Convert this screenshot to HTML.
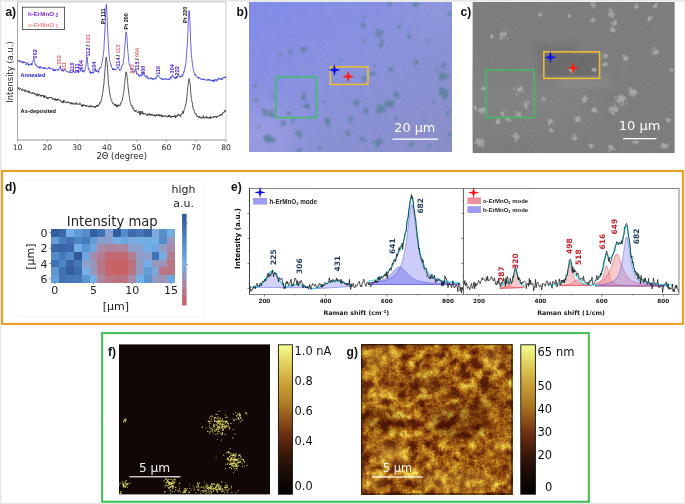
<!DOCTYPE html>
<html><head><meta charset="utf-8"><title>Figure</title>
<style>html,body{margin:0;padding:0;background:#fff;}body{width:685px;height:504px;overflow:hidden;}svg{display:block;}</style>
</head><body>
<svg width="685" height="504" viewBox="0 0 685 504">
<defs>
<linearGradient id="gb" x1="0" y1="0" x2="1" y2="1">
<stop offset="0" stop-color="#7d87ec"/><stop offset="0.45" stop-color="#858fe0"/><stop offset="1" stop-color="#868ac6"/>
</linearGradient>
<linearGradient id="gold" x1="0" y1="1" x2="0" y2="0">
<stop offset="0" stop-color="#030201"/><stop offset="0.12" stop-color="#140a05"/><stop offset="0.25" stop-color="#34160a"/>
<stop offset="0.4" stop-color="#6b2e10"/><stop offset="0.5" stop-color="#8c5218"/><stop offset="0.6" stop-color="#ab7a24"/>
<stop offset="0.72" stop-color="#c79d34"/><stop offset="0.82" stop-color="#d9bd4c"/><stop offset="0.92" stop-color="#e9e26e"/>
<stop offset="1" stop-color="#f3ff90"/>
</linearGradient>
<linearGradient id="rb" x1="0" y1="1" x2="0" y2="0">
<stop offset="0" stop-color="#cd5c5c"/><stop offset="0.25" stop-color="#a98aa8"/><stop offset="0.45" stop-color="#74b0e6"/>
<stop offset="0.7" stop-color="#5088c8"/><stop offset="1" stop-color="#2f5597"/>
</linearGradient>
<filter id="bl06" x="-50%" y="-50%" width="200%" height="200%"><feGaussianBlur stdDeviation="0.7"/></filter>
<filter id="bl1" x="-50%" y="-50%" width="200%" height="200%"><feGaussianBlur stdDeviation="1.2"/></filter>
<filter id="bl15" x="-100%" y="-100%" width="300%" height="300%"><feGaussianBlur stdDeviation="14"/></filter>
<filter id="bl3" x="-50%" y="-50%" width="200%" height="200%"><feGaussianBlur stdDeviation="3"/></filter>
<filter id="grainb" x="0" y="0" width="100%" height="100%">
<feTurbulence type="fractalNoise" baseFrequency="0.12 0.7" numOctaves="2" seed="8"/>
<feColorMatrix type="matrix" values="0 0 0 0 0.45  0 0 0 0 0.45  0 0 0 0 0.6  1.6 0 0 0 -0.55"/>
</filter>
<filter id="grain" x="0" y="0" width="100%" height="100%">
<feTurbulence type="fractalNoise" baseFrequency="0.9" numOctaves="2" seed="3"/>
<feColorMatrix type="matrix" values="0 0 0 0 0.5  0 0 0 0 0.5  0 0 0 0 0.5  1.2 0 0 0 -0.35"/>
</filter>
<filter id="afm" x="0" y="0" width="100%" height="100%" color-interpolation-filters="sRGB">
<feTurbulence type="fractalNoise" baseFrequency="0.10" numOctaves="4" seed="11" result="t"/>
<feColorMatrix type="matrix" values="1.1 1.1 0 0 -0.70  1.1 1.1 0 0 -0.70  1.1 1.1 0 0 -0.70  0 0 0 0 1" result="lo"/>
<feTurbulence type="fractalNoise" baseFrequency="0.55" numOctaves="2" seed="5" result="t2"/>
<feColorMatrix in="t2" type="matrix" values="1 1 0 0 -0.5  1 1 0 0 -0.5  1 1 0 0 -0.5  0 0 0 0 1" result="hi"/>
<feComposite in="lo" in2="hi" operator="arithmetic" k1="0" k2="1" k3="0.34" k4="-0.17"/>
<feComponentTransfer>
<feFuncR type="table" tableValues="0.33 0.42 0.52 0.61 0.70 0.78 0.85 0.91 0.95"/>
<feFuncG type="table" tableValues="0.11 0.17 0.25 0.34 0.45 0.56 0.68 0.80 0.90"/>
<feFuncB type="table" tableValues="0.03 0.04 0.05 0.07 0.10 0.14 0.20 0.29 0.40"/>
</feComponentTransfer>
</filter>
<clipPath id="cb"><rect x="249" y="2" width="203" height="150"/></clipPath>
<clipPath id="cc"><rect x="472.4" y="2" width="202.4" height="151.2"/></clipPath>
<clipPath id="cf"><rect x="119" y="344.4" width="151" height="150"/></clipPath>
<clipPath id="ca"><rect x="17.5" y="2" width="208.5" height="138"/></clipPath>
<clipPath id="ce1"><rect x="249.5" y="188.4" width="213.9" height="106.2"/></clipPath>
<clipPath id="ce2"><rect x="463.4" y="188.4" width="215.6" height="106.2"/></clipPath>
</defs>
<rect width="685" height="504" fill="#ffffff"/>
<rect x="0" y="0" width="685" height="1.6" fill="#e6e6e6"/>
<rect x="0" y="502.8" width="685" height="1.2" fill="#e6e6e6"/>

<rect x="0" y="0" width="1.5" height="504" fill="#e6e6e6"/>
<rect x="4.9" y="1.6" width="0.6" height="161" fill="#ececec"/>
<rect x="683.8" y="0" width="1.2" height="504" fill="#ececec"/>

<rect x="17.5" y="2.0" width="208.5" height="138.0" fill="#fff" stroke="#b4b4b4" stroke-width="0.7"/>
<path d="M17.5 2.0V140.0H226.0" fill="none" stroke="#9a9a9a" stroke-width="0.7"/>
<g clip-path="url(#ca)"><path d="M17.5 87.5 L17.7 88.3 L18.0 88.9 L18.2 88.8 L18.4 88.4 L18.7 87.4 L18.9 87.8 L19.1 89.4 L19.4 89.8 L19.6 89.1 L19.8 89.0 L20.1 89.0 L20.3 88.6 L20.5 88.3 L20.7 88.3 L21.0 89.0 L21.2 89.2 L21.4 89.6 L21.7 90.6 L21.9 91.0 L22.1 90.0 L22.4 89.1 L22.6 89.0 L22.8 88.9 L23.1 89.3 L23.3 90.1 L23.5 90.3 L23.8 90.2 L24.0 90.3 L24.2 90.2 L24.5 89.8 L24.7 90.8 L24.9 91.8 L25.2 90.6 L25.4 89.7 L25.6 89.9 L25.8 90.5 L26.1 91.4 L26.3 92.0 L26.5 92.0 L26.8 92.1 L27.0 92.2 L27.2 92.1 L27.5 91.9 L27.7 91.5 L27.9 90.5 L28.2 90.6 L28.4 92.4 L28.6 92.3 L28.9 91.2 L29.1 92.0 L29.3 92.4 L29.6 91.8 L29.8 92.6 L30.0 93.2 L30.3 92.9 L30.5 92.4 L30.7 92.3 L31.0 92.9 L31.2 93.1 L31.4 93.5 L31.6 93.8 L31.9 93.4 L32.1 93.2 L32.3 92.7 L32.6 92.7 L32.8 93.7 L33.0 93.3 L33.3 92.6 L33.5 92.8 L33.7 92.7 L34.0 93.0 L34.2 93.8 L34.4 93.2 L34.7 93.1 L34.9 94.2 L35.1 94.8 L35.4 94.8 L35.6 94.3 L35.8 93.7 L36.1 93.7 L36.3 94.2 L36.5 95.6 L36.7 96.1 L37.0 95.8 L37.2 95.8 L37.4 94.3 L37.7 93.6 L37.9 94.3 L38.1 95.0 L38.4 96.2 L38.6 95.3 L38.8 94.5 L39.1 95.2 L39.3 95.0 L39.5 94.5 L39.8 94.5 L40.0 95.3 L40.2 95.2 L40.5 95.4 L40.7 96.0 L40.9 95.9 L41.2 96.7 L41.4 96.0 L41.6 94.9 L41.9 95.6 L42.1 95.5 L42.3 95.0 L42.5 95.5 L42.8 96.0 L43.0 95.6 L43.2 95.4 L43.5 96.3 L43.7 97.3 L43.9 96.1 L44.2 96.1 L44.4 97.6 L44.6 96.5 L44.9 95.4 L45.1 96.2 L45.3 96.8 L45.6 96.7 L45.8 97.4 L46.0 97.2 L46.3 97.0 L46.5 97.4 L46.7 97.9 L47.0 98.6 L47.2 99.0 L47.4 98.4 L47.7 97.5 L47.9 98.6 L48.1 99.1 L48.3 98.2 L48.6 97.4 L48.8 97.6 L49.0 97.8 L49.3 97.3 L49.5 97.1 L49.7 97.1 L50.0 97.9 L50.2 97.4 L50.4 97.0 L50.7 97.8 L50.9 97.7 L51.1 97.1 L51.4 97.4 L51.6 97.4 L51.8 98.2 L52.1 98.4 L52.3 98.6 L52.5 99.6 L52.8 98.7 L53.0 98.3 L53.2 98.7 L53.4 98.2 L53.7 98.3 L53.9 98.8 L54.1 99.4 L54.4 100.1 L54.6 99.3 L54.8 98.6 L55.1 99.5 L55.3 100.3 L55.5 98.9 L55.8 99.0 L56.0 100.2 L56.2 100.4 L56.5 100.3 L56.7 99.2 L56.9 99.5 L57.2 100.6 L57.4 100.6 L57.6 98.9 L57.9 99.3 L58.1 99.8 L58.3 99.0 L58.6 99.3 L58.8 98.9 L59.0 98.9 L59.2 99.4 L59.5 99.8 L59.7 100.3 L59.9 100.5 L60.2 99.9 L60.4 100.0 L60.6 101.3 L60.9 101.9 L61.1 101.5 L61.3 101.4 L61.6 101.9 L61.8 102.3 L62.0 102.8 L62.3 102.0 L62.5 101.1 L62.7 102.0 L63.0 102.9 L63.2 103.0 L63.4 101.1 L63.7 100.3 L63.9 99.9 L64.1 100.4 L64.3 102.1 L64.6 101.8 L64.8 101.7 L65.0 102.4 L65.3 102.4 L65.5 102.3 L65.7 102.8 L66.0 102.5 L66.2 102.5 L66.4 102.4 L66.7 101.7 L66.9 102.0 L67.1 102.9 L67.4 102.6 L67.6 102.6 L67.8 103.2 L68.1 102.2 L68.3 101.7 L68.5 102.2 L68.8 101.9 L69.0 102.3 L69.2 102.4 L69.5 102.0 L69.7 102.6 L69.9 103.0 L70.1 103.1 L70.4 104.1 L70.6 103.7 L70.8 102.8 L71.1 102.5 L71.3 102.7 L71.5 103.9 L71.8 104.3 L72.0 103.4 L72.2 102.7 L72.5 103.7 L72.7 103.8 L72.9 103.7 L73.2 103.3 L73.4 103.6 L73.6 104.6 L73.9 104.2 L74.1 103.4 L74.3 103.1 L74.6 103.6 L74.8 103.9 L75.0 103.8 L75.2 103.6 L75.5 103.8 L75.7 104.6 L75.9 103.6 L76.2 102.2 L76.4 102.5 L76.6 102.9 L76.9 102.8 L77.1 103.5 L77.3 104.4 L77.6 104.1 L77.8 103.7 L78.0 104.0 L78.3 104.5 L78.5 104.6 L78.7 104.2 L79.0 104.4 L79.2 104.1 L79.4 104.4 L79.7 103.7 L79.9 102.8 L80.1 103.8 L80.4 104.5 L80.6 104.4 L80.8 105.0 L81.0 105.0 L81.3 105.1 L81.5 106.2 L81.7 105.2 L82.0 105.3 L82.2 106.4 L82.4 106.6 L82.7 104.5 L82.9 104.7 L83.1 106.0 L83.4 104.6 L83.6 104.9 L83.8 105.2 L84.1 104.9 L84.3 105.7 L84.5 105.3 L84.8 105.5 L85.0 105.4 L85.2 105.2 L85.5 105.5 L85.7 105.3 L85.9 106.6 L86.1 106.8 L86.4 105.3 L86.6 105.2 L86.8 105.4 L87.1 105.5 L87.3 106.0 L87.5 106.1 L87.8 106.1 L88.0 105.8 L88.2 106.0 L88.5 106.8 L88.7 106.3 L88.9 105.8 L89.2 106.2 L89.4 106.9 L89.6 107.4 L89.9 106.4 L90.1 106.0 L90.3 105.6 L90.6 105.1 L90.8 105.9 L91.0 106.7 L91.3 107.2 L91.5 106.7 L91.7 105.6 L91.9 105.9 L92.2 106.5 L92.4 106.6 L92.6 106.7 L92.9 106.9 L93.1 107.1 L93.3 107.2 L93.6 106.6 L93.8 106.7 L94.0 106.7 L94.3 106.2 L94.5 107.3 L94.7 107.5 L95.0 105.9 L95.2 106.5 L95.4 107.5 L95.7 107.3 L95.9 106.8 L96.1 106.4 L96.4 106.1 L96.6 105.5 L96.8 106.3 L97.1 106.4 L97.3 105.3 L97.5 105.1 L97.7 106.2 L98.0 106.7 L98.2 105.4 L98.4 104.7 L98.7 104.9 L98.9 105.1 L99.1 103.7 L99.4 103.5 L99.6 103.8 L99.8 102.7 L100.1 102.2 L100.3 102.5 L100.5 103.0 L100.8 102.2 L101.0 101.0 L101.2 99.9 L101.5 99.1 L101.7 99.1 L101.9 97.2 L102.2 95.5 L102.4 95.5 L102.6 93.6 L102.8 91.6 L103.1 91.1 L103.3 88.7 L103.5 86.2 L103.8 84.8 L104.0 82.9 L104.2 79.5 L104.5 76.7 L104.7 74.3 L104.9 71.2 L105.2 68.4 L105.4 65.0 L105.6 62.1 L105.9 59.2 L106.1 57.1 L106.3 57.3 L106.6 58.5 L106.8 61.1 L107.0 62.7 L107.3 64.9 L107.5 68.2 L107.7 70.8 L108.0 75.4 L108.2 79.2 L108.4 82.1 L108.6 85.3 L108.9 86.4 L109.1 87.0 L109.3 90.4 L109.6 92.8 L109.8 92.7 L110.0 94.6 L110.3 96.4 L110.5 96.8 L110.7 97.5 L111.0 98.8 L111.2 99.7 L111.4 100.7 L111.7 101.1 L111.9 101.1 L112.1 102.1 L112.4 102.8 L112.6 103.5 L112.8 103.6 L113.1 103.3 L113.3 103.2 L113.5 104.2 L113.7 104.3 L114.0 103.9 L114.2 104.3 L114.4 104.6 L114.7 105.6 L114.9 104.7 L115.1 104.4 L115.4 104.4 L115.6 105.3 L115.8 106.0 L116.1 104.6 L116.3 104.6 L116.5 106.0 L116.8 107.2 L117.0 107.2 L117.2 106.0 L117.5 105.3 L117.7 106.5 L117.9 106.2 L118.2 105.2 L118.4 105.0 L118.6 104.5 L118.9 105.5 L119.1 106.2 L119.3 105.7 L119.5 105.5 L119.8 105.6 L120.0 105.8 L120.2 105.0 L120.5 103.8 L120.7 103.0 L120.9 103.3 L121.2 103.1 L121.4 101.4 L121.6 100.9 L121.9 101.0 L122.1 100.9 L122.3 100.6 L122.6 98.9 L122.8 96.9 L123.0 96.0 L123.3 94.4 L123.5 93.1 L123.7 92.2 L124.0 90.5 L124.2 87.4 L124.4 84.6 L124.6 83.7 L124.9 81.4 L125.1 78.8 L125.3 77.3 L125.6 74.9 L125.8 72.6 L126.0 72.0 L126.3 71.9 L126.5 72.3 L126.7 74.1 L127.0 75.6 L127.2 77.6 L127.4 80.3 L127.7 82.3 L127.9 84.8 L128.1 87.5 L128.4 88.9 L128.6 91.1 L128.8 93.7 L129.1 95.2 L129.3 95.9 L129.5 97.9 L129.8 100.5 L130.0 101.5 L130.2 102.3 L130.4 102.2 L130.7 102.9 L130.9 103.7 L131.1 105.4 L131.4 106.2 L131.6 106.0 L131.8 105.9 L132.1 105.4 L132.3 106.3 L132.5 107.6 L132.8 108.5 L133.0 108.6 L133.2 107.7 L133.5 108.4 L133.7 109.1 L133.9 109.6 L134.2 111.2 L134.4 111.0 L134.6 110.8 L134.9 109.9 L135.1 110.9 L135.3 111.8 L135.5 111.1 L135.8 110.8 L136.0 110.4 L136.2 110.3 L136.5 110.4 L136.7 111.1 L136.9 111.5 L137.2 112.2 L137.4 112.5 L137.6 112.0 L137.9 111.9 L138.1 112.8 L138.3 112.6 L138.6 112.3 L138.8 111.7 L139.0 110.8 L139.3 112.0 L139.5 112.4 L139.7 113.8 L140.0 115.2 L140.2 113.1 L140.4 111.3 L140.7 112.1 L140.9 113.5 L141.1 114.2 L141.3 113.6 L141.6 112.4 L141.8 111.9 L142.0 111.3 L142.3 111.0 L142.5 112.6 L142.7 113.8 L143.0 113.0 L143.2 112.7 L143.4 114.2 L143.7 114.3 L143.9 113.4 L144.1 113.7 L144.4 114.1 L144.6 113.9 L144.8 113.4 L145.1 113.2 L145.3 113.6 L145.5 113.6 L145.8 114.2 L146.0 115.0 L146.2 114.9 L146.4 115.5 L146.7 115.8 L146.9 115.6 L147.1 115.0 L147.4 114.2 L147.6 115.2 L147.8 115.0 L148.1 113.6 L148.3 113.6 L148.5 114.0 L148.8 114.7 L149.0 115.2 L149.2 114.9 L149.5 113.6 L149.7 113.9 L149.9 115.2 L150.2 115.1 L150.4 114.6 L150.6 114.9 L150.9 115.7 L151.1 115.5 L151.3 114.1 L151.6 113.9 L151.8 114.5 L152.0 114.0 L152.2 114.4 L152.5 115.0 L152.7 114.9 L152.9 115.4 L153.2 115.0 L153.4 115.7 L153.6 115.6 L153.9 114.5 L154.1 115.0 L154.3 115.8 L154.6 115.6 L154.8 114.8 L155.0 115.1 L155.3 115.9 L155.5 116.7 L155.7 116.3 L156.0 115.4 L156.2 115.2 L156.4 114.4 L156.7 114.8 L156.9 115.9 L157.1 115.4 L157.4 114.7 L157.6 114.6 L157.8 115.7 L158.0 116.0 L158.3 115.6 L158.5 115.5 L158.7 115.3 L159.0 115.4 L159.2 114.2 L159.4 114.6 L159.7 116.1 L159.9 115.0 L160.1 114.7 L160.4 115.5 L160.6 115.1 L160.8 115.2 L161.1 114.8 L161.3 115.1 L161.5 116.7 L161.8 115.9 L162.0 115.3 L162.2 116.7 L162.5 116.8 L162.7 115.9 L162.9 115.4 L163.1 115.7 L163.4 116.1 L163.6 116.4 L163.8 115.7 L164.1 116.0 L164.3 116.5 L164.5 116.3 L164.8 116.2 L165.0 115.2 L165.2 115.3 L165.5 115.5 L165.7 115.6 L165.9 116.5 L166.2 117.2 L166.4 117.0 L166.6 116.2 L166.9 115.9 L167.1 116.4 L167.3 117.2 L167.6 116.8 L167.8 116.1 L168.0 115.9 L168.3 116.1 L168.5 116.9 L168.7 115.4 L168.9 115.1 L169.2 116.2 L169.4 114.9 L169.6 115.4 L169.9 116.5 L170.1 116.5 L170.3 115.9 L170.6 116.7 L170.8 117.5 L171.0 116.2 L171.3 116.9 L171.5 117.4 L171.7 117.1 L172.0 117.3 L172.2 115.9 L172.4 116.1 L172.7 116.9 L172.9 116.2 L173.1 116.9 L173.4 116.4 L173.6 116.0 L173.8 116.8 L174.0 116.6 L174.3 116.4 L174.5 115.6 L174.7 114.8 L175.0 115.0 L175.2 115.7 L175.4 118.1 L175.7 118.0 L175.9 116.1 L176.1 115.9 L176.4 116.4 L176.6 116.7 L176.8 115.7 L177.1 115.8 L177.3 116.3 L177.5 116.1 L177.8 115.1 L178.0 113.9 L178.2 115.1 L178.5 114.9 L178.7 114.7 L178.9 115.7 L179.2 115.5 L179.4 115.5 L179.6 115.4 L179.8 115.4 L180.1 114.9 L180.3 114.6 L180.5 116.1 L180.8 116.6 L181.0 115.3 L181.2 114.7 L181.5 113.9 L181.7 113.6 L181.9 113.7 L182.2 113.8 L182.4 113.2 L182.6 111.3 L182.9 111.2 L183.1 112.4 L183.3 113.5 L183.6 113.3 L183.8 111.1 L184.0 110.0 L184.3 109.5 L184.5 108.9 L184.7 108.2 L184.9 106.8 L185.2 106.6 L185.4 106.5 L185.6 105.1 L185.9 104.0 L186.1 103.7 L186.3 102.1 L186.6 99.2 L186.8 97.6 L187.0 95.0 L187.3 92.7 L187.5 90.7 L187.7 87.5 L188.0 85.5 L188.2 84.5 L188.4 82.1 L188.7 80.3 L188.9 79.9 L189.1 78.6 L189.4 79.4 L189.6 80.9 L189.8 81.5 L190.1 83.7 L190.3 86.5 L190.5 89.6 L190.7 92.1 L191.0 94.9 L191.2 97.5 L191.4 98.4 L191.7 99.7 L191.9 101.9 L192.1 102.7 L192.4 102.9 L192.6 104.6 L192.8 107.1 L193.1 108.5 L193.3 109.1 L193.5 109.6 L193.8 109.2 L194.0 109.8 L194.2 110.5 L194.5 111.6 L194.7 112.9 L194.9 112.9 L195.2 113.4 L195.4 114.0 L195.6 114.2 L195.8 114.5 L196.1 114.4 L196.3 113.8 L196.5 114.5 L196.8 116.1 L197.0 116.6 L197.2 116.0 L197.5 115.9 L197.7 116.0 L197.9 116.0 L198.2 116.1 L198.4 116.1 L198.6 117.5 L198.9 117.9 L199.1 117.8 L199.3 117.1 L199.6 116.1 L199.8 116.6 L200.0 117.3 L200.3 117.3 L200.5 117.6 L200.7 117.5 L201.0 117.7 L201.2 118.6 L201.4 117.4 L201.6 117.3 L201.9 117.8 L202.1 118.1 L202.3 117.9 L202.6 117.6 L202.8 118.2 L203.0 116.7 L203.3 115.5 L203.5 116.9 L203.7 117.8 L204.0 118.3 L204.2 118.4 L204.4 117.3 L204.7 117.4 L204.9 117.6 L205.1 117.4 L205.4 117.5 L205.6 117.8 L205.8 117.3 L206.1 116.6 L206.3 116.2 L206.5 117.8 L206.8 118.4 L207.0 116.9 L207.2 116.9 L207.4 117.0 L207.7 117.3 L207.9 117.9 L208.1 118.2 L208.4 118.1 L208.6 117.7 L208.8 117.5 L209.1 118.4 L209.3 118.4 L209.5 117.9 L209.8 116.9 L210.0 117.0 L210.2 118.2 L210.5 118.5 L210.7 117.0 L210.9 116.4 L211.2 117.7 L211.4 117.7 L211.6 117.4 L211.9 117.5 L212.1 118.1 L212.3 118.0 L212.5 117.5 L212.8 117.4 L213.0 117.3 L213.2 117.5 L213.5 117.3 L213.7 116.3 L213.9 117.3 L214.2 117.4 L214.4 116.5 L214.6 116.7 L214.9 116.5 L215.1 116.6 L215.3 116.7 L215.6 116.7 L215.8 116.0 L216.0 116.5 L216.3 117.7 L216.5 117.7 L216.7 117.0 L217.0 116.2 L217.2 116.0 L217.4 116.7 L217.7 116.3 L217.9 116.5 L218.1 116.7 L218.3 116.4 L218.6 116.1 L218.8 115.6 L219.0 115.9 L219.3 116.2 L219.5 116.2 L219.7 115.4 L220.0 114.8 L220.2 115.2 L220.4 114.4 L220.7 114.7 L220.9 115.6 L221.1 114.9 L221.4 114.1 L221.6 114.3 L221.8 114.3 L222.1 114.6 L222.3 114.8 L222.5 112.9 L222.8 112.8 L223.0 113.1 L223.2 112.3 L223.4 112.2 L223.7 112.2 L223.9 112.2 L224.1 112.4 L224.4 112.3 L224.6 111.4 L224.8 110.3 L225.1 110.0 L225.3 110.7 L225.5 111.3 L225.8 111.8 L226.0 110.5" fill="none" stroke="#141414" stroke-width="0.72"/>
<path d="M17.5 61.0 L17.7 60.3 L18.0 60.8 L18.2 60.5 L18.4 60.4 L18.7 60.8 L18.9 60.0 L19.1 60.6 L19.4 61.9 L19.6 61.1 L19.8 60.8 L20.1 61.5 L20.3 61.5 L20.5 61.2 L20.7 60.7 L21.0 61.2 L21.2 62.1 L21.4 62.0 L21.7 61.3 L21.9 62.0 L22.1 62.9 L22.4 62.0 L22.6 63.0 L22.8 63.3 L23.1 61.6 L23.3 61.5 L23.5 61.2 L23.8 62.0 L24.0 63.0 L24.2 62.2 L24.5 63.0 L24.7 62.6 L24.9 62.4 L25.2 62.3 L25.4 61.8 L25.6 62.3 L25.8 63.4 L26.1 65.0 L26.3 64.2 L26.5 63.8 L26.8 63.9 L27.0 63.9 L27.2 63.7 L27.5 62.6 L27.7 62.2 L27.9 63.3 L28.2 65.3 L28.4 65.4 L28.6 64.0 L28.9 64.9 L29.1 65.4 L29.3 64.5 L29.6 64.6 L29.8 64.5 L30.0 64.3 L30.3 63.7 L30.5 64.1 L30.7 64.8 L31.0 65.1 L31.2 65.0 L31.4 63.4 L31.6 63.4 L31.9 65.1 L32.1 64.7 L32.3 63.2 L32.6 62.3 L32.8 61.6 L33.0 61.2 L33.3 60.1 L33.5 59.7 L33.7 59.3 L34.0 58.5 L34.2 60.2 L34.4 62.1 L34.7 62.6 L34.9 63.0 L35.1 64.2 L35.4 64.6 L35.6 63.8 L35.8 64.5 L36.1 66.1 L36.3 66.2 L36.5 65.5 L36.7 65.4 L37.0 65.7 L37.2 65.7 L37.4 66.8 L37.7 67.8 L37.9 67.6 L38.1 67.1 L38.4 67.2 L38.6 67.0 L38.8 66.7 L39.1 66.5 L39.3 66.5 L39.5 68.0 L39.8 68.6 L40.0 67.3 L40.2 66.7 L40.5 66.5 L40.7 67.0 L40.9 67.7 L41.2 66.8 L41.4 66.9 L41.6 67.4 L41.9 67.9 L42.1 68.3 L42.3 68.5 L42.5 68.3 L42.8 67.3 L43.0 67.8 L43.2 68.5 L43.5 68.7 L43.7 67.6 L43.9 67.4 L44.2 68.1 L44.4 67.8 L44.6 67.6 L44.9 68.7 L45.1 68.9 L45.3 67.6 L45.6 68.2 L45.8 68.7 L46.0 68.4 L46.3 68.8 L46.5 69.1 L46.7 68.9 L47.0 69.2 L47.2 69.2 L47.4 68.5 L47.7 68.2 L47.9 68.3 L48.1 68.6 L48.3 68.4 L48.6 67.4 L48.8 68.0 L49.0 68.3 L49.3 67.3 L49.5 68.2 L49.7 68.9 L50.0 69.0 L50.2 69.1 L50.4 68.3 L50.7 68.0 L50.9 68.3 L51.1 68.9 L51.4 68.7 L51.6 68.8 L51.8 68.5 L52.1 68.6 L52.3 68.6 L52.5 68.5 L52.8 69.8 L53.0 70.4 L53.2 71.0 L53.4 69.7 L53.7 69.2 L53.9 70.7 L54.1 70.8 L54.4 69.8 L54.6 69.5 L54.8 70.9 L55.1 70.0 L55.3 69.4 L55.5 70.7 L55.8 70.1 L56.0 69.9 L56.2 69.7 L56.5 69.1 L56.7 69.2 L56.9 69.7 L57.2 70.1 L57.4 70.4 L57.6 70.0 L57.9 69.4 L58.1 70.3 L58.3 70.6 L58.6 69.3 L58.8 69.2 L59.0 69.3 L59.2 68.8 L59.5 68.6 L59.7 68.2 L59.9 67.5 L60.2 65.9 L60.4 65.7 L60.6 67.9 L60.9 69.1 L61.1 69.9 L61.3 70.5 L61.6 69.8 L61.8 70.4 L62.0 70.6 L62.3 69.1 L62.5 70.6 L62.7 70.8 L63.0 70.1 L63.2 71.5 L63.4 71.3 L63.7 70.0 L63.9 70.3 L64.1 70.3 L64.3 69.0 L64.6 69.2 L64.8 69.9 L65.0 70.0 L65.3 70.1 L65.5 70.1 L65.7 70.0 L66.0 70.0 L66.2 70.2 L66.4 71.3 L66.7 71.5 L66.9 71.5 L67.1 71.5 L67.4 71.0 L67.6 71.4 L67.8 71.7 L68.1 72.0 L68.3 72.2 L68.5 72.8 L68.8 72.7 L69.0 71.8 L69.2 71.4 L69.5 71.5 L69.7 72.4 L69.9 72.1 L70.1 71.8 L70.4 72.5 L70.6 72.5 L70.8 71.9 L71.1 72.4 L71.3 72.8 L71.5 72.5 L71.8 73.0 L72.0 73.3 L72.2 72.5 L72.5 71.6 L72.7 71.8 L72.9 71.7 L73.2 70.4 L73.4 70.9 L73.6 71.9 L73.9 71.9 L74.1 71.6 L74.3 72.1 L74.6 72.6 L74.8 72.0 L75.0 71.7 L75.2 71.7 L75.5 72.4 L75.7 72.4 L75.9 72.7 L76.2 72.7 L76.4 72.9 L76.6 72.5 L76.9 71.3 L77.1 71.2 L77.3 71.6 L77.6 71.9 L77.8 72.0 L78.0 70.8 L78.3 70.9 L78.5 72.8 L78.7 72.8 L79.0 71.9 L79.2 72.0 L79.4 71.8 L79.7 71.8 L79.9 71.6 L80.1 71.4 L80.4 70.9 L80.6 68.9 L80.8 68.1 L81.0 68.9 L81.3 69.0 L81.5 69.3 L81.7 69.3 L82.0 70.5 L82.2 71.7 L82.4 70.4 L82.7 70.0 L82.9 71.0 L83.1 72.2 L83.4 72.2 L83.6 72.0 L83.8 71.3 L84.1 70.2 L84.3 70.9 L84.5 71.5 L84.8 70.5 L85.0 70.3 L85.2 69.1 L85.5 67.2 L85.7 66.8 L85.9 66.1 L86.1 63.4 L86.4 60.9 L86.6 58.4 L86.8 56.6 L87.1 57.3 L87.3 58.1 L87.5 60.7 L87.8 64.3 L88.0 66.1 L88.2 67.2 L88.5 69.2 L88.7 69.6 L88.9 68.8 L89.2 69.7 L89.4 70.3 L89.6 71.6 L89.9 72.7 L90.1 71.8 L90.3 71.5 L90.6 73.5 L90.8 73.6 L91.0 71.9 L91.3 72.5 L91.5 73.2 L91.7 73.2 L91.9 72.5 L92.2 71.8 L92.4 72.5 L92.6 73.0 L92.9 71.8 L93.1 72.3 L93.3 73.4 L93.6 72.5 L93.8 71.8 L94.0 71.7 L94.3 71.2 L94.5 70.0 L94.7 70.2 L95.0 69.9 L95.2 70.0 L95.4 70.3 L95.7 70.2 L95.9 71.1 L96.1 72.1 L96.4 71.7 L96.6 70.1 L96.8 70.3 L97.1 70.4 L97.3 70.3 L97.5 70.9 L97.7 71.5 L98.0 71.9 L98.2 71.0 L98.4 71.4 L98.7 72.5 L98.9 70.9 L99.1 68.6 L99.4 68.4 L99.6 69.2 L99.8 67.8 L100.1 67.5 L100.3 68.1 L100.5 67.3 L100.8 67.2 L101.0 67.5 L101.2 66.4 L101.5 65.3 L101.7 64.5 L101.9 63.1 L102.2 62.4 L102.4 61.9 L102.6 60.3 L102.8 57.5 L103.1 56.3 L103.3 54.6 L103.5 52.0 L103.8 51.0 L104.0 47.8 L104.2 42.7 L104.5 37.9 L104.7 34.4 L104.9 30.0 L105.2 24.2 L105.4 19.2 L105.6 13.8 L105.9 9.1 L106.1 6.2 L106.3 4.4 L106.6 5.7 L106.8 10.6 L107.0 16.0 L107.3 21.6 L107.5 27.2 L107.7 32.4 L108.0 37.7 L108.2 41.5 L108.4 44.8 L108.6 47.8 L108.9 51.3 L109.1 54.6 L109.3 56.5 L109.6 59.1 L109.8 61.0 L110.0 61.6 L110.3 62.6 L110.5 63.0 L110.7 63.8 L111.0 65.3 L111.2 65.0 L111.4 66.3 L111.7 67.3 L111.9 67.5 L112.1 68.0 L112.4 68.6 L112.6 69.8 L112.8 69.2 L113.1 68.1 L113.3 68.6 L113.5 70.0 L113.7 70.1 L114.0 69.5 L114.2 70.1 L114.4 69.1 L114.7 68.7 L114.9 69.4 L115.1 69.9 L115.4 70.2 L115.6 69.5 L115.8 69.6 L116.1 69.3 L116.3 69.3 L116.5 69.4 L116.8 68.8 L117.0 68.2 L117.2 68.1 L117.5 67.6 L117.7 66.7 L117.9 66.7 L118.2 66.4 L118.4 67.2 L118.6 68.5 L118.9 69.0 L119.1 69.0 L119.3 68.9 L119.5 69.6 L119.8 70.9 L120.0 70.1 L120.2 69.2 L120.5 69.3 L120.7 69.2 L120.9 69.4 L121.2 69.2 L121.4 67.2 L121.6 66.0 L121.9 66.4 L122.1 66.1 L122.3 65.5 L122.6 64.5 L122.8 64.3 L123.0 64.5 L123.3 61.6 L123.5 59.1 L123.7 59.0 L124.0 57.2 L124.2 54.7 L124.4 51.5 L124.6 48.3 L124.9 46.1 L125.1 43.7 L125.3 40.0 L125.6 35.8 L125.8 33.2 L126.0 32.0 L126.3 31.9 L126.5 33.0 L126.7 34.6 L127.0 37.6 L127.2 40.8 L127.4 44.6 L127.7 49.2 L127.9 51.3 L128.1 53.7 L128.4 56.3 L128.6 58.8 L128.8 61.5 L129.1 62.5 L129.3 63.9 L129.5 65.0 L129.8 65.1 L130.0 65.9 L130.2 66.9 L130.4 67.5 L130.7 68.1 L130.9 68.2 L131.1 68.6 L131.4 69.5 L131.6 69.1 L131.8 68.4 L132.1 69.7 L132.3 71.6 L132.5 71.7 L132.8 70.9 L133.0 71.4 L133.2 73.0 L133.5 72.1 L133.7 71.7 L133.9 72.5 L134.2 71.7 L134.4 71.9 L134.6 71.4 L134.9 70.7 L135.1 71.2 L135.3 70.5 L135.5 69.5 L135.8 69.3 L136.0 70.1 L136.2 70.9 L136.5 73.0 L136.7 74.2 L136.9 73.3 L137.2 73.1 L137.4 73.3 L137.6 73.9 L137.9 74.0 L138.1 75.1 L138.3 75.5 L138.6 74.4 L138.8 75.0 L139.0 76.2 L139.3 76.8 L139.5 75.9 L139.7 75.4 L140.0 75.8 L140.2 76.0 L140.4 76.1 L140.7 75.4 L140.9 74.6 L141.1 75.2 L141.3 75.2 L141.6 75.7 L141.8 76.2 L142.0 74.9 L142.3 74.6 L142.5 74.6 L142.7 74.3 L143.0 74.7 L143.2 73.7 L143.4 72.2 L143.7 73.2 L143.9 74.4 L144.1 74.8 L144.4 75.5 L144.6 75.8 L144.8 76.3 L145.1 76.2 L145.3 76.0 L145.5 76.2 L145.8 75.8 L146.0 76.7 L146.2 77.6 L146.4 76.4 L146.7 75.7 L146.9 76.9 L147.1 78.0 L147.4 77.6 L147.6 77.1 L147.8 76.8 L148.1 78.2 L148.3 79.2 L148.5 78.4 L148.8 78.6 L149.0 78.6 L149.2 78.7 L149.5 78.1 L149.7 78.2 L149.9 78.4 L150.2 78.8 L150.4 78.4 L150.6 77.5 L150.9 78.3 L151.1 79.2 L151.3 79.0 L151.6 78.1 L151.8 77.9 L152.0 78.1 L152.2 79.1 L152.5 79.8 L152.7 79.5 L152.9 79.2 L153.2 78.3 L153.4 78.7 L153.6 79.8 L153.9 79.6 L154.1 78.7 L154.3 79.0 L154.6 78.8 L154.8 78.6 L155.0 78.4 L155.3 77.5 L155.5 78.1 L155.7 78.7 L156.0 79.3 L156.2 79.0 L156.4 77.9 L156.7 77.3 L156.9 76.2 L157.1 75.6 L157.4 76.3 L157.6 76.0 L157.8 75.7 L158.0 76.2 L158.3 75.1 L158.5 75.2 L158.7 76.0 L159.0 76.5 L159.2 77.0 L159.4 77.5 L159.7 77.6 L159.9 77.7 L160.1 78.2 L160.4 78.0 L160.6 78.7 L160.8 78.9 L161.1 78.7 L161.3 79.0 L161.5 79.5 L161.8 78.5 L162.0 78.5 L162.2 79.5 L162.5 78.9 L162.7 78.8 L162.9 78.5 L163.1 79.1 L163.4 79.7 L163.6 78.9 L163.8 79.7 L164.1 79.6 L164.3 79.4 L164.5 78.9 L164.8 78.4 L165.0 78.2 L165.2 78.4 L165.5 79.6 L165.7 79.8 L165.9 79.8 L166.2 79.1 L166.4 78.3 L166.6 78.5 L166.9 79.2 L167.1 79.6 L167.3 79.3 L167.6 79.4 L167.8 79.4 L168.0 79.0 L168.3 79.7 L168.5 79.4 L168.7 78.8 L168.9 79.9 L169.2 79.8 L169.4 79.3 L169.6 78.9 L169.9 79.4 L170.1 78.5 L170.3 76.8 L170.6 77.3 L170.8 78.5 L171.0 78.9 L171.3 77.7 L171.5 76.6 L171.7 76.4 L172.0 76.7 L172.2 75.8 L172.4 74.9 L172.7 74.8 L172.9 76.0 L173.1 77.1 L173.4 77.4 L173.6 77.5 L173.8 76.8 L174.0 77.1 L174.3 77.5 L174.5 77.6 L174.7 78.4 L175.0 78.0 L175.2 77.3 L175.4 78.1 L175.7 78.8 L175.9 77.9 L176.1 76.2 L176.4 76.4 L176.6 78.1 L176.8 78.5 L177.1 77.7 L177.3 76.6 L177.5 76.4 L177.8 76.8 L178.0 76.0 L178.2 75.2 L178.5 75.3 L178.7 75.6 L178.9 75.6 L179.2 75.8 L179.4 76.5 L179.6 76.3 L179.8 76.8 L180.1 77.4 L180.3 76.3 L180.5 76.1 L180.8 77.1 L181.0 76.3 L181.2 76.6 L181.5 76.6 L181.7 76.4 L181.9 75.8 L182.2 74.5 L182.4 75.1 L182.6 76.3 L182.9 75.6 L183.1 74.6 L183.3 73.6 L183.6 72.0 L183.8 71.6 L184.0 72.4 L184.3 70.9 L184.5 69.1 L184.7 68.2 L184.9 67.5 L185.2 67.8 L185.4 65.8 L185.6 63.6 L185.9 63.1 L186.1 61.3 L186.3 57.7 L186.6 54.3 L186.8 50.8 L187.0 48.2 L187.3 44.7 L187.5 40.1 L187.7 35.7 L188.0 29.3 L188.2 23.0 L188.4 18.6 L188.7 14.8 L188.9 12.0 L189.1 10.5 L189.4 12.5 L189.6 16.3 L189.8 19.5 L190.1 25.1 L190.3 32.0 L190.5 38.8 L190.7 43.4 L191.0 46.1 L191.2 51.3 L191.4 55.4 L191.7 57.2 L191.9 59.1 L192.1 60.9 L192.4 64.1 L192.6 66.1 L192.8 66.5 L193.1 67.7 L193.3 69.8 L193.5 70.7 L193.8 71.1 L194.0 72.3 L194.2 72.8 L194.5 72.8 L194.7 73.5 L194.9 75.3 L195.2 75.3 L195.4 74.5 L195.6 74.2 L195.8 75.1 L196.1 75.9 L196.3 76.0 L196.5 76.4 L196.8 76.0 L197.0 76.6 L197.2 77.6 L197.5 77.4 L197.7 77.5 L197.9 78.2 L198.2 78.3 L198.4 77.5 L198.6 78.2 L198.9 78.5 L199.1 77.7 L199.3 77.2 L199.6 77.7 L199.8 78.1 L200.0 77.9 L200.3 78.7 L200.5 79.1 L200.7 79.4 L201.0 79.6 L201.2 79.0 L201.4 78.7 L201.6 78.7 L201.9 79.3 L202.1 79.6 L202.3 79.1 L202.6 79.6 L202.8 79.9 L203.0 79.3 L203.3 78.5 L203.5 79.0 L203.7 80.0 L204.0 79.8 L204.2 79.5 L204.4 79.1 L204.7 79.2 L204.9 79.8 L205.1 79.9 L205.4 79.7 L205.6 79.6 L205.8 79.9 L206.1 80.3 L206.3 79.7 L206.5 80.0 L206.8 80.8 L207.0 80.9 L207.2 80.4 L207.4 80.0 L207.7 79.5 L207.9 80.0 L208.1 79.5 L208.4 79.0 L208.6 79.9 L208.8 80.5 L209.1 80.7 L209.3 79.8 L209.5 79.2 L209.8 79.3 L210.0 80.1 L210.2 80.5 L210.5 80.3 L210.7 80.0 L210.9 80.0 L211.2 80.9 L211.4 80.4 L211.6 79.9 L211.9 81.2 L212.1 81.4 L212.3 80.4 L212.5 80.4 L212.8 80.2 L213.0 79.9 L213.2 81.0 L213.5 81.9 L213.7 80.2 L213.9 79.6 L214.2 81.4 L214.4 80.7 L214.6 79.9 L214.9 80.8 L215.1 80.4 L215.3 79.9 L215.6 80.1 L215.8 78.9 L216.0 79.0 L216.3 79.9 L216.5 80.1 L216.7 81.2 L217.0 81.0 L217.2 79.8 L217.4 79.6 L217.7 79.9 L217.9 80.1 L218.1 79.3 L218.3 78.2 L218.6 77.8 L218.8 78.7 L219.0 79.7 L219.3 79.0 L219.5 78.6 L219.7 78.6 L220.0 78.5 L220.2 78.5 L220.4 78.7 L220.7 79.5 L220.9 79.8 L221.1 78.6 L221.4 78.1 L221.6 79.0 L221.8 79.5 L222.1 78.9 L222.3 79.0 L222.5 79.6 L222.8 78.5 L223.0 77.3 L223.2 77.0 L223.4 77.5 L223.7 78.1 L223.9 77.4 L224.1 77.2 L224.4 77.8 L224.6 78.0 L224.8 77.3 L225.1 78.0 L225.3 77.6 L225.5 76.3 L225.8 78.0 L226.0 78.4" fill="none" stroke="#3232da" stroke-width="0.75"/></g>
<path d="M17.5 140.0v2" stroke="#888" stroke-width="0.6"/>
<text x="17.5" y="150.2" font-family="'DejaVu Sans','Liberation Sans',sans-serif" font-size="7.6" text-anchor="middle" fill="#222">10</text>
<path d="M47.3 140.0v2" stroke="#888" stroke-width="0.6"/>
<text x="47.3" y="150.2" font-family="'DejaVu Sans','Liberation Sans',sans-serif" font-size="7.6" text-anchor="middle" fill="#222">20</text>
<path d="M77.1 140.0v2" stroke="#888" stroke-width="0.6"/>
<text x="77.1" y="150.2" font-family="'DejaVu Sans','Liberation Sans',sans-serif" font-size="7.6" text-anchor="middle" fill="#222">30</text>
<path d="M106.9 140.0v2" stroke="#888" stroke-width="0.6"/>
<text x="106.9" y="150.2" font-family="'DejaVu Sans','Liberation Sans',sans-serif" font-size="7.6" text-anchor="middle" fill="#222">40</text>
<path d="M136.6 140.0v2" stroke="#888" stroke-width="0.6"/>
<text x="136.6" y="150.2" font-family="'DejaVu Sans','Liberation Sans',sans-serif" font-size="7.6" text-anchor="middle" fill="#222">50</text>
<path d="M166.4 140.0v2" stroke="#888" stroke-width="0.6"/>
<text x="166.4" y="150.2" font-family="'DejaVu Sans','Liberation Sans',sans-serif" font-size="7.6" text-anchor="middle" fill="#222">60</text>
<path d="M196.2 140.0v2" stroke="#888" stroke-width="0.6"/>
<text x="196.2" y="150.2" font-family="'DejaVu Sans','Liberation Sans',sans-serif" font-size="7.6" text-anchor="middle" fill="#222">70</text>
<path d="M226.0 140.0v2" stroke="#888" stroke-width="0.6"/>
<text x="226.0" y="150.2" font-family="'DejaVu Sans','Liberation Sans',sans-serif" font-size="7.6" text-anchor="middle" fill="#222">80</text>
<text x="121.7" y="158.6" font-family="'DejaVu Sans','Liberation Sans',sans-serif" font-size="8.4" text-anchor="middle" fill="#222">2Θ (degree)</text>
<text transform="translate(13.4,72) rotate(-90)" font-family="'DejaVu Sans','Liberation Sans',sans-serif" font-size="8.4" text-anchor="middle" fill="#222">Intensity (a.u.)</text>
<text x="5.4" y="15.8" font-family="'Liberation Sans','DejaVu Sans',sans-serif" font-size="12" font-weight="bold" fill="#111">a)</text>
<rect x="22.4" y="7.2" width="42.2" height="22.4" fill="#fff" stroke="#3a3a3a" stroke-width="0.8"/>
<text x="27.9" y="16.1" font-family="'Liberation Sans','DejaVu Sans',sans-serif" font-size="6.2" font-weight="bold" fill="#7a2ae8">h-ErMnO <tspan font-size="4.6" dy="1.3" dx="-0.2">3</tspan></text>
<text x="27.9" y="26.5" font-family="'Liberation Sans','DejaVu Sans',sans-serif" font-size="6.2" font-weight="bold" fill="#f28a90">o-ErMnO <tspan font-size="4.6" dy="1.3" dx="-0.2">3</tspan></text>
<text x="20.6" y="77" font-family="'Liberation Sans','DejaVu Sans',sans-serif" font-size="5.5" font-weight="bold" fill="#1c1cd8">Annealed</text>
<text x="20.6" y="113.2" font-family="'Liberation Sans','DejaVu Sans',sans-serif" font-size="5.6" font-weight="bold" fill="#000">As-deposited</text>
<text transform="translate(37.0,58.4) rotate(-90)" font-family="'Liberation Sans','DejaVu Sans',sans-serif" font-size="5.5" font-weight="bold" fill="#4c1cd2">002</text>
<text transform="translate(61.0,64.4) rotate(-90)" font-family="'Liberation Sans','DejaVu Sans',sans-serif" font-size="5.5" font-weight="bold" fill="#f06a72">002</text>
<text transform="translate(66.4,70.4) rotate(-90)" font-family="'Liberation Sans','DejaVu Sans',sans-serif" font-size="5.5" font-weight="bold" fill="#f06a72">111</text>
<text transform="translate(74.4,71.4) rotate(-90)" font-family="'Liberation Sans','DejaVu Sans',sans-serif" font-size="5.5" font-weight="bold" fill="#4c1cd2">110</text>
<text transform="translate(78.6,72.0) rotate(-90)" font-family="'Liberation Sans','DejaVu Sans',sans-serif" font-size="5.5" font-weight="bold" fill="#4c1cd2">111</text>
<text transform="translate(83.4,69.4) rotate(-90)" font-family="'Liberation Sans','DejaVu Sans',sans-serif" font-size="5.5" font-weight="bold" fill="#4c1cd2">004</text>
<text transform="translate(90.0,56.4) rotate(-90)" font-family="'Liberation Sans','DejaVu Sans',sans-serif" font-size="5.5" font-weight="bold" fill="#4c1cd2">112</text>
<text transform="translate(90.0,46.4) rotate(-90)" font-family="'Liberation Sans','DejaVu Sans',sans-serif" font-size="5.5" font-weight="bold" fill="#222">/</text>
<text transform="translate(90.0,43.4) rotate(-90)" font-family="'Liberation Sans','DejaVu Sans',sans-serif" font-size="5.5" font-weight="bold" fill="#f06a72">021</text>
<text transform="translate(96.4,70.8) rotate(-90)" font-family="'Liberation Sans','DejaVu Sans',sans-serif" font-size="5.5" font-weight="bold" fill="#4c1cd2">104</text>
<text transform="translate(104.6,24.0) rotate(-90)" font-family="'Liberation Sans','DejaVu Sans',sans-serif" font-size="5.5" font-weight="bold" fill="#111">Pt 111</text>
<text transform="translate(119.6,66.4) rotate(-90)" font-family="'Liberation Sans','DejaVu Sans',sans-serif" font-size="5.5" font-weight="bold" fill="#4c1cd2">114</text>
<text transform="translate(119.6,56.4) rotate(-90)" font-family="'Liberation Sans','DejaVu Sans',sans-serif" font-size="5.5" font-weight="bold" fill="#222">/</text>
<text transform="translate(119.6,53.4) rotate(-90)" font-family="'Liberation Sans','DejaVu Sans',sans-serif" font-size="5.5" font-weight="bold" fill="#f06a72">113</text>
<text transform="translate(127.6,29.4) rotate(-90)" font-family="'Liberation Sans','DejaVu Sans',sans-serif" font-size="5.5" font-weight="bold" fill="#111">Pt 200</text>
<text transform="translate(134.0,73.4) rotate(-90)" font-family="'Liberation Sans','DejaVu Sans',sans-serif" font-size="5.5" font-weight="bold" fill="#f06a72">023</text>
<text transform="translate(139.0,70.4) rotate(-90)" font-family="'Liberation Sans','DejaVu Sans',sans-serif" font-size="5.5" font-weight="bold" fill="#4c1cd2">115</text>
<text transform="translate(139.0,60.0) rotate(-90)" font-family="'Liberation Sans','DejaVu Sans',sans-serif" font-size="5.5" font-weight="bold" fill="#222">/</text>
<text transform="translate(139.0,57.0) rotate(-90)" font-family="'Liberation Sans','DejaVu Sans',sans-serif" font-size="5.5" font-weight="bold" fill="#f06a72">004</text>
<text transform="translate(145.4,74.8) rotate(-90)" font-family="'Liberation Sans','DejaVu Sans',sans-serif" font-size="5.5" font-weight="bold" fill="#4c1cd2">300</text>
<text transform="translate(159.6,74.8) rotate(-90)" font-family="'Liberation Sans','DejaVu Sans',sans-serif" font-size="5.5" font-weight="bold" fill="#4c1cd2">116</text>
<text transform="translate(174.4,73.4) rotate(-90)" font-family="'Liberation Sans','DejaVu Sans',sans-serif" font-size="5.5" font-weight="bold" fill="#4c1cd2">304</text>
<text transform="translate(179.0,75.4) rotate(-90)" font-family="'Liberation Sans','DejaVu Sans',sans-serif" font-size="5.5" font-weight="bold" fill="#4c1cd2">222</text>
<text transform="translate(187.0,23.0) rotate(-90)" font-family="'Liberation Sans','DejaVu Sans',sans-serif" font-size="5.5" font-weight="bold" fill="#111">Pt 220</text>
<g clip-path="url(#cb)">
<rect x="249" y="2" width="203" height="150" fill="url(#gb)"/>
<ellipse cx="258" cy="136" rx="40" ry="32" fill="#a09ee6" opacity="0.6" filter="url(#bl15)"/>
<ellipse cx="440" cy="12" rx="36" ry="24" fill="#9098e0" opacity="0.5" filter="url(#bl15)"/>
<g filter="url(#bl1)" fill="#5c80a2" fill-opacity="0.92">
<circle cx="255.7" cy="85.2" r="0.8"/>
<circle cx="255.0" cy="86.0" r="1.2"/>
<circle cx="255.7" cy="85.0" r="1.2"/>
<circle cx="254.9" cy="87.2" r="1.1"/>
<circle cx="255.0" cy="85.3" r="1.3"/>
<circle cx="256.3" cy="86.1" r="0.8"/>
<circle cx="272.3" cy="95.6" r="0.8"/>
<circle cx="272.9" cy="96.1" r="0.8"/>
<circle cx="273.1" cy="96.8" r="1.0"/>
<circle cx="272.9" cy="94.8" r="0.9"/>
<circle cx="272.3" cy="95.1" r="1.1"/>
<circle cx="273.3" cy="96.9" r="0.8"/>
<circle cx="253.8" cy="100.8" r="0.8"/>
<circle cx="256.5" cy="100.1" r="1.4"/>
<circle cx="254.8" cy="98.9" r="0.8"/>
<circle cx="253.6" cy="98.8" r="0.8"/>
<circle cx="255.7" cy="99.2" r="1.3"/>
<circle cx="254.9" cy="98.7" r="0.8"/>
<circle cx="266.0" cy="112.2" r="1.3"/>
<circle cx="265.0" cy="114.9" r="1.6"/>
<circle cx="264.3" cy="113.7" r="1.4"/>
<circle cx="264.1" cy="113.0" r="1.2"/>
<circle cx="262.5" cy="110.3" r="1.4"/>
<circle cx="265.8" cy="111.9" r="1.5"/>
<circle cx="266.5" cy="111.4" r="1.9"/>
<circle cx="264.8" cy="110.9" r="1.9"/>
<circle cx="270.8" cy="115.1" r="1.6"/>
<circle cx="273.2" cy="115.2" r="1.2"/>
<circle cx="274.9" cy="116.5" r="1.4"/>
<circle cx="269.4" cy="113.4" r="1.3"/>
<circle cx="272.7" cy="111.3" r="1.7"/>
<circle cx="268.7" cy="114.5" r="1.6"/>
<circle cx="271.6" cy="114.5" r="1.9"/>
<circle cx="270.9" cy="115.7" r="1.7"/>
<circle cx="304.6" cy="97.7" r="1.8"/>
<circle cx="305.0" cy="99.1" r="1.3"/>
<circle cx="301.9" cy="98.5" r="1.7"/>
<circle cx="304.6" cy="95.2" r="1.2"/>
<circle cx="303.6" cy="97.3" r="1.1"/>
<circle cx="303.1" cy="98.1" r="1.5"/>
<circle cx="303.5" cy="96.0" r="1.5"/>
<circle cx="304.1" cy="93.9" r="1.4"/>
<circle cx="306.3" cy="106.9" r="1.7"/>
<circle cx="308.3" cy="107.3" r="1.9"/>
<circle cx="306.7" cy="106.0" r="2.0"/>
<circle cx="306.8" cy="107.1" r="1.2"/>
<circle cx="302.4" cy="106.6" r="1.3"/>
<circle cx="305.7" cy="105.0" r="2.0"/>
<circle cx="308.2" cy="106.0" r="2.1"/>
<circle cx="307.9" cy="106.3" r="1.3"/>
<circle cx="288.2" cy="113.8" r="1.0"/>
<circle cx="289.9" cy="113.2" r="1.3"/>
<circle cx="287.8" cy="112.8" r="1.4"/>
<circle cx="288.9" cy="112.8" r="1.2"/>
<circle cx="288.1" cy="114.4" r="1.0"/>
<circle cx="289.4" cy="113.4" r="1.3"/>
<circle cx="292.7" cy="121.2" r="0.8"/>
<circle cx="294.6" cy="119.2" r="1.4"/>
<circle cx="292.2" cy="120.1" r="1.4"/>
<circle cx="292.9" cy="119.9" r="0.9"/>
<circle cx="292.8" cy="120.9" r="1.3"/>
<circle cx="292.0" cy="122.7" r="1.3"/>
<circle cx="283.2" cy="122.0" r="1.7"/>
<circle cx="282.0" cy="124.7" r="1.5"/>
<circle cx="285.0" cy="124.2" r="1.3"/>
<circle cx="282.4" cy="123.8" r="1.3"/>
<circle cx="283.0" cy="121.6" r="1.2"/>
<circle cx="283.7" cy="120.8" r="1.1"/>
<circle cx="284.4" cy="123.8" r="1.7"/>
<circle cx="265.3" cy="137.6" r="2.3"/>
<circle cx="268.3" cy="136.4" r="2.3"/>
<circle cx="269.5" cy="138.4" r="2.1"/>
<circle cx="272.9" cy="139.7" r="2.7"/>
<circle cx="268.4" cy="138.3" r="1.7"/>
<circle cx="268.9" cy="140.0" r="2.5"/>
<circle cx="269.7" cy="137.4" r="1.5"/>
<circle cx="268.4" cy="141.0" r="2.4"/>
<circle cx="266.4" cy="139.9" r="2.1"/>
<circle cx="265.5" cy="138.3" r="2.1"/>
<circle cx="297.5" cy="134.0" r="1.3"/>
<circle cx="299.8" cy="136.9" r="1.9"/>
<circle cx="299.9" cy="135.1" r="1.1"/>
<circle cx="296.8" cy="134.6" r="1.2"/>
<circle cx="300.0" cy="132.0" r="1.4"/>
<circle cx="296.8" cy="132.7" r="1.9"/>
<circle cx="300.0" cy="134.2" r="1.9"/>
<circle cx="328.4" cy="121.1" r="2.2"/>
<circle cx="328.9" cy="122.3" r="1.4"/>
<circle cx="328.2" cy="118.7" r="1.6"/>
<circle cx="326.7" cy="122.6" r="1.8"/>
<circle cx="326.1" cy="120.1" r="2.0"/>
<circle cx="328.3" cy="118.1" r="1.4"/>
<circle cx="326.4" cy="121.7" r="1.2"/>
<circle cx="327.8" cy="124.6" r="1.9"/>
<circle cx="357.4" cy="101.2" r="1.9"/>
<circle cx="357.2" cy="104.7" r="1.0"/>
<circle cx="356.1" cy="102.5" r="1.4"/>
<circle cx="354.2" cy="102.9" r="1.3"/>
<circle cx="355.6" cy="104.1" r="1.9"/>
<circle cx="356.2" cy="101.3" r="1.6"/>
<circle cx="357.3" cy="103.8" r="1.7"/>
<circle cx="366.7" cy="110.6" r="1.2"/>
<circle cx="366.8" cy="113.4" r="1.3"/>
<circle cx="366.4" cy="111.3" r="1.4"/>
<circle cx="364.5" cy="109.6" r="1.2"/>
<circle cx="366.2" cy="109.2" r="1.3"/>
<circle cx="364.7" cy="112.0" r="1.4"/>
<circle cx="367.3" cy="111.2" r="1.0"/>
<circle cx="351.3" cy="119.3" r="1.4"/>
<circle cx="350.3" cy="118.3" r="1.5"/>
<circle cx="352.4" cy="117.9" r="1.4"/>
<circle cx="352.3" cy="118.8" r="0.9"/>
<circle cx="351.7" cy="118.9" r="1.6"/>
<circle cx="351.7" cy="119.5" r="1.4"/>
<circle cx="350.5" cy="120.7" r="1.6"/>
<circle cx="346.9" cy="134.0" r="1.0"/>
<circle cx="347.1" cy="131.4" r="1.4"/>
<circle cx="348.1" cy="133.1" r="1.7"/>
<circle cx="349.0" cy="135.2" r="1.4"/>
<circle cx="348.9" cy="135.1" r="1.2"/>
<circle cx="346.5" cy="134.0" r="0.9"/>
<circle cx="346.5" cy="132.5" r="1.4"/>
<circle cx="323.6" cy="101.8" r="0.8"/>
<circle cx="323.1" cy="102.9" r="0.8"/>
<circle cx="323.1" cy="102.7" r="0.8"/>
<circle cx="322.7" cy="102.5" r="0.8"/>
<circle cx="323.8" cy="102.6" r="0.9"/>
<circle cx="364.5" cy="79.7" r="1.0"/>
<circle cx="363.6" cy="82.2" r="0.9"/>
<circle cx="365.6" cy="78.6" r="1.2"/>
<circle cx="363.4" cy="76.4" r="1.3"/>
<circle cx="364.6" cy="79.5" r="1.1"/>
<circle cx="363.0" cy="77.8" r="1.5"/>
<circle cx="363.7" cy="79.8" r="1.5"/>
<circle cx="259.4" cy="127.0" r="0.9"/>
<circle cx="259.1" cy="127.7" r="0.8"/>
<circle cx="258.7" cy="127.7" r="1.0"/>
<circle cx="257.5" cy="127.3" r="0.8"/>
<circle cx="258.8" cy="127.4" r="0.8"/>
<circle cx="361.9" cy="138.3" r="1.4"/>
<circle cx="363.2" cy="140.2" r="1.1"/>
<circle cx="362.7" cy="139.6" r="1.0"/>
<circle cx="361.2" cy="138.5" r="1.1"/>
<circle cx="361.4" cy="139.1" r="1.0"/>
<circle cx="364.1" cy="140.4" r="1.2"/>
<circle cx="362.2" cy="139.2" r="1.4"/>
<circle cx="362.9" cy="23.4" r="1.7"/>
<circle cx="362.8" cy="26.5" r="1.1"/>
<circle cx="362.9" cy="23.1" r="1.3"/>
<circle cx="362.8" cy="23.5" r="1.3"/>
<circle cx="363.0" cy="25.7" r="1.6"/>
<circle cx="362.0" cy="25.3" r="1.0"/>
<circle cx="365.0" cy="26.1" r="1.5"/>
<circle cx="382.2" cy="32.3" r="2.0"/>
<circle cx="376.7" cy="33.7" r="1.8"/>
<circle cx="377.7" cy="29.6" r="1.7"/>
<circle cx="379.8" cy="33.1" r="1.3"/>
<circle cx="378.0" cy="34.8" r="2.1"/>
<circle cx="378.2" cy="32.6" r="1.3"/>
<circle cx="378.0" cy="34.5" r="2.4"/>
<circle cx="380.1" cy="35.7" r="1.5"/>
<circle cx="380.2" cy="34.1" r="2.0"/>
<circle cx="382.7" cy="40.3" r="1.2"/>
<circle cx="382.4" cy="42.2" r="1.1"/>
<circle cx="382.8" cy="40.5" r="1.3"/>
<circle cx="381.7" cy="39.6" r="1.2"/>
<circle cx="382.8" cy="40.1" r="1.4"/>
<circle cx="382.2" cy="40.9" r="1.2"/>
<circle cx="380.9" cy="46.1" r="1.1"/>
<circle cx="381.1" cy="45.7" r="1.5"/>
<circle cx="381.7" cy="45.3" r="1.1"/>
<circle cx="380.4" cy="44.7" r="1.0"/>
<circle cx="381.5" cy="44.3" r="1.3"/>
<circle cx="381.4" cy="44.2" r="0.9"/>
<circle cx="379.7" cy="44.9" r="1.4"/>
<circle cx="362.7" cy="39.8" r="0.9"/>
<circle cx="364.4" cy="40.8" r="0.8"/>
<circle cx="364.4" cy="40.2" r="0.8"/>
<circle cx="364.0" cy="41.7" r="0.9"/>
<circle cx="363.7" cy="39.6" r="0.8"/>
<circle cx="399.6" cy="28.2" r="1.1"/>
<circle cx="399.3" cy="27.5" r="1.1"/>
<circle cx="397.8" cy="27.7" r="1.3"/>
<circle cx="398.9" cy="27.3" r="0.9"/>
<circle cx="399.6" cy="28.5" r="1.0"/>
<circle cx="399.8" cy="26.2" r="1.5"/>
<circle cx="400.1" cy="26.7" r="1.4"/>
<circle cx="408.3" cy="37.2" r="1.0"/>
<circle cx="410.9" cy="37.1" r="1.0"/>
<circle cx="408.9" cy="35.3" r="1.4"/>
<circle cx="409.3" cy="36.5" r="1.4"/>
<circle cx="410.4" cy="37.1" r="1.0"/>
<circle cx="409.3" cy="38.1" r="1.1"/>
<circle cx="416.7" cy="64.0" r="1.4"/>
<circle cx="417.3" cy="61.3" r="1.4"/>
<circle cx="415.2" cy="60.5" r="1.7"/>
<circle cx="415.8" cy="61.9" r="1.7"/>
<circle cx="414.5" cy="65.1" r="1.2"/>
<circle cx="415.8" cy="61.7" r="1.6"/>
<circle cx="416.6" cy="62.0" r="1.6"/>
<circle cx="391.9" cy="68.7" r="1.2"/>
<circle cx="389.7" cy="70.0" r="0.9"/>
<circle cx="390.0" cy="69.5" r="1.7"/>
<circle cx="389.8" cy="68.8" r="1.3"/>
<circle cx="391.9" cy="69.3" r="1.3"/>
<circle cx="390.9" cy="68.9" r="1.4"/>
<circle cx="391.3" cy="70.5" r="1.7"/>
<circle cx="373.7" cy="71.8" r="1.0"/>
<circle cx="374.1" cy="73.4" r="1.6"/>
<circle cx="374.3" cy="73.2" r="1.2"/>
<circle cx="371.9" cy="75.6" r="1.1"/>
<circle cx="373.0" cy="72.4" r="0.9"/>
<circle cx="372.6" cy="74.6" r="1.3"/>
<circle cx="370.6" cy="74.1" r="1.6"/>
<circle cx="374.4" cy="66.5" r="0.8"/>
<circle cx="375.6" cy="65.6" r="0.8"/>
<circle cx="374.7" cy="66.4" r="1.1"/>
<circle cx="373.6" cy="66.0" r="0.8"/>
<circle cx="373.7" cy="66.3" r="0.9"/>
<circle cx="442.2" cy="67.2" r="1.4"/>
<circle cx="443.3" cy="64.0" r="1.1"/>
<circle cx="442.7" cy="66.1" r="1.0"/>
<circle cx="443.4" cy="62.7" r="0.9"/>
<circle cx="443.4" cy="66.0" r="1.1"/>
<circle cx="443.2" cy="65.0" r="1.3"/>
<circle cx="444.8" cy="64.0" r="1.4"/>
<circle cx="442.2" cy="78.2" r="1.4"/>
<circle cx="442.9" cy="73.8" r="2.4"/>
<circle cx="443.7" cy="76.3" r="1.8"/>
<circle cx="441.0" cy="76.3" r="2.5"/>
<circle cx="441.2" cy="78.8" r="2.1"/>
<circle cx="445.5" cy="77.7" r="2.4"/>
<circle cx="446.6" cy="76.2" r="2.5"/>
<circle cx="447.0" cy="77.4" r="1.9"/>
<circle cx="441.8" cy="76.1" r="1.5"/>
<circle cx="441.8" cy="89.3" r="2.3"/>
<circle cx="446.4" cy="93.9" r="2.6"/>
<circle cx="444.9" cy="97.4" r="2.3"/>
<circle cx="445.6" cy="92.9" r="1.9"/>
<circle cx="443.4" cy="92.8" r="1.5"/>
<circle cx="442.7" cy="93.4" r="2.7"/>
<circle cx="441.3" cy="89.4" r="2.7"/>
<circle cx="444.9" cy="92.3" r="2.7"/>
<circle cx="445.3" cy="92.0" r="2.5"/>
<circle cx="440.4" cy="93.4" r="2.1"/>
<circle cx="437.3" cy="68.8" r="1.0"/>
<circle cx="436.7" cy="69.0" r="0.8"/>
<circle cx="437.0" cy="70.0" r="1.0"/>
<circle cx="438.1" cy="71.5" r="0.9"/>
<circle cx="437.5" cy="69.5" r="0.8"/>
<circle cx="435.4" cy="70.3" r="0.8"/>
<circle cx="396.1" cy="95.0" r="1.4"/>
<circle cx="397.1" cy="92.6" r="1.3"/>
<circle cx="395.2" cy="93.2" r="1.8"/>
<circle cx="395.0" cy="95.8" r="1.1"/>
<circle cx="396.6" cy="94.6" r="1.9"/>
<circle cx="395.7" cy="95.6" r="1.8"/>
<circle cx="396.0" cy="94.0" r="1.5"/>
<circle cx="415.5" cy="4.4" r="1.6"/>
<circle cx="417.1" cy="4.2" r="1.6"/>
<circle cx="414.6" cy="3.5" r="1.2"/>
<circle cx="414.7" cy="3.7" r="1.1"/>
<circle cx="416.1" cy="4.5" r="1.6"/>
<circle cx="414.1" cy="5.5" r="1.6"/>
<circle cx="416.8" cy="5.5" r="1.5"/>
<circle cx="388.7" cy="4.3" r="1.3"/>
<circle cx="391.7" cy="4.5" r="0.8"/>
<circle cx="390.3" cy="2.7" r="1.3"/>
<circle cx="391.3" cy="3.3" r="0.8"/>
<circle cx="390.1" cy="3.8" r="1.4"/>
<circle cx="388.9" cy="2.8" r="1.0"/>
<circle cx="363.7" cy="17.0" r="0.8"/>
<circle cx="365.3" cy="16.4" r="1.0"/>
<circle cx="365.3" cy="16.4" r="0.8"/>
<circle cx="365.3" cy="17.0" r="0.8"/>
<circle cx="365.0" cy="17.0" r="1.0"/>
<circle cx="449.7" cy="13.4" r="1.5"/>
<circle cx="450.0" cy="13.2" r="1.3"/>
<circle cx="449.2" cy="13.0" r="1.4"/>
<circle cx="450.2" cy="14.6" r="1.4"/>
<circle cx="448.9" cy="13.4" r="1.0"/>
<circle cx="450.1" cy="13.1" r="1.5"/>
<circle cx="447.9" cy="14.9" r="1.0"/>
<circle cx="387.9" cy="102.3" r="2.2"/>
<circle cx="388.1" cy="103.6" r="2.3"/>
<circle cx="387.4" cy="103.0" r="1.9"/>
<circle cx="390.5" cy="104.9" r="2.8"/>
<circle cx="391.9" cy="102.6" r="2.6"/>
<circle cx="387.0" cy="103.7" r="2.7"/>
<circle cx="389.6" cy="105.3" r="1.7"/>
<circle cx="388.3" cy="103.8" r="1.8"/>
<circle cx="385.8" cy="103.5" r="1.6"/>
<circle cx="390.0" cy="104.8" r="2.2"/>
<circle cx="380.1" cy="107.1" r="1.7"/>
<circle cx="383.4" cy="110.4" r="2.3"/>
<circle cx="379.1" cy="109.9" r="2.9"/>
<circle cx="378.9" cy="109.5" r="2.4"/>
<circle cx="383.3" cy="108.7" r="2.7"/>
<circle cx="381.6" cy="107.5" r="1.7"/>
<circle cx="383.6" cy="109.0" r="1.9"/>
<circle cx="378.7" cy="112.6" r="1.8"/>
<circle cx="381.7" cy="110.2" r="2.0"/>
<circle cx="379.8" cy="106.6" r="2.6"/>
<circle cx="397.0" cy="97.0" r="0.9"/>
<circle cx="396.3" cy="96.6" r="1.4"/>
<circle cx="398.5" cy="97.4" r="0.9"/>
<circle cx="396.4" cy="95.2" r="1.1"/>
<circle cx="398.5" cy="95.3" r="1.0"/>
<circle cx="396.9" cy="94.1" r="1.6"/>
<circle cx="396.6" cy="96.3" r="1.4"/>
<circle cx="350.2" cy="120.9" r="1.3"/>
<circle cx="351.1" cy="118.0" r="1.2"/>
<circle cx="350.1" cy="120.2" r="1.3"/>
<circle cx="352.5" cy="119.1" r="0.9"/>
<circle cx="350.8" cy="119.7" r="1.3"/>
<circle cx="350.3" cy="118.6" r="1.0"/>
<circle cx="379.0" cy="142.4" r="1.9"/>
<circle cx="378.9" cy="141.6" r="2.2"/>
<circle cx="381.6" cy="140.9" r="1.7"/>
<circle cx="373.5" cy="141.9" r="1.6"/>
<circle cx="377.8" cy="141.7" r="2.3"/>
<circle cx="377.4" cy="144.7" r="2.4"/>
<circle cx="378.9" cy="140.7" r="2.3"/>
<circle cx="377.7" cy="144.7" r="1.9"/>
<circle cx="376.9" cy="146.5" r="1.4"/>
<circle cx="433.9" cy="101.8" r="1.0"/>
<circle cx="433.3" cy="101.8" r="0.9"/>
<circle cx="433.3" cy="100.9" r="0.8"/>
<circle cx="434.3" cy="102.9" r="0.8"/>
<circle cx="433.7" cy="100.5" r="0.8"/>
<circle cx="433.5" cy="102.7" r="0.8"/>
<circle cx="449.7" cy="115.1" r="1.1"/>
<circle cx="447.1" cy="115.1" r="1.2"/>
<circle cx="449.5" cy="110.9" r="0.8"/>
<circle cx="447.0" cy="113.3" r="1.0"/>
<circle cx="447.4" cy="113.7" r="1.3"/>
<circle cx="447.4" cy="111.6" r="1.0"/>
<circle cx="448.2" cy="111.3" r="1.2"/>
<circle cx="394.8" cy="117.8" r="1.0"/>
<circle cx="395.9" cy="118.4" r="1.1"/>
<circle cx="396.7" cy="117.3" r="1.0"/>
<circle cx="395.2" cy="119.6" r="0.9"/>
<circle cx="396.6" cy="117.7" r="0.8"/>
<circle cx="395.8" cy="118.1" r="1.3"/>
<circle cx="450.7" cy="136.1" r="1.2"/>
<circle cx="449.0" cy="132.8" r="1.3"/>
<circle cx="451.1" cy="135.0" r="1.1"/>
<circle cx="449.5" cy="135.8" r="1.0"/>
<circle cx="449.6" cy="134.3" r="1.5"/>
<circle cx="450.7" cy="135.9" r="1.1"/>
<circle cx="449.3" cy="133.7" r="1.3"/>
<circle cx="303.1" cy="48.2" r="1.5"/>
<circle cx="304.0" cy="51.8" r="1.2"/>
<circle cx="304.4" cy="49.1" r="2.0"/>
<circle cx="304.9" cy="50.1" r="1.3"/>
<circle cx="305.5" cy="48.4" r="1.1"/>
<circle cx="304.7" cy="50.1" r="1.3"/>
<circle cx="301.3" cy="51.1" r="1.4"/>
<circle cx="302.1" cy="49.7" r="1.8"/>
<circle cx="290.7" cy="52.3" r="1.2"/>
<circle cx="290.3" cy="52.6" r="0.9"/>
<circle cx="289.4" cy="53.2" r="1.2"/>
<circle cx="291.1" cy="50.4" r="1.3"/>
<circle cx="291.3" cy="52.8" r="1.1"/>
<circle cx="291.6" cy="53.0" r="1.0"/>
<circle cx="281.6" cy="55.4" r="1.0"/>
<circle cx="280.0" cy="55.3" r="1.0"/>
<circle cx="280.4" cy="54.1" r="0.8"/>
<circle cx="280.0" cy="55.0" r="1.0"/>
<circle cx="280.6" cy="55.7" r="1.1"/>
<circle cx="424.4" cy="120.6" r="0.8"/>
<circle cx="425.2" cy="119.5" r="0.8"/>
<circle cx="425.8" cy="119.9" r="0.9"/>
<circle cx="424.4" cy="119.8" r="1.1"/>
<circle cx="425.0" cy="119.7" r="0.8"/>
<circle cx="410.5" cy="146.6" r="1.6"/>
<circle cx="412.9" cy="143.0" r="1.5"/>
<circle cx="411.0" cy="145.9" r="1.6"/>
<circle cx="411.2" cy="144.5" r="1.4"/>
<circle cx="411.5" cy="144.3" r="0.9"/>
<circle cx="409.9" cy="145.4" r="1.1"/>
<circle cx="410.9" cy="143.6" r="1.5"/>
<circle cx="430.6" cy="145.9" r="1.0"/>
<circle cx="429.3" cy="146.7" r="1.1"/>
<circle cx="429.0" cy="146.8" r="1.3"/>
<circle cx="429.9" cy="146.3" r="1.1"/>
<circle cx="430.0" cy="145.8" r="1.2"/>
<circle cx="430.0" cy="144.7" r="0.8"/>
<circle cx="320.8" cy="147.5" r="0.9"/>
<circle cx="320.2" cy="148.3" r="0.9"/>
<circle cx="320.3" cy="147.6" r="1.2"/>
<circle cx="319.9" cy="147.9" r="1.2"/>
<circle cx="318.7" cy="148.6" r="0.8"/>
<circle cx="320.7" cy="148.0" r="0.8"/>
<circle cx="299.0" cy="150.9" r="1.3"/>
<circle cx="302.3" cy="148.1" r="0.9"/>
<circle cx="297.2" cy="149.9" r="1.4"/>
<circle cx="300.4" cy="151.9" r="1.3"/>
<circle cx="299.2" cy="150.4" r="1.3"/>
<circle cx="300.0" cy="151.4" r="1.2"/>
<circle cx="301.3" cy="149.4" r="1.0"/>
<circle cx="341.6" cy="61.1" r="0.9"/>
<circle cx="340.0" cy="60.6" r="0.8"/>
<circle cx="340.3" cy="61.2" r="0.8"/>
<circle cx="340.1" cy="59.2" r="0.8"/>
<circle cx="339.4" cy="59.2" r="0.8"/>
<circle cx="427.5" cy="40.1" r="0.8"/>
<circle cx="427.8" cy="40.2" r="0.8"/>
<circle cx="426.9" cy="40.0" r="0.8"/>
<circle cx="428.6" cy="40.0" r="0.9"/>
<circle cx="426.6" cy="39.6" r="0.8"/>
</g>
<rect x="200" y="-60" width="300" height="280" transform="rotate(-50 350 77)" filter="url(#grainb)" opacity="0.22"/>
<rect x="249" y="2" width="203" height="150" filter="url(#grain)" opacity="0.15"/>
</g>
<rect x="276" y="77" width="40.4" height="40.6" fill="none" stroke="#3cc060" stroke-width="1.4"/>
<rect x="330.4" y="66.8" width="37.6" height="17.6" fill="none" stroke="#f2bf2a" stroke-width="1.5"/>
<polygon points="334.40,64.00 335.74,68.66 340.40,70.00 335.74,71.34 334.40,76.00 333.06,71.34 328.40,70.00 333.06,68.66" fill="#1010f0"/>
<polygon points="348.20,70.60 349.54,75.26 354.20,76.60 349.54,77.94 348.20,82.60 346.86,77.94 342.20,76.60 346.86,75.26" fill="#ff2010"/>
<text x="414.8" y="131.5" font-family="'DejaVu Sans','Liberation Sans',sans-serif" font-size="12.8" text-anchor="middle" fill="#fff">20 µm</text>
<rect x="392.4" y="138.5" width="45.6" height="1.3" fill="#fff"/>
<text x="236.6" y="15.8" font-family="'Liberation Sans','DejaVu Sans',sans-serif" font-size="12" font-weight="bold" fill="#111">b)</text>
<g clip-path="url(#cc)">
<rect x="472.4" y="2" width="202.4" height="151.2" fill="#7a7a7a"/>
<rect x="440" y="70" width="150" height="60" fill="#868686" opacity="0.5" filter="url(#bl15)"/>
<rect x="536" y="45" width="40" height="30" fill="#666666" opacity="0.45" filter="url(#bl3)"/>
<rect x="560" y="74" width="50" height="14" fill="#949494" opacity="0.35" filter="url(#bl3)"/>
<rect x="545.5" y="54" width="53" height="22" fill="#676767" filter="url(#bl1)"/>
<g filter="url(#bl06)" fill="#a8a8a8" fill-opacity="0.55">
<circle cx="611.1" cy="12.1" r="0.7"/>
<circle cx="612.8" cy="12.5" r="1.3"/>
<circle cx="612.0" cy="13.9" r="0.8"/>
<circle cx="612.6" cy="10.8" r="1.0"/>
<circle cx="609.7" cy="14.5" r="1.3"/>
<circle cx="610.0" cy="12.6" r="0.8"/>
<circle cx="610.9" cy="14.4" r="0.8"/>
<circle cx="610.9" cy="10.1" r="0.8"/>
<circle cx="612.5" cy="15.5" r="1.2"/>
<circle cx="611.5" cy="14.9" r="0.8"/>
<circle cx="610.7" cy="10.7" r="0.9"/>
<circle cx="609.9" cy="9.4" r="1.3"/>
<circle cx="613.3" cy="14.3" r="1.2"/>
<circle cx="610.4" cy="12.0" r="0.7"/>
<circle cx="614.8" cy="14.5" r="0.9"/>
<circle cx="611.2" cy="12.7" r="0.9"/>
<circle cx="610.1" cy="16.3" r="0.7"/>
<circle cx="612.1" cy="17.0" r="0.8"/>
<circle cx="609.1" cy="13.2" r="0.8"/>
<circle cx="613.5" cy="18.5" r="0.8"/>
<circle cx="610.6" cy="9.8" r="0.8"/>
<circle cx="611.1" cy="13.4" r="0.9"/>
<circle cx="609.4" cy="15.4" r="1.0"/>
<circle cx="613.6" cy="16.0" r="0.9"/>
<circle cx="611.9" cy="17.2" r="1.3"/>
<circle cx="612.3" cy="15.0" r="0.9"/>
<circle cx="609.3" cy="10.7" r="0.9"/>
<circle cx="610.5" cy="11.8" r="0.9"/>
<circle cx="608.5" cy="14.2" r="0.9"/>
<circle cx="609.3" cy="14.3" r="1.1"/>
<circle cx="609.6" cy="15.0" r="1.1"/>
<circle cx="611.6" cy="15.2" r="1.0"/>
<circle cx="615.5" cy="21.2" r="1.3"/>
<circle cx="615.6" cy="23.0" r="1.2"/>
<circle cx="615.8" cy="21.2" r="0.7"/>
<circle cx="615.0" cy="24.2" r="1.3"/>
<circle cx="613.1" cy="24.6" r="1.4"/>
<circle cx="615.1" cy="21.0" r="1.0"/>
<circle cx="616.2" cy="24.3" r="1.0"/>
<circle cx="613.7" cy="22.2" r="0.7"/>
<circle cx="615.3" cy="22.9" r="1.2"/>
<circle cx="615.8" cy="22.9" r="1.5"/>
<circle cx="614.1" cy="24.3" r="1.4"/>
<circle cx="615.7" cy="24.4" r="1.0"/>
<circle cx="613.9" cy="21.7" r="1.1"/>
<circle cx="611.2" cy="23.4" r="1.3"/>
<circle cx="614.4" cy="22.6" r="0.8"/>
<circle cx="614.6" cy="23.1" r="0.9"/>
<circle cx="612.8" cy="30.6" r="1.4"/>
<circle cx="613.6" cy="30.0" r="0.8"/>
<circle cx="611.5" cy="29.2" r="1.3"/>
<circle cx="613.4" cy="28.3" r="0.8"/>
<circle cx="613.8" cy="30.7" r="1.5"/>
<circle cx="612.3" cy="28.2" r="1.5"/>
<circle cx="612.6" cy="28.2" r="1.4"/>
<circle cx="612.5" cy="30.9" r="1.5"/>
<circle cx="610.6" cy="29.7" r="1.4"/>
<circle cx="614.0" cy="29.2" r="0.7"/>
<circle cx="614.3" cy="30.3" r="1.3"/>
<circle cx="613.5" cy="30.9" r="1.5"/>
<circle cx="614.9" cy="30.8" r="1.1"/>
<circle cx="612.0" cy="30.9" r="1.2"/>
<circle cx="592.5" cy="20.0" r="1.2"/>
<circle cx="594.7" cy="20.0" r="1.2"/>
<circle cx="593.3" cy="20.3" r="0.9"/>
<circle cx="593.5" cy="18.3" r="1.0"/>
<circle cx="592.3" cy="20.5" r="1.2"/>
<circle cx="592.3" cy="21.6" r="1.2"/>
<circle cx="593.4" cy="20.1" r="0.9"/>
<circle cx="594.4" cy="19.8" r="1.0"/>
<circle cx="591.1" cy="20.5" r="1.3"/>
<circle cx="594.0" cy="19.6" r="0.7"/>
<circle cx="592.8" cy="19.7" r="0.7"/>
<circle cx="594.0" cy="20.8" r="1.2"/>
<circle cx="635.1" cy="7.1" r="1.0"/>
<circle cx="636.0" cy="4.2" r="1.4"/>
<circle cx="635.3" cy="7.1" r="0.7"/>
<circle cx="636.6" cy="5.9" r="1.2"/>
<circle cx="634.5" cy="5.8" r="0.7"/>
<circle cx="636.2" cy="6.3" r="1.3"/>
<circle cx="638.2" cy="7.0" r="1.0"/>
<circle cx="636.4" cy="7.3" r="1.5"/>
<circle cx="637.2" cy="6.0" r="1.3"/>
<circle cx="637.1" cy="7.6" r="1.5"/>
<circle cx="636.7" cy="6.0" r="1.0"/>
<circle cx="635.8" cy="6.0" r="1.3"/>
<circle cx="636.5" cy="7.5" r="0.8"/>
<circle cx="636.6" cy="9.1" r="0.8"/>
<circle cx="651.7" cy="18.8" r="0.8"/>
<circle cx="649.8" cy="18.2" r="1.3"/>
<circle cx="650.5" cy="19.4" r="0.8"/>
<circle cx="649.3" cy="18.3" r="0.8"/>
<circle cx="648.7" cy="20.4" r="1.5"/>
<circle cx="649.4" cy="19.1" r="0.7"/>
<circle cx="648.5" cy="19.3" r="0.9"/>
<circle cx="651.4" cy="17.1" r="1.4"/>
<circle cx="648.0" cy="18.3" r="0.9"/>
<circle cx="648.9" cy="16.9" r="1.0"/>
<circle cx="649.5" cy="20.1" r="0.9"/>
<circle cx="650.1" cy="18.5" r="1.2"/>
<circle cx="649.5" cy="18.0" r="0.8"/>
<circle cx="650.0" cy="18.0" r="0.7"/>
<circle cx="653.6" cy="47.7" r="1.2"/>
<circle cx="656.8" cy="50.4" r="1.0"/>
<circle cx="655.3" cy="51.2" r="0.8"/>
<circle cx="655.7" cy="53.1" r="1.1"/>
<circle cx="658.4" cy="52.7" r="1.1"/>
<circle cx="658.4" cy="50.7" r="0.9"/>
<circle cx="655.9" cy="53.2" r="1.3"/>
<circle cx="655.3" cy="53.8" r="0.8"/>
<circle cx="656.0" cy="52.4" r="1.5"/>
<circle cx="651.9" cy="49.7" r="0.9"/>
<circle cx="652.9" cy="53.9" r="1.4"/>
<circle cx="656.0" cy="52.1" r="1.0"/>
<circle cx="656.4" cy="51.9" r="1.2"/>
<circle cx="654.0" cy="52.0" r="1.5"/>
<circle cx="655.6" cy="53.5" r="1.3"/>
<circle cx="655.8" cy="48.6" r="0.8"/>
<circle cx="655.3" cy="51.1" r="1.5"/>
<circle cx="655.4" cy="52.6" r="1.0"/>
<circle cx="655.2" cy="53.2" r="1.1"/>
<circle cx="656.6" cy="51.7" r="1.1"/>
<circle cx="657.7" cy="50.6" r="0.9"/>
<circle cx="656.4" cy="51.8" r="1.4"/>
<circle cx="655.7" cy="53.6" r="1.3"/>
<circle cx="624.3" cy="57.8" r="0.8"/>
<circle cx="627.2" cy="57.7" r="1.4"/>
<circle cx="624.0" cy="55.7" r="1.3"/>
<circle cx="626.4" cy="58.9" r="1.3"/>
<circle cx="627.2" cy="58.2" r="1.0"/>
<circle cx="624.7" cy="60.0" r="0.7"/>
<circle cx="624.4" cy="58.5" r="1.1"/>
<circle cx="626.0" cy="59.9" r="1.1"/>
<circle cx="627.3" cy="58.0" r="1.5"/>
<circle cx="625.7" cy="59.5" r="1.0"/>
<circle cx="623.5" cy="55.5" r="1.1"/>
<circle cx="623.6" cy="55.2" r="0.9"/>
<circle cx="624.7" cy="59.7" r="1.4"/>
<circle cx="625.0" cy="59.8" r="0.8"/>
<circle cx="625.3" cy="59.8" r="1.3"/>
<circle cx="625.3" cy="57.5" r="1.5"/>
<circle cx="624.5" cy="59.4" r="0.9"/>
<circle cx="623.8" cy="58.2" r="1.1"/>
<circle cx="604.4" cy="65.3" r="1.1"/>
<circle cx="604.3" cy="64.3" r="0.9"/>
<circle cx="605.9" cy="63.7" r="1.2"/>
<circle cx="603.2" cy="64.9" r="1.4"/>
<circle cx="606.0" cy="63.0" r="0.9"/>
<circle cx="605.4" cy="62.4" r="1.0"/>
<circle cx="607.5" cy="65.7" r="1.1"/>
<circle cx="607.3" cy="64.0" r="0.8"/>
<circle cx="604.4" cy="65.8" r="1.2"/>
<circle cx="605.8" cy="65.0" r="0.7"/>
<circle cx="603.0" cy="63.8" r="0.7"/>
<circle cx="604.9" cy="64.5" r="0.8"/>
<circle cx="603.6" cy="64.4" r="1.3"/>
<circle cx="605.3" cy="65.1" r="1.4"/>
<circle cx="605.4" cy="63.7" r="0.9"/>
<circle cx="606.1" cy="64.0" r="1.1"/>
<circle cx="604.2" cy="64.8" r="0.7"/>
<circle cx="605.0" cy="66.0" r="0.8"/>
<circle cx="605.7" cy="56.4" r="1.2"/>
<circle cx="602.7" cy="58.2" r="1.1"/>
<circle cx="605.2" cy="56.0" r="0.8"/>
<circle cx="605.5" cy="54.6" r="1.0"/>
<circle cx="605.0" cy="57.5" r="1.1"/>
<circle cx="603.7" cy="55.6" r="1.4"/>
<circle cx="606.8" cy="57.0" r="1.0"/>
<circle cx="604.3" cy="54.8" r="1.2"/>
<circle cx="606.8" cy="56.6" r="1.1"/>
<circle cx="606.9" cy="55.4" r="1.2"/>
<circle cx="605.9" cy="56.4" r="0.8"/>
<circle cx="606.4" cy="54.9" r="1.2"/>
<circle cx="635.8" cy="92.5" r="1.5"/>
<circle cx="630.9" cy="89.9" r="1.3"/>
<circle cx="631.7" cy="93.8" r="0.7"/>
<circle cx="631.4" cy="90.4" r="1.1"/>
<circle cx="633.2" cy="92.8" r="0.7"/>
<circle cx="631.4" cy="93.1" r="1.0"/>
<circle cx="636.2" cy="92.7" r="1.5"/>
<circle cx="631.9" cy="90.0" r="0.8"/>
<circle cx="629.8" cy="88.5" r="1.5"/>
<circle cx="632.8" cy="93.2" r="1.0"/>
<circle cx="633.7" cy="93.3" r="1.4"/>
<circle cx="632.3" cy="91.9" r="0.9"/>
<circle cx="633.9" cy="89.7" r="1.2"/>
<circle cx="633.3" cy="91.6" r="1.2"/>
<circle cx="630.2" cy="88.1" r="1.0"/>
<circle cx="632.7" cy="95.8" r="1.4"/>
<circle cx="630.2" cy="94.6" r="1.3"/>
<circle cx="630.5" cy="92.6" r="1.2"/>
<circle cx="632.8" cy="93.8" r="1.1"/>
<circle cx="632.4" cy="90.7" r="1.2"/>
<circle cx="632.2" cy="92.2" r="1.0"/>
<circle cx="632.4" cy="93.2" r="0.7"/>
<circle cx="631.5" cy="93.0" r="1.3"/>
<circle cx="632.3" cy="91.0" r="0.7"/>
<circle cx="633.6" cy="91.6" r="1.3"/>
<circle cx="634.8" cy="95.1" r="0.8"/>
<circle cx="632.6" cy="91.4" r="1.4"/>
<circle cx="631.5" cy="92.1" r="0.9"/>
<circle cx="630.6" cy="91.6" r="0.7"/>
<circle cx="635.0" cy="91.9" r="0.8"/>
<circle cx="635.6" cy="91.4" r="1.1"/>
<circle cx="635.7" cy="93.6" r="1.3"/>
<circle cx="593.1" cy="3.3" r="0.7"/>
<circle cx="593.2" cy="3.9" r="0.8"/>
<circle cx="593.2" cy="5.7" r="1.1"/>
<circle cx="591.6" cy="5.2" r="1.3"/>
<circle cx="590.8" cy="3.9" r="0.9"/>
<circle cx="593.8" cy="7.2" r="1.2"/>
<circle cx="594.5" cy="5.3" r="1.4"/>
<circle cx="594.6" cy="4.8" r="1.1"/>
<circle cx="591.9" cy="1.5" r="1.5"/>
<circle cx="591.4" cy="4.4" r="0.7"/>
<circle cx="594.2" cy="3.4" r="0.8"/>
<circle cx="592.3" cy="4.8" r="1.3"/>
<circle cx="591.9" cy="5.1" r="0.9"/>
<circle cx="594.2" cy="1.9" r="1.4"/>
<circle cx="618.2" cy="99.5" r="1.0"/>
<circle cx="621.6" cy="96.8" r="1.1"/>
<circle cx="621.0" cy="99.2" r="1.5"/>
<circle cx="621.9" cy="94.6" r="0.8"/>
<circle cx="620.3" cy="96.8" r="1.4"/>
<circle cx="619.1" cy="99.1" r="1.4"/>
<circle cx="622.0" cy="96.7" r="1.4"/>
<circle cx="621.6" cy="98.4" r="0.8"/>
<circle cx="621.0" cy="97.8" r="0.7"/>
<circle cx="621.8" cy="98.3" r="1.0"/>
<circle cx="618.7" cy="99.6" r="0.8"/>
<circle cx="621.4" cy="97.2" r="1.4"/>
<circle cx="619.8" cy="97.6" r="1.4"/>
<circle cx="622.1" cy="97.1" r="1.2"/>
<circle cx="621.1" cy="95.6" r="1.0"/>
<circle cx="620.6" cy="97.5" r="1.1"/>
<circle cx="584.8" cy="98.1" r="0.8"/>
<circle cx="584.7" cy="97.1" r="0.7"/>
<circle cx="587.3" cy="98.0" r="1.1"/>
<circle cx="583.9" cy="98.7" r="1.4"/>
<circle cx="584.3" cy="98.6" r="1.0"/>
<circle cx="585.1" cy="99.0" r="1.0"/>
<circle cx="584.4" cy="99.2" r="0.7"/>
<circle cx="584.0" cy="99.7" r="1.5"/>
<circle cx="584.0" cy="98.0" r="1.3"/>
<circle cx="584.8" cy="96.0" r="1.3"/>
<circle cx="585.9" cy="99.5" r="1.4"/>
<circle cx="586.1" cy="98.7" r="1.4"/>
<circle cx="520.2" cy="90.2" r="0.8"/>
<circle cx="521.3" cy="90.1" r="1.1"/>
<circle cx="518.4" cy="90.0" r="1.1"/>
<circle cx="519.6" cy="89.6" r="1.4"/>
<circle cx="520.5" cy="87.1" r="1.5"/>
<circle cx="517.7" cy="89.6" r="1.0"/>
<circle cx="520.8" cy="90.8" r="0.7"/>
<circle cx="520.7" cy="90.2" r="0.7"/>
<circle cx="523.0" cy="90.0" r="0.7"/>
<circle cx="518.1" cy="89.4" r="1.1"/>
<circle cx="522.3" cy="92.1" r="0.7"/>
<circle cx="521.3" cy="89.7" r="1.4"/>
<circle cx="519.3" cy="90.7" r="0.8"/>
<circle cx="519.3" cy="91.5" r="0.8"/>
<circle cx="519.4" cy="88.8" r="1.2"/>
<circle cx="519.9" cy="89.1" r="1.4"/>
<circle cx="514.1" cy="88.5" r="1.3"/>
<circle cx="516.8" cy="94.2" r="1.4"/>
<circle cx="519.4" cy="90.3" r="1.5"/>
<circle cx="519.5" cy="90.7" r="0.8"/>
<circle cx="522.9" cy="91.4" r="0.7"/>
<circle cx="521.6" cy="89.5" r="0.9"/>
<circle cx="521.4" cy="87.7" r="1.3"/>
<circle cx="518.5" cy="90.2" r="0.7"/>
<circle cx="521.5" cy="89.0" r="1.4"/>
<circle cx="518.0" cy="91.0" r="1.2"/>
<circle cx="525.7" cy="105.0" r="0.8"/>
<circle cx="526.2" cy="107.2" r="1.2"/>
<circle cx="523.7" cy="103.5" r="0.7"/>
<circle cx="525.6" cy="107.3" r="1.0"/>
<circle cx="526.0" cy="107.8" r="1.4"/>
<circle cx="526.5" cy="104.2" r="0.8"/>
<circle cx="527.2" cy="104.4" r="1.3"/>
<circle cx="528.3" cy="103.0" r="1.1"/>
<circle cx="527.6" cy="102.6" r="0.7"/>
<circle cx="528.9" cy="102.1" r="1.2"/>
<circle cx="526.1" cy="102.4" r="0.8"/>
<circle cx="524.7" cy="102.7" r="0.9"/>
<circle cx="526.4" cy="104.5" r="0.8"/>
<circle cx="524.3" cy="105.2" r="0.7"/>
<circle cx="526.5" cy="107.1" r="0.8"/>
<circle cx="526.1" cy="106.2" r="1.1"/>
<circle cx="525.1" cy="105.4" r="0.9"/>
<circle cx="525.5" cy="102.9" r="1.3"/>
<circle cx="523.8" cy="105.2" r="0.9"/>
<circle cx="527.5" cy="104.7" r="1.0"/>
<circle cx="526.5" cy="105.4" r="0.7"/>
<circle cx="523.2" cy="103.3" r="0.7"/>
<circle cx="526.4" cy="100.0" r="1.1"/>
<circle cx="480.2" cy="109.4" r="1.3"/>
<circle cx="482.1" cy="109.1" r="1.1"/>
<circle cx="488.0" cy="111.4" r="0.8"/>
<circle cx="482.0" cy="110.7" r="0.7"/>
<circle cx="484.8" cy="110.2" r="1.4"/>
<circle cx="485.4" cy="113.7" r="0.8"/>
<circle cx="478.9" cy="111.1" r="1.4"/>
<circle cx="484.9" cy="108.3" r="1.3"/>
<circle cx="483.4" cy="110.8" r="1.1"/>
<circle cx="483.3" cy="110.2" r="1.2"/>
<circle cx="483.4" cy="113.3" r="1.1"/>
<circle cx="481.7" cy="111.8" r="1.2"/>
<circle cx="479.5" cy="109.4" r="0.8"/>
<circle cx="480.9" cy="109.3" r="1.5"/>
<circle cx="481.6" cy="108.7" r="0.8"/>
<circle cx="481.2" cy="110.9" r="0.9"/>
<circle cx="482.4" cy="107.9" r="0.7"/>
<circle cx="480.3" cy="111.0" r="1.4"/>
<circle cx="484.8" cy="110.2" r="1.4"/>
<circle cx="483.9" cy="109.9" r="1.1"/>
<circle cx="483.0" cy="112.0" r="0.8"/>
<circle cx="480.0" cy="114.3" r="0.7"/>
<circle cx="480.6" cy="109.7" r="1.1"/>
<circle cx="479.9" cy="110.1" r="1.3"/>
<circle cx="483.0" cy="109.7" r="1.3"/>
<circle cx="483.0" cy="109.3" r="1.2"/>
<circle cx="482.4" cy="111.2" r="1.4"/>
<circle cx="478.4" cy="110.0" r="0.7"/>
<circle cx="484.2" cy="108.5" r="1.4"/>
<circle cx="482.1" cy="108.8" r="0.8"/>
<circle cx="481.6" cy="113.3" r="1.0"/>
<circle cx="480.5" cy="109.3" r="1.4"/>
<circle cx="474.9" cy="108.8" r="1.0"/>
<circle cx="474.5" cy="108.4" r="0.9"/>
<circle cx="474.5" cy="107.0" r="1.3"/>
<circle cx="475.2" cy="106.6" r="1.2"/>
<circle cx="475.3" cy="109.7" r="1.4"/>
<circle cx="474.9" cy="106.6" r="0.8"/>
<circle cx="476.3" cy="108.5" r="1.1"/>
<circle cx="472.0" cy="109.9" r="1.2"/>
<circle cx="474.7" cy="106.7" r="0.7"/>
<circle cx="475.9" cy="107.8" r="1.1"/>
<circle cx="474.5" cy="108.3" r="0.7"/>
<circle cx="475.7" cy="107.3" r="0.8"/>
<circle cx="475.5" cy="107.2" r="1.1"/>
<circle cx="475.0" cy="106.6" r="0.8"/>
<circle cx="498.7" cy="118.9" r="1.5"/>
<circle cx="496.6" cy="121.5" r="1.2"/>
<circle cx="498.4" cy="122.5" r="0.9"/>
<circle cx="498.5" cy="121.3" r="1.3"/>
<circle cx="500.6" cy="122.3" r="0.9"/>
<circle cx="497.8" cy="122.8" r="1.3"/>
<circle cx="498.0" cy="123.4" r="0.7"/>
<circle cx="498.9" cy="122.6" r="1.1"/>
<circle cx="498.9" cy="120.4" r="1.3"/>
<circle cx="498.3" cy="119.6" r="1.3"/>
<circle cx="497.2" cy="123.7" r="1.2"/>
<circle cx="497.7" cy="121.3" r="0.9"/>
<circle cx="496.1" cy="121.8" r="0.8"/>
<circle cx="497.5" cy="124.1" r="0.9"/>
<circle cx="497.4" cy="120.8" r="1.3"/>
<circle cx="499.6" cy="122.6" r="1.3"/>
<circle cx="496.8" cy="122.9" r="0.8"/>
<circle cx="498.2" cy="121.7" r="0.7"/>
<circle cx="506.4" cy="119.3" r="1.3"/>
<circle cx="507.4" cy="118.8" r="1.4"/>
<circle cx="507.4" cy="117.2" r="0.8"/>
<circle cx="507.7" cy="117.2" r="0.7"/>
<circle cx="508.0" cy="118.9" r="1.0"/>
<circle cx="507.7" cy="118.8" r="1.3"/>
<circle cx="506.1" cy="118.2" r="1.1"/>
<circle cx="508.6" cy="117.8" r="0.9"/>
<circle cx="508.2" cy="119.7" r="1.3"/>
<circle cx="507.5" cy="120.7" r="1.1"/>
<circle cx="510.3" cy="120.5" r="1.4"/>
<circle cx="508.5" cy="117.5" r="1.2"/>
<circle cx="506.9" cy="118.6" r="1.4"/>
<circle cx="508.2" cy="118.4" r="1.2"/>
<circle cx="508.7" cy="119.2" r="1.5"/>
<circle cx="508.9" cy="117.8" r="1.3"/>
<circle cx="520.6" cy="114.0" r="0.7"/>
<circle cx="515.3" cy="111.9" r="1.3"/>
<circle cx="518.6" cy="113.7" r="1.2"/>
<circle cx="518.3" cy="114.1" r="1.1"/>
<circle cx="517.6" cy="114.0" r="0.7"/>
<circle cx="518.6" cy="115.7" r="1.3"/>
<circle cx="516.4" cy="113.7" r="0.7"/>
<circle cx="518.1" cy="114.3" r="0.8"/>
<circle cx="516.9" cy="113.3" r="0.9"/>
<circle cx="516.3" cy="116.5" r="1.4"/>
<circle cx="518.7" cy="114.6" r="1.2"/>
<circle cx="518.7" cy="112.1" r="0.7"/>
<circle cx="514.4" cy="115.5" r="0.7"/>
<circle cx="518.2" cy="114.1" r="0.8"/>
<circle cx="519.0" cy="114.7" r="1.1"/>
<circle cx="520.9" cy="115.5" r="1.4"/>
<circle cx="519.3" cy="112.7" r="1.3"/>
<circle cx="519.7" cy="115.7" r="0.9"/>
<circle cx="503.3" cy="113.8" r="0.9"/>
<circle cx="503.6" cy="112.2" r="0.7"/>
<circle cx="501.5" cy="113.2" r="1.4"/>
<circle cx="502.6" cy="114.8" r="1.2"/>
<circle cx="502.2" cy="113.0" r="1.0"/>
<circle cx="503.1" cy="115.4" r="1.5"/>
<circle cx="503.6" cy="110.8" r="1.0"/>
<circle cx="501.6" cy="112.9" r="1.0"/>
<circle cx="502.5" cy="114.2" r="1.4"/>
<circle cx="502.7" cy="113.3" r="1.1"/>
<circle cx="506.3" cy="111.5" r="0.9"/>
<circle cx="502.8" cy="113.3" r="1.2"/>
<circle cx="550.2" cy="121.2" r="0.7"/>
<circle cx="550.4" cy="121.6" r="1.0"/>
<circle cx="551.0" cy="121.7" r="1.0"/>
<circle cx="549.5" cy="120.0" r="1.1"/>
<circle cx="550.6" cy="122.6" r="0.8"/>
<circle cx="551.0" cy="121.9" r="0.8"/>
<circle cx="549.5" cy="120.1" r="1.4"/>
<circle cx="550.7" cy="119.2" r="0.8"/>
<circle cx="549.4" cy="120.7" r="1.0"/>
<circle cx="549.3" cy="124.2" r="1.3"/>
<circle cx="548.5" cy="123.3" r="1.0"/>
<circle cx="550.3" cy="120.8" r="1.4"/>
<circle cx="551.7" cy="120.5" r="1.3"/>
<circle cx="547.5" cy="121.1" r="0.8"/>
<circle cx="549.7" cy="122.7" r="1.2"/>
<circle cx="551.8" cy="121.9" r="0.9"/>
<circle cx="549.3" cy="123.3" r="0.9"/>
<circle cx="552.1" cy="121.5" r="1.2"/>
<circle cx="549.7" cy="119.6" r="0.9"/>
<circle cx="550.4" cy="122.4" r="0.9"/>
<circle cx="550.0" cy="122.9" r="1.0"/>
<circle cx="550.9" cy="129.8" r="1.4"/>
<circle cx="551.3" cy="130.2" r="0.7"/>
<circle cx="551.2" cy="131.3" r="1.5"/>
<circle cx="551.1" cy="131.5" r="1.2"/>
<circle cx="550.6" cy="128.8" r="0.9"/>
<circle cx="552.9" cy="131.1" r="1.2"/>
<circle cx="550.5" cy="130.6" r="0.9"/>
<circle cx="550.0" cy="129.4" r="1.2"/>
<circle cx="551.2" cy="129.8" r="1.1"/>
<circle cx="551.2" cy="130.1" r="1.4"/>
<circle cx="552.4" cy="130.7" r="0.9"/>
<circle cx="516.0" cy="133.4" r="0.9"/>
<circle cx="511.2" cy="135.5" r="1.1"/>
<circle cx="513.8" cy="136.3" r="1.3"/>
<circle cx="515.0" cy="136.1" r="0.8"/>
<circle cx="515.2" cy="137.1" r="1.2"/>
<circle cx="514.2" cy="135.3" r="1.2"/>
<circle cx="515.2" cy="137.6" r="1.2"/>
<circle cx="515.3" cy="134.7" r="1.0"/>
<circle cx="517.4" cy="136.2" r="1.5"/>
<circle cx="514.9" cy="134.8" r="0.7"/>
<circle cx="517.8" cy="133.8" r="0.8"/>
<circle cx="515.1" cy="134.2" r="1.0"/>
<circle cx="514.2" cy="137.3" r="1.1"/>
<circle cx="517.0" cy="137.0" r="1.0"/>
<circle cx="516.5" cy="137.9" r="1.0"/>
<circle cx="515.8" cy="136.5" r="0.7"/>
<circle cx="518.3" cy="135.9" r="1.1"/>
<circle cx="518.4" cy="137.4" r="1.3"/>
<circle cx="517.3" cy="138.4" r="1.0"/>
<circle cx="516.3" cy="133.8" r="0.8"/>
<circle cx="516.9" cy="137.4" r="1.2"/>
<circle cx="515.4" cy="137.3" r="0.9"/>
<circle cx="515.4" cy="140.8" r="0.9"/>
<circle cx="515.5" cy="140.4" r="1.5"/>
<circle cx="516.7" cy="137.9" r="0.7"/>
<circle cx="515.7" cy="133.6" r="1.0"/>
<circle cx="481.2" cy="142.2" r="1.1"/>
<circle cx="478.2" cy="140.8" r="1.5"/>
<circle cx="481.2" cy="144.0" r="0.9"/>
<circle cx="475.3" cy="143.1" r="1.0"/>
<circle cx="483.0" cy="142.4" r="0.9"/>
<circle cx="477.8" cy="140.5" r="1.4"/>
<circle cx="482.7" cy="141.7" r="1.5"/>
<circle cx="481.2" cy="140.2" r="1.0"/>
<circle cx="476.3" cy="139.2" r="1.1"/>
<circle cx="478.5" cy="143.1" r="1.0"/>
<circle cx="479.0" cy="141.2" r="0.7"/>
<circle cx="479.5" cy="143.4" r="1.1"/>
<circle cx="479.6" cy="138.8" r="0.7"/>
<circle cx="476.2" cy="142.9" r="1.0"/>
<circle cx="480.8" cy="140.6" r="0.7"/>
<circle cx="477.8" cy="146.1" r="1.2"/>
<circle cx="475.7" cy="141.9" r="0.8"/>
<circle cx="483.1" cy="140.9" r="0.7"/>
<circle cx="477.6" cy="142.8" r="0.9"/>
<circle cx="479.2" cy="144.0" r="1.4"/>
<circle cx="477.8" cy="142.5" r="0.9"/>
<circle cx="477.2" cy="141.1" r="1.4"/>
<circle cx="480.9" cy="143.1" r="1.5"/>
<circle cx="478.4" cy="141.5" r="1.4"/>
<circle cx="478.8" cy="144.0" r="0.9"/>
<circle cx="479.1" cy="143.9" r="0.8"/>
<circle cx="482.1" cy="139.8" r="1.2"/>
<circle cx="479.1" cy="141.2" r="1.0"/>
<circle cx="478.8" cy="141.8" r="0.7"/>
<circle cx="479.7" cy="144.9" r="0.7"/>
<circle cx="480.9" cy="145.2" r="1.2"/>
<circle cx="478.7" cy="142.9" r="1.0"/>
<circle cx="479.7" cy="138.5" r="0.8"/>
<circle cx="483.0" cy="146.6" r="1.5"/>
<circle cx="478.2" cy="146.0" r="0.9"/>
<circle cx="483.2" cy="144.4" r="1.3"/>
<circle cx="480.1" cy="142.3" r="1.4"/>
<circle cx="483.5" cy="141.2" r="0.7"/>
<circle cx="480.6" cy="139.5" r="1.1"/>
<circle cx="477.9" cy="142.8" r="1.3"/>
<circle cx="483.1" cy="140.9" r="1.5"/>
<circle cx="479.2" cy="141.0" r="1.4"/>
<circle cx="477.8" cy="139.2" r="1.0"/>
<circle cx="583.7" cy="99.4" r="0.8"/>
<circle cx="584.6" cy="101.6" r="0.7"/>
<circle cx="584.4" cy="101.2" r="0.9"/>
<circle cx="585.1" cy="100.0" r="0.7"/>
<circle cx="583.8" cy="99.9" r="1.4"/>
<circle cx="585.1" cy="99.4" r="1.0"/>
<circle cx="583.5" cy="101.8" r="1.0"/>
<circle cx="587.2" cy="97.9" r="1.1"/>
<circle cx="583.5" cy="99.7" r="0.7"/>
<circle cx="585.0" cy="100.4" r="1.4"/>
<circle cx="584.2" cy="100.0" r="1.1"/>
<circle cx="584.9" cy="100.2" r="1.2"/>
<circle cx="584.7" cy="98.4" r="0.9"/>
<circle cx="584.3" cy="102.0" r="1.4"/>
<circle cx="585.1" cy="101.8" r="0.8"/>
<circle cx="584.6" cy="100.5" r="0.8"/>
<circle cx="583.3" cy="99.4" r="0.8"/>
<circle cx="582.8" cy="99.3" r="1.3"/>
<circle cx="577.0" cy="118.1" r="1.1"/>
<circle cx="575.7" cy="117.8" r="1.3"/>
<circle cx="577.8" cy="119.3" r="0.7"/>
<circle cx="577.4" cy="119.9" r="0.9"/>
<circle cx="574.7" cy="118.9" r="0.8"/>
<circle cx="575.8" cy="120.9" r="1.3"/>
<circle cx="578.3" cy="118.7" r="1.5"/>
<circle cx="576.8" cy="120.2" r="1.5"/>
<circle cx="579.6" cy="119.4" r="0.7"/>
<circle cx="577.3" cy="119.7" r="1.3"/>
<circle cx="577.2" cy="118.7" r="1.4"/>
<circle cx="578.6" cy="120.1" r="1.4"/>
<circle cx="576.8" cy="119.8" r="1.1"/>
<circle cx="576.9" cy="117.9" r="1.0"/>
<circle cx="573.8" cy="136.2" r="1.2"/>
<circle cx="575.0" cy="137.3" r="1.2"/>
<circle cx="575.4" cy="138.8" r="0.9"/>
<circle cx="573.6" cy="139.0" r="1.2"/>
<circle cx="573.8" cy="139.3" r="1.1"/>
<circle cx="572.8" cy="137.6" r="1.0"/>
<circle cx="575.5" cy="137.6" r="0.9"/>
<circle cx="575.9" cy="138.2" r="1.5"/>
<circle cx="570.9" cy="138.6" r="1.0"/>
<circle cx="575.6" cy="138.2" r="0.8"/>
<circle cx="574.3" cy="138.1" r="0.7"/>
<circle cx="576.4" cy="137.9" r="1.3"/>
<circle cx="574.5" cy="135.2" r="1.4"/>
<circle cx="574.0" cy="138.0" r="1.3"/>
<circle cx="574.7" cy="140.4" r="1.1"/>
<circle cx="574.6" cy="139.2" r="1.3"/>
<circle cx="593.5" cy="109.1" r="1.0"/>
<circle cx="593.6" cy="108.9" r="1.2"/>
<circle cx="594.2" cy="110.3" r="1.3"/>
<circle cx="595.1" cy="108.1" r="1.1"/>
<circle cx="593.7" cy="111.7" r="0.9"/>
<circle cx="593.8" cy="109.3" r="1.1"/>
<circle cx="594.3" cy="108.7" r="0.9"/>
<circle cx="594.0" cy="109.9" r="1.1"/>
<circle cx="593.4" cy="107.9" r="0.9"/>
<circle cx="593.1" cy="110.2" r="1.5"/>
<circle cx="595.4" cy="109.1" r="0.8"/>
<circle cx="484.9" cy="89.2" r="1.3"/>
<circle cx="483.9" cy="89.6" r="1.0"/>
<circle cx="483.7" cy="88.6" r="1.4"/>
<circle cx="485.1" cy="89.6" r="0.8"/>
<circle cx="483.7" cy="88.9" r="1.1"/>
<circle cx="483.6" cy="88.0" r="1.2"/>
<circle cx="483.8" cy="89.1" r="1.3"/>
<circle cx="481.9" cy="89.0" r="1.4"/>
<circle cx="485.0" cy="88.5" r="1.3"/>
<circle cx="485.2" cy="87.3" r="1.2"/>
<circle cx="483.0" cy="87.6" r="1.3"/>
<circle cx="544.8" cy="99.6" r="1.0"/>
<circle cx="543.7" cy="98.0" r="1.5"/>
<circle cx="545.2" cy="99.4" r="0.9"/>
<circle cx="543.8" cy="99.6" r="0.8"/>
<circle cx="545.0" cy="100.3" r="0.8"/>
<circle cx="543.8" cy="99.9" r="0.7"/>
<circle cx="542.3" cy="99.9" r="1.2"/>
<circle cx="543.4" cy="98.1" r="1.2"/>
<circle cx="590.2" cy="146.6" r="1.0"/>
<circle cx="591.5" cy="147.2" r="0.8"/>
<circle cx="592.1" cy="145.0" r="0.7"/>
<circle cx="591.0" cy="146.1" r="0.9"/>
<circle cx="591.2" cy="145.3" r="1.3"/>
<circle cx="593.2" cy="146.1" r="1.4"/>
<circle cx="591.0" cy="144.5" r="1.3"/>
<circle cx="591.2" cy="147.2" r="1.5"/>
<circle cx="591.1" cy="146.9" r="0.8"/>
<circle cx="589.5" cy="145.0" r="1.4"/>
<circle cx="590.7" cy="146.4" r="1.0"/>
<circle cx="619.3" cy="99.1" r="1.4"/>
<circle cx="618.4" cy="103.1" r="1.2"/>
<circle cx="617.9" cy="96.8" r="0.9"/>
<circle cx="620.0" cy="102.1" r="0.7"/>
<circle cx="623.7" cy="103.0" r="0.9"/>
<circle cx="621.1" cy="101.0" r="0.7"/>
<circle cx="623.9" cy="97.3" r="1.4"/>
<circle cx="623.7" cy="100.4" r="1.2"/>
<circle cx="620.3" cy="106.1" r="1.0"/>
<circle cx="621.4" cy="98.5" r="1.4"/>
<circle cx="619.4" cy="100.7" r="1.1"/>
<circle cx="622.0" cy="100.8" r="0.9"/>
<circle cx="626.0" cy="99.2" r="0.9"/>
<circle cx="620.4" cy="95.7" r="1.1"/>
<circle cx="622.5" cy="98.1" r="1.4"/>
<circle cx="621.9" cy="98.2" r="1.0"/>
<circle cx="618.9" cy="96.6" r="1.2"/>
<circle cx="623.1" cy="96.4" r="1.1"/>
<circle cx="620.0" cy="97.3" r="0.7"/>
<circle cx="618.2" cy="100.2" r="0.9"/>
<circle cx="619.3" cy="100.5" r="0.7"/>
<circle cx="622.2" cy="100.8" r="1.0"/>
<circle cx="617.0" cy="100.6" r="1.2"/>
<circle cx="620.3" cy="98.9" r="0.9"/>
<circle cx="622.0" cy="99.4" r="1.4"/>
<circle cx="619.2" cy="100.3" r="0.9"/>
<circle cx="621.4" cy="102.3" r="1.4"/>
<circle cx="623.6" cy="96.8" r="0.8"/>
<circle cx="622.9" cy="104.8" r="1.4"/>
<circle cx="622.1" cy="99.2" r="0.7"/>
<circle cx="624.5" cy="97.8" r="1.3"/>
<circle cx="623.9" cy="98.8" r="1.2"/>
<circle cx="616.3" cy="99.7" r="1.2"/>
<circle cx="622.6" cy="100.7" r="1.5"/>
<circle cx="620.0" cy="98.2" r="0.8"/>
<circle cx="619.1" cy="97.2" r="0.8"/>
<circle cx="623.6" cy="98.5" r="1.2"/>
<circle cx="620.5" cy="99.1" r="1.0"/>
<circle cx="620.9" cy="101.7" r="1.1"/>
<circle cx="615.4" cy="97.3" r="1.4"/>
<circle cx="620.5" cy="104.3" r="0.7"/>
<circle cx="620.2" cy="101.0" r="1.0"/>
<circle cx="626.8" cy="103.7" r="1.2"/>
<circle cx="620.2" cy="101.1" r="1.5"/>
<circle cx="623.6" cy="99.5" r="1.3"/>
<circle cx="618.6" cy="101.4" r="1.4"/>
<circle cx="620.3" cy="98.5" r="0.7"/>
<circle cx="615.6" cy="108.0" r="1.4"/>
<circle cx="613.2" cy="109.7" r="1.1"/>
<circle cx="615.0" cy="109.3" r="1.0"/>
<circle cx="610.4" cy="111.5" r="1.4"/>
<circle cx="613.3" cy="112.6" r="1.4"/>
<circle cx="612.1" cy="108.6" r="1.1"/>
<circle cx="613.5" cy="108.0" r="1.5"/>
<circle cx="613.6" cy="109.0" r="0.9"/>
<circle cx="615.0" cy="105.3" r="1.1"/>
<circle cx="616.3" cy="111.3" r="1.2"/>
<circle cx="612.2" cy="109.7" r="0.7"/>
<circle cx="616.3" cy="106.2" r="0.7"/>
<circle cx="616.5" cy="110.7" r="1.4"/>
<circle cx="614.2" cy="114.8" r="1.0"/>
<circle cx="614.8" cy="109.7" r="1.1"/>
<circle cx="613.6" cy="112.0" r="1.3"/>
<circle cx="615.5" cy="109.2" r="1.4"/>
<circle cx="612.0" cy="107.8" r="1.3"/>
<circle cx="616.0" cy="108.5" r="0.7"/>
<circle cx="613.3" cy="108.4" r="0.7"/>
<circle cx="614.2" cy="103.3" r="0.9"/>
<circle cx="612.1" cy="109.0" r="1.5"/>
<circle cx="615.9" cy="107.4" r="0.9"/>
<circle cx="614.1" cy="111.3" r="0.8"/>
<circle cx="611.4" cy="108.6" r="1.3"/>
<circle cx="612.7" cy="113.4" r="1.3"/>
<circle cx="612.0" cy="110.1" r="1.0"/>
<circle cx="613.4" cy="113.1" r="1.3"/>
<circle cx="608.4" cy="109.2" r="1.1"/>
<circle cx="616.5" cy="110.2" r="1.5"/>
<circle cx="616.3" cy="109.9" r="1.0"/>
<circle cx="609.2" cy="107.6" r="0.8"/>
<circle cx="611.9" cy="107.3" r="1.3"/>
<circle cx="611.0" cy="112.5" r="0.9"/>
<circle cx="613.8" cy="108.6" r="1.1"/>
<circle cx="618.1" cy="108.8" r="1.4"/>
<circle cx="609.9" cy="109.6" r="1.5"/>
<circle cx="615.0" cy="106.7" r="0.8"/>
<circle cx="614.6" cy="109.1" r="0.8"/>
<circle cx="632.1" cy="94.0" r="1.1"/>
<circle cx="634.1" cy="91.7" r="1.1"/>
<circle cx="634.3" cy="95.4" r="1.0"/>
<circle cx="631.9" cy="90.4" r="1.4"/>
<circle cx="628.5" cy="90.7" r="1.2"/>
<circle cx="633.3" cy="92.3" r="0.9"/>
<circle cx="632.7" cy="91.8" r="0.8"/>
<circle cx="632.8" cy="91.9" r="1.0"/>
<circle cx="635.1" cy="92.5" r="1.4"/>
<circle cx="635.0" cy="91.4" r="1.2"/>
<circle cx="632.1" cy="91.0" r="0.8"/>
<circle cx="631.5" cy="91.1" r="0.9"/>
<circle cx="634.0" cy="90.2" r="0.9"/>
<circle cx="633.4" cy="91.9" r="1.2"/>
<circle cx="632.4" cy="91.6" r="1.4"/>
<circle cx="632.6" cy="91.8" r="1.2"/>
<circle cx="631.8" cy="93.4" r="1.3"/>
<circle cx="632.0" cy="92.2" r="1.4"/>
<circle cx="634.8" cy="90.6" r="1.2"/>
<circle cx="634.4" cy="91.6" r="0.7"/>
<circle cx="633.7" cy="91.7" r="0.8"/>
<circle cx="596.3" cy="109.7" r="0.9"/>
<circle cx="593.9" cy="109.2" r="1.3"/>
<circle cx="592.0" cy="110.8" r="1.4"/>
<circle cx="594.1" cy="110.4" r="1.5"/>
<circle cx="596.1" cy="110.6" r="1.1"/>
<circle cx="594.9" cy="110.2" r="1.0"/>
<circle cx="592.8" cy="110.4" r="1.1"/>
<circle cx="595.1" cy="110.2" r="0.8"/>
<circle cx="595.0" cy="110.0" r="0.8"/>
<circle cx="596.9" cy="108.6" r="0.8"/>
<circle cx="596.8" cy="112.0" r="1.4"/>
<circle cx="595.5" cy="109.8" r="0.9"/>
<circle cx="595.5" cy="111.0" r="1.2"/>
<circle cx="594.0" cy="109.8" r="1.0"/>
<circle cx="580.3" cy="119.1" r="0.7"/>
<circle cx="579.0" cy="120.0" r="1.4"/>
<circle cx="579.2" cy="117.3" r="1.4"/>
<circle cx="580.1" cy="121.6" r="1.1"/>
<circle cx="578.9" cy="119.2" r="1.2"/>
<circle cx="577.0" cy="120.1" r="1.3"/>
<circle cx="579.5" cy="118.7" r="1.0"/>
<circle cx="576.9" cy="120.1" r="1.0"/>
<circle cx="576.6" cy="119.9" r="1.4"/>
<circle cx="576.8" cy="120.8" r="1.2"/>
<circle cx="578.6" cy="119.3" r="1.0"/>
<circle cx="577.7" cy="118.1" r="1.4"/>
<circle cx="615.0" cy="149.7" r="1.1"/>
<circle cx="611.6" cy="146.8" r="1.3"/>
<circle cx="611.9" cy="148.4" r="1.0"/>
<circle cx="608.9" cy="146.9" r="1.3"/>
<circle cx="611.1" cy="149.0" r="1.0"/>
<circle cx="612.9" cy="147.6" r="1.5"/>
<circle cx="611.8" cy="147.2" r="1.4"/>
<circle cx="608.8" cy="145.4" r="0.7"/>
<circle cx="611.4" cy="145.5" r="1.1"/>
<circle cx="612.3" cy="148.9" r="1.0"/>
<circle cx="609.7" cy="147.0" r="1.0"/>
<circle cx="611.7" cy="146.5" r="0.7"/>
<circle cx="610.0" cy="148.4" r="1.3"/>
<circle cx="611.5" cy="149.6" r="1.5"/>
<circle cx="609.8" cy="145.1" r="0.8"/>
<circle cx="608.5" cy="150.7" r="1.5"/>
<circle cx="610.9" cy="148.0" r="0.8"/>
<circle cx="612.2" cy="148.7" r="1.2"/>
<circle cx="612.1" cy="149.6" r="1.0"/>
<circle cx="611.1" cy="147.3" r="1.2"/>
<circle cx="611.4" cy="149.5" r="1.0"/>
<circle cx="663.8" cy="144.5" r="1.5"/>
<circle cx="666.5" cy="146.7" r="1.4"/>
<circle cx="662.7" cy="144.5" r="1.3"/>
<circle cx="664.0" cy="146.0" r="1.3"/>
<circle cx="663.2" cy="146.8" r="0.7"/>
<circle cx="664.0" cy="147.0" r="1.1"/>
<circle cx="665.9" cy="147.2" r="0.9"/>
<circle cx="666.5" cy="146.3" r="1.0"/>
<circle cx="660.7" cy="147.2" r="1.4"/>
<circle cx="667.7" cy="146.4" r="0.8"/>
<circle cx="664.0" cy="147.0" r="1.3"/>
<circle cx="663.6" cy="145.1" r="1.4"/>
<circle cx="663.0" cy="144.2" r="1.2"/>
<circle cx="664.2" cy="147.9" r="1.4"/>
<circle cx="664.5" cy="146.3" r="0.8"/>
<circle cx="664.6" cy="146.9" r="1.5"/>
<circle cx="664.7" cy="143.4" r="1.0"/>
<circle cx="664.6" cy="145.1" r="0.8"/>
<circle cx="662.0" cy="148.4" r="0.7"/>
<circle cx="661.9" cy="143.9" r="0.9"/>
<circle cx="663.0" cy="146.7" r="1.1"/>
<circle cx="663.9" cy="145.2" r="1.3"/>
<circle cx="662.8" cy="145.5" r="1.1"/>
<circle cx="668.1" cy="144.5" r="0.9"/>
<circle cx="666.0" cy="145.4" r="1.4"/>
<circle cx="666.8" cy="146.4" r="1.4"/>
<circle cx="636.8" cy="142.2" r="1.2"/>
<circle cx="637.9" cy="142.3" r="1.2"/>
<circle cx="636.2" cy="142.3" r="1.1"/>
<circle cx="636.7" cy="142.4" r="1.0"/>
<circle cx="637.1" cy="141.5" r="0.7"/>
<circle cx="635.3" cy="142.0" r="1.3"/>
<circle cx="637.1" cy="141.6" r="1.2"/>
<circle cx="634.1" cy="143.2" r="1.4"/>
<circle cx="636.1" cy="142.8" r="1.2"/>
<circle cx="635.6" cy="141.1" r="1.3"/>
<circle cx="633.8" cy="142.0" r="1.1"/>
<circle cx="632.4" cy="142.3" r="1.0"/>
<circle cx="636.7" cy="142.1" r="1.4"/>
<circle cx="635.3" cy="142.1" r="1.4"/>
<circle cx="502.2" cy="35.7" r="1.4"/>
<circle cx="500.8" cy="35.3" r="1.3"/>
<circle cx="505.5" cy="33.9" r="1.2"/>
<circle cx="501.6" cy="32.8" r="0.9"/>
<circle cx="503.1" cy="33.8" r="1.0"/>
<circle cx="502.8" cy="31.7" r="0.9"/>
<circle cx="504.3" cy="37.6" r="0.8"/>
<circle cx="500.7" cy="35.7" r="1.3"/>
<circle cx="505.3" cy="34.9" r="0.7"/>
<circle cx="505.0" cy="33.4" r="0.8"/>
<circle cx="504.1" cy="33.7" r="1.4"/>
<circle cx="505.3" cy="28.8" r="0.7"/>
<circle cx="504.9" cy="34.2" r="1.5"/>
<circle cx="506.5" cy="32.8" r="0.9"/>
<circle cx="503.6" cy="36.6" r="0.9"/>
<circle cx="505.0" cy="34.5" r="1.4"/>
<circle cx="503.7" cy="35.6" r="0.7"/>
<circle cx="504.1" cy="35.6" r="0.8"/>
<circle cx="505.8" cy="34.9" r="0.7"/>
<circle cx="503.5" cy="35.1" r="1.0"/>
<circle cx="502.1" cy="38.5" r="1.3"/>
<circle cx="507.1" cy="30.8" r="1.0"/>
<circle cx="498.7" cy="34.0" r="0.9"/>
<circle cx="504.9" cy="33.3" r="0.8"/>
<circle cx="500.6" cy="38.2" r="1.3"/>
<circle cx="507.8" cy="38.5" r="1.2"/>
<circle cx="505.0" cy="33.8" r="1.0"/>
<circle cx="504.5" cy="38.6" r="0.7"/>
<circle cx="502.9" cy="32.2" r="0.7"/>
<circle cx="502.3" cy="35.2" r="1.1"/>
<circle cx="502.9" cy="35.4" r="1.0"/>
<circle cx="501.9" cy="33.8" r="1.4"/>
<circle cx="501.3" cy="33.4" r="1.3"/>
<circle cx="505.1" cy="33.1" r="0.9"/>
<circle cx="500.7" cy="38.4" r="1.4"/>
<circle cx="504.4" cy="34.7" r="0.7"/>
<circle cx="492.7" cy="34.6" r="0.8"/>
<circle cx="492.0" cy="37.7" r="1.3"/>
<circle cx="490.8" cy="37.5" r="1.2"/>
<circle cx="492.8" cy="35.8" r="1.1"/>
<circle cx="491.8" cy="36.5" r="0.8"/>
<circle cx="493.0" cy="36.4" r="0.7"/>
<circle cx="492.5" cy="36.6" r="0.8"/>
<circle cx="491.1" cy="35.7" r="1.2"/>
<circle cx="492.0" cy="37.4" r="1.1"/>
<circle cx="492.0" cy="37.0" r="0.9"/>
<circle cx="491.4" cy="38.1" r="0.8"/>
<circle cx="491.2" cy="35.5" r="1.1"/>
<circle cx="573.3" cy="69.1" r="1.0"/>
<circle cx="571.3" cy="69.5" r="1.0"/>
<circle cx="570.1" cy="70.7" r="1.3"/>
<circle cx="570.4" cy="70.5" r="0.8"/>
<circle cx="573.4" cy="70.1" r="0.7"/>
<circle cx="572.3" cy="72.1" r="1.5"/>
<circle cx="571.6" cy="70.3" r="1.5"/>
<circle cx="573.1" cy="70.1" r="1.0"/>
<circle cx="570.9" cy="68.7" r="1.4"/>
<circle cx="572.6" cy="71.3" r="1.1"/>
<circle cx="571.0" cy="68.8" r="1.4"/>
<circle cx="571.1" cy="72.0" r="0.8"/>
<circle cx="571.4" cy="69.0" r="0.7"/>
<circle cx="571.6" cy="69.8" r="1.5"/>
<circle cx="571.8" cy="70.7" r="1.0"/>
<circle cx="571.1" cy="69.5" r="1.3"/>
<circle cx="569.1" cy="69.3" r="1.1"/>
<circle cx="572.6" cy="71.9" r="0.8"/>
<circle cx="594.2" cy="71.0" r="0.8"/>
<circle cx="592.7" cy="67.8" r="0.7"/>
<circle cx="594.7" cy="69.7" r="1.2"/>
<circle cx="593.6" cy="69.8" r="1.3"/>
<circle cx="592.7" cy="69.7" r="1.5"/>
<circle cx="594.4" cy="69.6" r="1.2"/>
<circle cx="593.9" cy="69.6" r="1.3"/>
<circle cx="592.9" cy="70.3" r="0.8"/>
<circle cx="593.1" cy="69.9" r="0.9"/>
<circle cx="593.5" cy="70.1" r="1.3"/>
<circle cx="595.7" cy="70.2" r="1.3"/>
<circle cx="593.4" cy="70.0" r="0.8"/>
<circle cx="594.8" cy="68.4" r="1.1"/>
<circle cx="594.8" cy="70.5" r="1.4"/>
<circle cx="593.0" cy="70.7" r="0.8"/>
<circle cx="594.7" cy="71.9" r="0.9"/>
<circle cx="540.7" cy="15.0" r="0.7"/>
<circle cx="540.7" cy="15.2" r="0.9"/>
<circle cx="539.9" cy="13.5" r="1.0"/>
<circle cx="539.8" cy="15.4" r="0.7"/>
<circle cx="541.2" cy="12.3" r="0.7"/>
<circle cx="540.5" cy="15.2" r="0.9"/>
<circle cx="540.8" cy="15.1" r="1.3"/>
<circle cx="539.1" cy="15.2" r="0.8"/>
<circle cx="541.2" cy="13.6" r="0.8"/>
<circle cx="540.5" cy="15.9" r="1.3"/>
<circle cx="539.6" cy="14.5" r="1.5"/>
<circle cx="569.3" cy="15.9" r="1.2"/>
<circle cx="568.8" cy="15.9" r="0.9"/>
<circle cx="569.3" cy="16.7" r="1.4"/>
<circle cx="570.3" cy="15.7" r="0.8"/>
<circle cx="569.7" cy="16.7" r="1.0"/>
<circle cx="569.5" cy="15.2" r="1.4"/>
<circle cx="569.4" cy="16.9" r="0.7"/>
<circle cx="569.8" cy="15.5" r="0.9"/>
<circle cx="669.0" cy="121.5" r="0.8"/>
<circle cx="669.4" cy="120.0" r="0.7"/>
<circle cx="666.9" cy="119.2" r="1.3"/>
<circle cx="669.5" cy="119.8" r="1.3"/>
<circle cx="667.6" cy="120.7" r="1.3"/>
<circle cx="669.9" cy="119.7" r="1.2"/>
<circle cx="667.8" cy="120.3" r="1.2"/>
<circle cx="668.1" cy="122.1" r="1.3"/>
<circle cx="669.1" cy="118.9" r="1.1"/>
<circle cx="666.9" cy="119.4" r="1.1"/>
<circle cx="667.9" cy="120.2" r="1.4"/>
<circle cx="670.1" cy="69.2" r="1.4"/>
<circle cx="671.6" cy="70.4" r="1.0"/>
<circle cx="672.3" cy="70.8" r="1.3"/>
<circle cx="671.7" cy="70.0" r="1.4"/>
<circle cx="672.2" cy="70.3" r="0.8"/>
<circle cx="672.1" cy="71.5" r="1.1"/>
<circle cx="671.8" cy="70.0" r="0.8"/>
<circle cx="671.6" cy="70.4" r="0.8"/>
<circle cx="672.8" cy="69.5" r="0.7"/>
<circle cx="655.4" cy="5.6" r="0.7"/>
<circle cx="653.6" cy="6.8" r="1.2"/>
<circle cx="654.3" cy="6.4" r="0.7"/>
<circle cx="656.3" cy="4.2" r="1.5"/>
<circle cx="655.4" cy="6.8" r="1.4"/>
<circle cx="655.7" cy="5.8" r="1.3"/>
<circle cx="655.9" cy="4.6" r="1.0"/>
<circle cx="655.4" cy="5.9" r="1.3"/>
<circle cx="655.8" cy="6.1" r="1.4"/>
<circle cx="655.5" cy="4.2" r="0.9"/>
<circle cx="655.0" cy="6.3" r="1.2"/>
</g>
<rect x="472.4" y="2" width="203" height="152" filter="url(#grain)" opacity="0.22"/>
</g>
<rect x="486" y="70" width="48.2" height="47.6" fill="none" stroke="#3cc060" stroke-width="1.4"/>
<rect x="543.8" y="51.8" width="55.8" height="26.6" fill="none" stroke="#f2bf2a" stroke-width="1.5"/>
<polygon points="550.40,51.10 551.74,56.06 556.70,57.40 551.74,58.74 550.40,63.70 549.06,58.74 544.10,57.40 549.06,56.06" fill="#1010f0"/>
<polygon points="573.00,61.70 574.34,66.66 579.30,68.00 574.34,69.34 573.00,74.30 571.66,69.34 566.70,68.00 571.66,66.66" fill="#ff2010"/>
<text x="639.6" y="130" font-family="'DejaVu Sans','Liberation Sans',sans-serif" font-size="13" text-anchor="middle" fill="#fff">10 µm</text>
<rect x="623" y="138" width="33.4" height="1.3" fill="#fff"/>
<text x="460.6" y="15.8" font-family="'Liberation Sans','DejaVu Sans',sans-serif" font-size="12" font-weight="bold" fill="#111">c)</text>
<rect x="2.1" y="170.95" width="680.8" height="153" fill="none" stroke="#eaa026" stroke-width="2.1"/>
<rect x="102.1" y="333.1" width="486.7" height="168.65" fill="none" stroke="#40bf56" stroke-width="2.05"/>
<path d="M18.7 180.5H204.4V317H18.7" fill="none" stroke="#f0f0f0" stroke-width="0.7"/>
<rect x="51" y="229" width="8" height="8" fill="rgb(53, 94, 160)" shape-rendering="crispEdges"/>
<rect x="59" y="229" width="7" height="8" fill="rgb(59, 104, 169)" shape-rendering="crispEdges"/>
<rect x="66" y="229" width="8" height="8" fill="rgb(116, 176, 230)" shape-rendering="crispEdges"/>
<rect x="74" y="229" width="8" height="8" fill="rgb(97, 155, 214)" shape-rendering="crispEdges"/>
<rect x="82" y="229" width="8" height="8" fill="rgb(84, 141, 204)" shape-rendering="crispEdges"/>
<rect x="90" y="229" width="7" height="8" fill="rgb(53, 94, 160)" shape-rendering="crispEdges"/>
<rect x="97" y="229" width="8" height="8" fill="rgb(65, 113, 178)" shape-rendering="crispEdges"/>
<rect x="105" y="229" width="8" height="8" fill="rgb(135, 162, 208)" shape-rendering="crispEdges"/>
<rect x="113" y="229" width="8" height="8" fill="rgb(53, 94, 160)" shape-rendering="crispEdges"/>
<rect x="121" y="229" width="7" height="8" fill="rgb(84, 141, 204)" shape-rendering="crispEdges"/>
<rect x="128" y="229" width="8" height="8" fill="rgb(62, 107, 173)" shape-rendering="crispEdges"/>
<rect x="136" y="229" width="8" height="8" fill="rgb(69, 119, 183)" shape-rendering="crispEdges"/>
<rect x="144" y="229" width="8" height="8" fill="rgb(57, 100, 165)" shape-rendering="crispEdges"/>
<rect x="152" y="229" width="7" height="8" fill="rgb(128, 167, 216)" shape-rendering="crispEdges"/>
<rect x="159" y="229" width="8" height="8" fill="rgb(87, 144, 206)" shape-rendering="crispEdges"/>
<rect x="167" y="229" width="8" height="8" fill="rgb(113, 172, 227)" shape-rendering="crispEdges"/>
<rect x="51" y="237" width="8" height="7" fill="rgb(100, 158, 217)" shape-rendering="crispEdges"/>
<rect x="59" y="237" width="7" height="7" fill="rgb(74, 126, 191)" shape-rendering="crispEdges"/>
<rect x="66" y="237" width="8" height="7" fill="rgb(65, 113, 178)" shape-rendering="crispEdges"/>
<rect x="74" y="237" width="8" height="7" fill="rgb(77, 132, 196)" shape-rendering="crispEdges"/>
<rect x="82" y="237" width="8" height="7" fill="rgb(71, 122, 187)" shape-rendering="crispEdges"/>
<rect x="90" y="237" width="7" height="7" fill="rgb(97, 155, 214)" shape-rendering="crispEdges"/>
<rect x="97" y="237" width="8" height="7" fill="rgb(135, 162, 208)" shape-rendering="crispEdges"/>
<rect x="105" y="237" width="8" height="7" fill="rgb(140, 159, 202)" shape-rendering="crispEdges"/>
<rect x="113" y="237" width="8" height="7" fill="rgb(116, 176, 230)" shape-rendering="crispEdges"/>
<rect x="121" y="237" width="7" height="7" fill="rgb(108, 167, 223)" shape-rendering="crispEdges"/>
<rect x="128" y="237" width="8" height="7" fill="rgb(123, 171, 222)" shape-rendering="crispEdges"/>
<rect x="136" y="237" width="8" height="7" fill="rgb(116, 176, 230)" shape-rendering="crispEdges"/>
<rect x="144" y="237" width="8" height="7" fill="rgb(113, 172, 227)" shape-rendering="crispEdges"/>
<rect x="152" y="237" width="7" height="7" fill="rgb(116, 176, 230)" shape-rendering="crispEdges"/>
<rect x="159" y="237" width="8" height="7" fill="rgb(84, 141, 204)" shape-rendering="crispEdges"/>
<rect x="167" y="237" width="8" height="7" fill="rgb(152, 150, 188)" shape-rendering="crispEdges"/>
<rect x="51" y="244" width="8" height="8" fill="rgb(59, 104, 169)" shape-rendering="crispEdges"/>
<rect x="59" y="244" width="7" height="8" fill="rgb(57, 100, 165)" shape-rendering="crispEdges"/>
<rect x="66" y="244" width="8" height="8" fill="rgb(59, 104, 169)" shape-rendering="crispEdges"/>
<rect x="74" y="244" width="8" height="8" fill="rgb(113, 172, 227)" shape-rendering="crispEdges"/>
<rect x="82" y="244" width="8" height="8" fill="rgb(92, 150, 210)" shape-rendering="crispEdges"/>
<rect x="90" y="244" width="7" height="8" fill="rgb(108, 167, 223)" shape-rendering="crispEdges"/>
<rect x="97" y="244" width="8" height="8" fill="rgb(168, 138, 169)" shape-rendering="crispEdges"/>
<rect x="105" y="244" width="8" height="8" fill="rgb(173, 133, 160)" shape-rendering="crispEdges"/>
<rect x="113" y="244" width="8" height="8" fill="rgb(173, 133, 160)" shape-rendering="crispEdges"/>
<rect x="121" y="244" width="7" height="8" fill="rgb(173, 133, 160)" shape-rendering="crispEdges"/>
<rect x="128" y="244" width="8" height="8" fill="rgb(140, 159, 202)" shape-rendering="crispEdges"/>
<rect x="136" y="244" width="8" height="8" fill="rgb(135, 162, 208)" shape-rendering="crispEdges"/>
<rect x="144" y="244" width="8" height="8" fill="rgb(113, 172, 227)" shape-rendering="crispEdges"/>
<rect x="152" y="244" width="7" height="8" fill="rgb(108, 167, 223)" shape-rendering="crispEdges"/>
<rect x="159" y="244" width="8" height="8" fill="rgb(145, 155, 197)" shape-rendering="crispEdges"/>
<rect x="167" y="244" width="8" height="8" fill="rgb(168, 138, 169)" shape-rendering="crispEdges"/>
<rect x="51" y="252" width="8" height="8" fill="rgb(84, 141, 204)" shape-rendering="crispEdges"/>
<rect x="59" y="252" width="7" height="8" fill="rgb(71, 122, 187)" shape-rendering="crispEdges"/>
<rect x="66" y="252" width="8" height="8" fill="rgb(81, 137, 201)" shape-rendering="crispEdges"/>
<rect x="74" y="252" width="8" height="8" fill="rgb(49, 89, 155)" shape-rendering="crispEdges"/>
<rect x="82" y="252" width="8" height="8" fill="rgb(108, 167, 223)" shape-rendering="crispEdges"/>
<rect x="90" y="252" width="7" height="8" fill="rgb(164, 142, 174)" shape-rendering="crispEdges"/>
<rect x="97" y="252" width="8" height="8" fill="rgb(179, 125, 147)" shape-rendering="crispEdges"/>
<rect x="105" y="252" width="8" height="8" fill="rgb(195, 105, 114)" shape-rendering="crispEdges"/>
<rect x="113" y="252" width="8" height="8" fill="rgb(195, 105, 114)" shape-rendering="crispEdges"/>
<rect x="121" y="252" width="7" height="8" fill="rgb(195, 105, 114)" shape-rendering="crispEdges"/>
<rect x="128" y="252" width="8" height="8" fill="rgb(179, 125, 147)" shape-rendering="crispEdges"/>
<rect x="136" y="252" width="8" height="8" fill="rgb(145, 155, 197)" shape-rendering="crispEdges"/>
<rect x="144" y="252" width="8" height="8" fill="rgb(140, 159, 202)" shape-rendering="crispEdges"/>
<rect x="152" y="252" width="7" height="8" fill="rgb(65, 113, 178)" shape-rendering="crispEdges"/>
<rect x="159" y="252" width="8" height="8" fill="rgb(113, 172, 227)" shape-rendering="crispEdges"/>
<rect x="167" y="252" width="8" height="8" fill="rgb(179, 125, 147)" shape-rendering="crispEdges"/>
<rect x="51" y="260" width="8" height="7" fill="rgb(65, 113, 178)" shape-rendering="crispEdges"/>
<rect x="59" y="260" width="7" height="7" fill="rgb(77, 132, 196)" shape-rendering="crispEdges"/>
<rect x="66" y="260" width="8" height="7" fill="rgb(57, 100, 165)" shape-rendering="crispEdges"/>
<rect x="74" y="260" width="8" height="7" fill="rgb(69, 119, 183)" shape-rendering="crispEdges"/>
<rect x="82" y="260" width="8" height="7" fill="rgb(140, 159, 202)" shape-rendering="crispEdges"/>
<rect x="90" y="260" width="7" height="7" fill="rgb(152, 150, 188)" shape-rendering="crispEdges"/>
<rect x="97" y="260" width="8" height="7" fill="rgb(186, 117, 133)" shape-rendering="crispEdges"/>
<rect x="105" y="260" width="8" height="7" fill="rgb(199, 100, 106)" shape-rendering="crispEdges"/>
<rect x="113" y="260" width="8" height="7" fill="rgb(202, 95, 97)" shape-rendering="crispEdges"/>
<rect x="121" y="260" width="7" height="7" fill="rgb(201, 97, 100)" shape-rendering="crispEdges"/>
<rect x="128" y="260" width="8" height="7" fill="rgb(189, 112, 125)" shape-rendering="crispEdges"/>
<rect x="136" y="260" width="8" height="7" fill="rgb(145, 155, 197)" shape-rendering="crispEdges"/>
<rect x="144" y="260" width="8" height="7" fill="rgb(113, 172, 227)" shape-rendering="crispEdges"/>
<rect x="152" y="260" width="7" height="7" fill="rgb(152, 150, 188)" shape-rendering="crispEdges"/>
<rect x="159" y="260" width="8" height="7" fill="rgb(157, 147, 183)" shape-rendering="crispEdges"/>
<rect x="167" y="260" width="8" height="7" fill="rgb(186, 117, 133)" shape-rendering="crispEdges"/>
<rect x="51" y="267" width="8" height="8" fill="rgb(92, 150, 210)" shape-rendering="crispEdges"/>
<rect x="59" y="267" width="7" height="8" fill="rgb(65, 113, 178)" shape-rendering="crispEdges"/>
<rect x="66" y="267" width="8" height="8" fill="rgb(53, 94, 160)" shape-rendering="crispEdges"/>
<rect x="74" y="267" width="8" height="8" fill="rgb(62, 107, 173)" shape-rendering="crispEdges"/>
<rect x="82" y="267" width="8" height="8" fill="rgb(116, 176, 230)" shape-rendering="crispEdges"/>
<rect x="90" y="267" width="7" height="8" fill="rgb(152, 150, 188)" shape-rendering="crispEdges"/>
<rect x="97" y="267" width="8" height="8" fill="rgb(182, 122, 141)" shape-rendering="crispEdges"/>
<rect x="105" y="267" width="8" height="8" fill="rgb(197, 102, 108)" shape-rendering="crispEdges"/>
<rect x="113" y="267" width="8" height="8" fill="rgb(201, 97, 100)" shape-rendering="crispEdges"/>
<rect x="121" y="267" width="7" height="8" fill="rgb(199, 100, 106)" shape-rendering="crispEdges"/>
<rect x="128" y="267" width="8" height="8" fill="rgb(186, 117, 133)" shape-rendering="crispEdges"/>
<rect x="136" y="267" width="8" height="8" fill="rgb(145, 155, 197)" shape-rendering="crispEdges"/>
<rect x="144" y="267" width="8" height="8" fill="rgb(100, 158, 217)" shape-rendering="crispEdges"/>
<rect x="152" y="267" width="7" height="8" fill="rgb(128, 167, 216)" shape-rendering="crispEdges"/>
<rect x="159" y="267" width="8" height="8" fill="rgb(186, 117, 133)" shape-rendering="crispEdges"/>
<rect x="167" y="267" width="8" height="8" fill="rgb(186, 117, 133)" shape-rendering="crispEdges"/>
<rect x="51" y="275" width="8" height="8" fill="rgb(100, 158, 217)" shape-rendering="crispEdges"/>
<rect x="59" y="275" width="7" height="8" fill="rgb(65, 113, 178)" shape-rendering="crispEdges"/>
<rect x="66" y="275" width="8" height="8" fill="rgb(71, 122, 187)" shape-rendering="crispEdges"/>
<rect x="74" y="275" width="8" height="8" fill="rgb(71, 122, 187)" shape-rendering="crispEdges"/>
<rect x="82" y="275" width="8" height="8" fill="rgb(92, 150, 210)" shape-rendering="crispEdges"/>
<rect x="90" y="275" width="7" height="8" fill="rgb(116, 176, 230)" shape-rendering="crispEdges"/>
<rect x="97" y="275" width="8" height="8" fill="rgb(173, 133, 160)" shape-rendering="crispEdges"/>
<rect x="105" y="275" width="8" height="8" fill="rgb(186, 117, 133)" shape-rendering="crispEdges"/>
<rect x="113" y="275" width="8" height="8" fill="rgb(189, 112, 125)" shape-rendering="crispEdges"/>
<rect x="121" y="275" width="7" height="8" fill="rgb(186, 117, 133)" shape-rendering="crispEdges"/>
<rect x="128" y="275" width="8" height="8" fill="rgb(168, 138, 169)" shape-rendering="crispEdges"/>
<rect x="136" y="275" width="8" height="8" fill="rgb(116, 176, 230)" shape-rendering="crispEdges"/>
<rect x="144" y="275" width="8" height="8" fill="rgb(92, 150, 210)" shape-rendering="crispEdges"/>
<rect x="152" y="275" width="7" height="8" fill="rgb(145, 155, 197)" shape-rendering="crispEdges"/>
<rect x="159" y="275" width="8" height="8" fill="rgb(157, 147, 183)" shape-rendering="crispEdges"/>
<rect x="167" y="275" width="8" height="8" fill="rgb(108, 167, 223)" shape-rendering="crispEdges"/>
<text x="112.3" y="226" font-family="'DejaVu Sans','Liberation Sans',sans-serif" font-size="13.2" text-anchor="middle" fill="#222">Intensity map</text>
<text x="47.6" y="237.0" font-family="'DejaVu Sans','Liberation Sans',sans-serif" font-size="11" text-anchor="end" fill="#222">0</text>
<path d="M49.3 232.8h1.6" stroke="#333" stroke-width="0.6"/>
<text x="47.6" y="252.3" font-family="'DejaVu Sans','Liberation Sans',sans-serif" font-size="11" text-anchor="end" fill="#222">2</text>
<path d="M49.3 248.2h1.6" stroke="#333" stroke-width="0.6"/>
<text x="47.6" y="267.7" font-family="'DejaVu Sans','Liberation Sans',sans-serif" font-size="11" text-anchor="end" fill="#222">4</text>
<path d="M49.3 263.5h1.6" stroke="#333" stroke-width="0.6"/>
<text x="47.6" y="283.0" font-family="'DejaVu Sans','Liberation Sans',sans-serif" font-size="11" text-anchor="end" fill="#222">6</text>
<path d="M49.3 278.8h1.6" stroke="#333" stroke-width="0.6"/>
<text x="54.8" y="293.8" font-family="'DejaVu Sans','Liberation Sans',sans-serif" font-size="11" text-anchor="middle" fill="#222">0</text>
<path d="M54.8 282.6v1.6" stroke="#333" stroke-width="0.6"/>
<text x="93.5" y="293.8" font-family="'DejaVu Sans','Liberation Sans',sans-serif" font-size="11" text-anchor="middle" fill="#222">5</text>
<path d="M93.5 282.6v1.6" stroke="#333" stroke-width="0.6"/>
<text x="132.2" y="293.8" font-family="'DejaVu Sans','Liberation Sans',sans-serif" font-size="11" text-anchor="middle" fill="#222">10</text>
<path d="M132.2 282.6v1.6" stroke="#333" stroke-width="0.6"/>
<text x="170.9" y="293.8" font-family="'DejaVu Sans','Liberation Sans',sans-serif" font-size="11" text-anchor="middle" fill="#222">15</text>
<path d="M170.9 282.6v1.6" stroke="#333" stroke-width="0.6"/>
<text x="115.8" y="310" font-family="'DejaVu Sans','Liberation Sans',sans-serif" font-size="11" text-anchor="middle" fill="#222">[µm]</text>
<text transform="translate(34,256.7) rotate(-90)" font-family="'DejaVu Sans','Liberation Sans',sans-serif" font-size="11" text-anchor="middle" fill="#222">[µm]</text>
<rect x="182.1" y="213.8" width="4.5" height="91.6" fill="url(#rb)"/>
<path d="M186.6 223h1.3M186.6 264.4h1.3" stroke="#333" stroke-width="0.6"/>
<text x="183.6" y="193.3" font-family="'DejaVu Sans','Liberation Sans',sans-serif" font-size="11" text-anchor="middle" fill="#222">high</text>
<text x="183.6" y="206.6" font-family="'DejaVu Sans','Liberation Sans',sans-serif" font-size="11" text-anchor="middle" fill="#222">a.u.</text>
<text x="5" y="191" font-family="'Liberation Sans','DejaVu Sans',sans-serif" font-size="12" font-weight="bold" fill="#111">d)</text>
<rect x="249.5" y="188.4" width="429.5" height="106.2" fill="#fff" stroke="#555" stroke-width="0.7"/>
<path d="M463.4 188.4V294.6" stroke="#333" stroke-width="0.8"/>
<path d="M249.5 188.4V294.6" stroke="#333" stroke-width="0.8"/>
<path d="M249.5 213.4h-2M463.4 213.4h-2" stroke="#333" stroke-width="0.6"/>
<path d="M249.5 238.4h-2M463.4 238.4h-2" stroke="#333" stroke-width="0.6"/>
<path d="M249.5 263.4h-2M463.4 263.4h-2" stroke="#333" stroke-width="0.6"/>
<path d="M249.5 288.4h-2M463.4 288.4h-2" stroke="#333" stroke-width="0.6"/>
<path d="M249.5 200.9h-1.2M463.4 200.9h-1.2" stroke="#555" stroke-width="0.4"/>
<path d="M249.5 225.9h-1.2M463.4 225.9h-1.2" stroke="#555" stroke-width="0.4"/>
<path d="M249.5 250.9h-1.2M463.4 250.9h-1.2" stroke="#555" stroke-width="0.4"/>
<path d="M249.5 275.9h-1.2M463.4 275.9h-1.2" stroke="#555" stroke-width="0.4"/>
<path d="M264.4 294.6v2M479.0 294.6v2" stroke="#333" stroke-width="0.6"/>
<text x="264.4" y="302.6" font-family="'DejaVu Sans','Liberation Sans',sans-serif" font-size="5.7" font-weight="bold" text-anchor="middle" fill="#222">200</text>
<text x="479.0" y="302.6" font-family="'DejaVu Sans','Liberation Sans',sans-serif" font-size="5.7" font-weight="bold" text-anchor="middle" fill="#222">200</text>
<path d="M325.6 294.6v2M540.4 294.6v2" stroke="#333" stroke-width="0.6"/>
<text x="325.6" y="302.6" font-family="'DejaVu Sans','Liberation Sans',sans-serif" font-size="5.7" font-weight="bold" text-anchor="middle" fill="#222">400</text>
<text x="540.4" y="302.6" font-family="'DejaVu Sans','Liberation Sans',sans-serif" font-size="5.7" font-weight="bold" text-anchor="middle" fill="#222">400</text>
<path d="M386.8 294.6v2M601.8 294.6v2" stroke="#333" stroke-width="0.6"/>
<text x="386.8" y="302.6" font-family="'DejaVu Sans','Liberation Sans',sans-serif" font-size="5.7" font-weight="bold" text-anchor="middle" fill="#222">600</text>
<text x="601.8" y="302.6" font-family="'DejaVu Sans','Liberation Sans',sans-serif" font-size="5.7" font-weight="bold" text-anchor="middle" fill="#222">600</text>
<path d="M448.0 294.6v2M663.2 294.6v2" stroke="#333" stroke-width="0.6"/>
<text x="448.0" y="302.6" font-family="'DejaVu Sans','Liberation Sans',sans-serif" font-size="5.7" font-weight="bold" text-anchor="middle" fill="#222">800</text>
<text x="663.2" y="302.6" font-family="'DejaVu Sans','Liberation Sans',sans-serif" font-size="5.7" font-weight="bold" text-anchor="middle" fill="#222">800</text>
<path d="M295.0 294.6v1.2M509.7 294.6v1.2" stroke="#555" stroke-width="0.4"/>
<path d="M356.2 294.6v1.2M571.1 294.6v1.2" stroke="#555" stroke-width="0.4"/>
<path d="M417.4 294.6v1.2M632.5 294.6v1.2" stroke="#555" stroke-width="0.4"/>
<g clip-path="url(#ce1)">
<path d="M251.5 287.4 L252.2 287.3 L252.8 287.3 L253.4 287.3 L254.0 287.2 L254.6 287.2 L255.2 287.1 L255.8 287.0 L256.4 286.9 L257.1 286.7 L257.7 286.5 L258.3 286.3 L258.9 286.0 L259.5 285.6 L260.1 285.2 L260.7 284.8 L261.3 284.2 L262.0 283.6 L262.6 282.9 L263.2 282.1 L263.8 281.3 L264.4 280.4 L265.0 279.4 L265.6 278.4 L266.2 277.4 L266.8 276.5 L267.5 275.5 L268.1 274.6 L268.7 273.8 L269.3 273.0 L269.9 272.4 L270.5 271.9 L271.1 271.6 L271.7 271.4 L272.4 271.4 L273.0 271.6 L273.6 271.9 L274.2 272.4 L274.8 273.0 L275.4 273.8 L276.0 274.6 L276.6 275.5 L277.3 276.5 L277.9 277.4 L278.5 278.4 L279.1 279.4 L279.7 280.4 L280.3 281.3 L280.9 282.1 L281.5 282.9 L282.1 283.6 L282.8 284.2 L283.4 284.8 L284.0 285.2 L284.6 285.6 L285.2 286.0 L285.8 286.3 L285.8 287.4 L251.5 287.4Z" fill="#7a7af0" fill-opacity="0.34" stroke="#3030e0" stroke-width="0.45" stroke-opacity="0.85"/>
<path d="M285.8 287.1 L286.4 286.9 L287.0 286.8 L287.7 286.7 L288.3 286.5 L288.9 286.3 L289.5 286.1 L290.1 286.0 L290.7 285.8 L291.3 285.6 L291.9 285.4 L292.6 285.2 L293.2 285.0 L293.8 284.9 L294.4 284.7 L295.0 284.6 L295.6 284.6 L296.2 284.5 L296.8 284.5 L297.4 284.5 L298.1 284.6 L298.7 284.6 L299.3 284.7 L299.9 284.9 L300.5 285.0 L301.1 285.2 L301.7 285.4 L302.3 285.6 L303.0 285.8 L303.6 286.0 L304.2 286.1 L304.8 286.3 L305.4 286.5 L306.0 286.7 L306.6 286.8 L307.2 286.9 L307.9 287.1 L308.5 287.2 L308.5 287.7 L285.8 287.7Z" fill="#7a7af0" fill-opacity="0.34" stroke="#3030e0" stroke-width="0.45" stroke-opacity="0.85"/>
<path d="M310.9 288.8 L311.5 288.7 L312.1 288.6 L312.7 288.6 L313.4 288.5 L314.0 288.4 L314.6 288.2 L315.2 288.1 L315.8 288.0 L316.4 287.8 L317.0 287.7 L317.6 287.5 L318.3 287.3 L318.9 287.1 L319.5 286.9 L320.1 286.7 L320.7 286.5 L321.3 286.3 L321.9 286.0 L322.5 285.7 L323.2 285.5 L323.8 285.2 L324.4 284.9 L325.0 284.6 L325.6 284.3 L326.2 284.0 L326.8 283.7 L327.4 283.4 L328.0 283.1 L328.7 282.8 L329.3 282.6 L329.9 282.3 L330.5 282.1 L331.1 281.9 L331.7 281.7 L332.3 281.5 L332.9 281.3 L333.6 281.2 L334.2 281.1 L334.8 281.0 L335.4 281.0 L336.0 281.0 L336.6 281.0 L337.2 281.1 L337.8 281.1 L338.5 281.2 L339.1 281.4 L339.7 281.5 L340.3 281.7 L340.9 281.9 L341.5 282.0 L342.1 282.3 L342.7 282.5 L343.3 282.7 L344.0 282.9 L344.6 283.1 L345.2 283.4 L345.8 283.6 L346.4 283.8 L347.0 284.0 L347.6 284.2 L348.2 284.4 L348.9 284.6 L349.5 284.7 L350.1 284.9 L350.7 285.0 L351.3 285.2 L351.3 286.5 L310.9 289.0Z" fill="#7a7af0" fill-opacity="0.34" stroke="#3030e0" stroke-width="0.45" stroke-opacity="0.85"/>
<path d="M370.0 282.6 L370.6 282.6 L371.2 282.5 L371.8 282.4 L372.4 282.3 L373.0 282.2 L373.6 282.1 L374.3 282.0 L374.9 281.9 L375.5 281.8 L376.1 281.7 L376.7 281.6 L377.3 281.4 L377.9 281.3 L378.5 281.1 L379.1 281.0 L379.8 280.8 L380.4 280.6 L381.0 280.4 L381.6 280.2 L382.2 280.0 L382.8 279.7 L383.4 279.4 L384.0 279.2 L384.7 278.9 L385.3 278.5 L385.9 278.2 L386.5 277.8 L387.1 277.4 L387.7 276.9 L388.3 276.5 L388.9 276.0 L389.6 275.4 L390.2 274.9 L390.8 274.3 L391.4 273.6 L392.0 273.0 L392.6 272.3 L393.2 271.6 L393.8 270.9 L394.4 270.2 L395.1 269.6 L395.7 269.0 L396.3 268.4 L396.9 267.9 L397.5 267.5 L398.1 267.2 L398.7 267.0 L399.3 266.9 L400.0 267.0 L400.6 267.2 L401.2 267.5 L401.8 267.9 L402.4 268.4 L403.0 269.0 L403.6 269.6 L404.2 270.2 L404.9 270.9 L405.5 271.6 L406.1 272.3 L406.7 273.0 L407.3 273.6 L407.9 274.3 L408.5 274.9 L409.1 275.4 L409.8 276.0 L410.4 276.5 L411.0 276.9 L411.6 277.4 L412.2 277.8 L412.8 278.2 L413.4 278.5 L414.0 278.9 L414.6 279.2 L415.3 279.4 L415.9 279.7 L416.5 280.0 L417.1 280.2 L417.7 280.4 L418.3 280.6 L418.9 280.8 L419.5 281.0 L420.2 281.1 L420.8 281.3 L421.4 281.4 L422.0 281.6 L422.6 281.7 L423.2 281.8 L423.8 281.9 L424.4 282.0 L425.0 282.1 L425.7 282.2 L426.3 282.3 L426.9 282.4 L427.5 282.5 L428.1 282.6 L428.7 282.6 L429.3 282.7 L429.9 282.8 L430.6 282.8 L431.2 282.9 L431.8 282.9 L432.4 283.0 L433.0 283.0 L433.6 283.1 L434.2 283.1 L434.8 283.2 L435.5 283.2 L436.1 283.3 L436.7 283.3 L437.3 283.3 L437.9 283.4 L438.5 283.4 L439.1 283.4 L439.7 283.5 L440.3 283.5 L441.0 283.5 L441.6 283.5 L442.2 283.6 L442.8 283.6 L443.4 283.6 L444.0 283.6 L444.6 283.7 L445.2 283.7 L445.9 283.7 L446.5 283.7 L447.1 283.7 L447.7 283.8 L448.3 283.8 L448.9 283.8 L449.5 283.8 L450.1 283.8 L450.8 283.8 L451.4 283.9 L452.0 283.9 L452.6 283.9 L453.2 283.9 L453.8 283.9 L454.4 283.9 L455.0 283.9 L455.6 284.0 L456.3 284.0 L456.9 284.0 L457.5 284.0 L458.1 284.0 L458.7 284.0 L458.7 284.5 L370.0 284.5Z" fill="#7a7af0" fill-opacity="0.5" stroke="#3030e0" stroke-width="0.45" stroke-opacity="0.85"/>
<path d="M370.0 282.8 L370.6 282.8 L371.2 282.7 L371.8 282.7 L372.4 282.6 L373.0 282.6 L373.6 282.5 L374.3 282.4 L374.9 282.4 L375.5 282.3 L376.1 282.2 L376.7 282.2 L377.3 282.1 L377.9 282.0 L378.5 281.9 L379.1 281.8 L379.8 281.7 L380.4 281.6 L381.0 281.5 L381.6 281.4 L382.2 281.2 L382.8 281.1 L383.4 281.0 L384.0 280.8 L384.7 280.7 L385.3 280.5 L385.9 280.3 L386.5 280.1 L387.1 279.9 L387.7 279.7 L388.3 279.4 L388.9 279.2 L389.6 278.9 L390.2 278.6 L390.8 278.3 L391.4 278.0 L392.0 277.6 L392.6 277.2 L393.2 276.7 L393.8 276.3 L394.4 275.7 L395.1 275.2 L395.7 274.5 L396.3 273.8 L396.9 273.1 L397.5 272.2 L398.1 271.3 L398.7 270.3 L399.3 269.1 L400.0 267.8 L400.6 266.4 L401.2 264.8 L401.8 263.0 L402.4 261.0 L403.0 258.7 L403.6 256.2 L404.2 253.3 L404.9 250.1 L405.5 246.5 L406.1 242.5 L406.7 238.1 L407.3 233.3 L407.9 228.3 L408.5 223.1 L409.1 218.0 L409.8 213.2 L410.4 209.2 L411.0 206.3 L411.6 204.7 L412.2 204.7 L412.8 206.3 L413.4 209.2 L414.0 213.2 L414.6 218.0 L415.3 223.1 L415.9 228.3 L416.5 233.3 L417.1 238.1 L417.7 242.5 L418.3 246.5 L418.9 250.1 L419.5 253.3 L420.2 256.2 L420.8 258.7 L421.4 261.0 L422.0 263.0 L422.6 264.8 L423.2 266.4 L423.8 267.8 L424.4 269.1 L425.0 270.3 L425.7 271.3 L426.3 272.2 L426.9 273.1 L427.5 273.8 L428.1 274.5 L428.7 275.2 L429.3 275.7 L429.9 276.3 L430.6 276.7 L431.2 277.2 L431.8 277.6 L432.4 278.0 L433.0 278.3 L433.6 278.6 L434.2 278.9 L434.8 279.2 L435.5 279.4 L436.1 279.7 L436.7 279.9 L437.3 280.1 L437.9 280.3 L438.5 280.5 L439.1 280.7 L439.7 280.8 L440.3 281.0 L441.0 281.1 L441.6 281.2 L442.2 281.4 L442.8 281.5 L443.4 281.6 L444.0 281.7 L444.6 281.8 L445.2 281.9 L445.9 282.0 L446.5 282.1 L447.1 282.2 L447.7 282.2 L448.3 282.3 L448.9 282.4 L449.5 282.4 L450.1 282.5 L450.8 282.6 L451.4 282.6 L452.0 282.7 L452.6 282.7 L453.2 282.8 L453.8 282.8 L454.4 282.9 L455.0 282.9 L455.6 283.0 L456.3 283.0 L456.9 283.0 L457.5 283.1 L458.1 283.1 L458.7 283.2 L458.7 284.5 L370.0 284.5Z" fill="#7a7af0" fill-opacity="0.38" stroke="#3030e0" stroke-width="0.45" stroke-opacity="0.85"/>
<path d="M251.5 287.4 L252.2 287.3 L252.8 287.3 L253.4 287.3 L254.0 287.2 L254.6 287.2 L255.2 287.1 L255.8 287.0 L256.4 286.9 L257.1 286.7 L257.7 286.5 L258.3 286.3 L258.9 286.0 L259.5 285.6 L260.1 285.2 L260.7 284.8 L261.3 284.2 L262.0 283.6 L262.6 282.9 L263.2 282.1 L263.8 281.3 L264.4 280.4 L265.0 279.4 L265.6 278.4 L266.2 277.4 L266.8 276.5 L267.5 275.5 L268.1 274.6 L268.7 273.8 L269.3 273.0 L269.9 272.4 L270.5 271.9 L271.1 271.6 L271.7 271.4 L272.4 271.4 L273.0 271.6 L273.6 271.9 L274.2 272.4 L274.8 273.0 L275.4 273.8 L276.0 274.6 L276.6 275.5 L277.3 276.5 L277.9 277.4 L278.5 278.4 L279.1 279.4 L279.7 280.4 L280.3 281.3 L280.9 282.1 L281.5 282.9 L282.1 283.6 L282.8 284.2 L283.4 284.8 L284.0 285.2 L284.6 285.6 L285.2 286.0 L285.8 286.3" fill="none" stroke="#30dce8" stroke-width="1.15" stroke-opacity="0.9"/>
<path d="M285.8 287.1 L286.4 286.9 L287.0 286.8 L287.7 286.7 L288.3 286.5 L288.9 286.3 L289.5 286.1 L290.1 286.0 L290.7 285.8 L291.3 285.6 L291.9 285.4 L292.6 285.2 L293.2 285.0 L293.8 284.9 L294.4 284.7 L295.0 284.6 L295.6 284.6 L296.2 284.5 L296.8 284.5 L297.4 284.5 L298.1 284.6 L298.7 284.6 L299.3 284.7 L299.9 284.9 L300.5 285.0 L301.1 285.2 L301.7 285.4 L302.3 285.6 L303.0 285.8 L303.6 286.0 L304.2 286.1 L304.8 286.3 L305.4 286.5 L306.0 286.7 L306.6 286.8 L307.2 286.9 L307.9 287.1 L308.5 287.2" fill="none" stroke="#30dce8" stroke-width="1.15" stroke-opacity="0.9"/>
<path d="M310.9 288.8 L311.5 288.7 L312.1 288.6 L312.7 288.6 L313.4 288.5 L314.0 288.4 L314.6 288.2 L315.2 288.1 L315.8 288.0 L316.4 287.8 L317.0 287.7 L317.6 287.5 L318.3 287.3 L318.9 287.1 L319.5 286.9 L320.1 286.7 L320.7 286.5 L321.3 286.3 L321.9 286.0 L322.5 285.7 L323.2 285.5 L323.8 285.2 L324.4 284.9 L325.0 284.6 L325.6 284.3 L326.2 284.0 L326.8 283.7 L327.4 283.4 L328.0 283.1 L328.7 282.8 L329.3 282.6 L329.9 282.3 L330.5 282.1 L331.1 281.9 L331.7 281.7 L332.3 281.5 L332.9 281.3 L333.6 281.2 L334.2 281.1 L334.8 281.0 L335.4 281.0 L336.0 281.0 L336.6 281.0 L337.2 281.1 L337.8 281.1 L338.5 281.2 L339.1 281.4 L339.7 281.5 L340.3 281.7 L340.9 281.9 L341.5 282.0 L342.1 282.3 L342.7 282.5 L343.3 282.7 L344.0 282.9 L344.6 283.1 L345.2 283.4 L345.8 283.6 L346.4 283.8 L347.0 284.0 L347.6 284.2 L348.2 284.4 L348.9 284.6 L349.5 284.7 L350.1 284.9 L350.7 285.0 L351.3 285.2" fill="none" stroke="#30dce8" stroke-width="1.15" stroke-opacity="0.9"/>
<path d="M368.4 281.2 L369.1 281.1 L369.7 281.0 L370.3 280.9 L370.9 280.8 L371.5 280.7 L372.1 280.5 L372.7 280.4 L373.3 280.2 L373.9 280.1 L374.6 279.9 L375.2 279.7 L375.8 279.5 L376.4 279.3 L377.0 279.1 L377.6 278.9 L378.2 278.7 L378.8 278.4 L379.5 278.1 L380.1 277.9 L380.7 277.6 L381.3 277.2 L381.9 276.9 L382.5 276.5 L383.1 276.1 L383.7 275.7 L384.4 275.2 L385.0 274.8 L385.6 274.2 L386.2 273.7 L386.8 273.1 L387.4 272.5 L388.0 271.8 L388.6 271.0 L389.2 270.3 L389.9 269.4 L390.5 268.5 L391.1 267.6 L391.7 266.6 L392.3 265.5 L392.9 264.4 L393.5 263.3 L394.1 262.1 L394.8 260.9 L395.4 259.6 L396.0 258.4 L396.6 257.1 L397.2 255.8 L397.8 254.6 L398.4 253.3 L399.0 252.1 L399.7 250.9 L400.3 249.7 L400.9 248.4 L401.5 247.1 L402.1 245.6 L402.7 244.0 L403.3 242.2 L403.9 240.2 L404.5 237.8 L405.2 235.1 L405.8 232.0 L406.4 228.5 L407.0 224.5 L407.6 220.3 L408.2 215.7 L408.8 211.2 L409.4 206.7 L410.1 202.8 L410.7 199.8 L411.3 197.9 L411.9 197.6 L412.5 198.8 L413.1 201.4 L413.7 205.3 L414.3 210.0 L415.0 215.3 L415.6 220.8 L416.2 226.1 L416.8 231.3 L417.4 236.1 L418.0 240.5 L418.6 244.5 L419.2 248.1 L419.8 251.3 L420.5 254.2 L421.1 256.8 L421.7 259.0 L422.3 261.1 L422.9 262.9 L423.5 264.5 L424.1 266.0 L424.7 267.3 L425.4 268.5 L426.0 269.6 L426.6 270.5 L427.2 271.4 L427.8 272.2 L428.4 273.0 L429.0 273.6 L429.6 274.2 L430.3 274.8 L430.9 275.3 L431.5 275.8 L432.1 276.2 L432.7 276.7 L433.3 277.0 L433.9 277.4 L434.5 277.7 L435.1 278.0 L435.8 278.3 L436.4 278.6 L437.0 278.8 L437.6 279.1 L438.2 279.3 L438.8 279.5 L439.4 279.7 L440.0 279.9 L440.7 280.0 L441.3 280.2 L441.9 280.4 L442.5 280.5 L443.1 280.6 L443.7 280.8 L444.3 280.9 L444.9 281.0 L445.6 281.1 L446.2 281.2 L446.8 281.3 L447.4 281.4 L448.0 281.5 L448.6 281.6 L449.2 281.7 L449.8 281.8 L450.4 281.9 L451.1 281.9 L451.7 282.0 L452.3 282.1 L452.9 282.2 L453.5 282.2 L454.1 282.3 L454.7 282.3 L455.3 282.4 L456.0 282.4 L456.6 282.5 L457.2 282.5 L457.8 282.6 L458.4 282.6 L459.0 282.7" fill="none" stroke="#30dce8" stroke-width="1.15" stroke-opacity="0.9"/>
<path d="M249.1 283.2 L249.7 285.6 L250.3 286.1 L250.9 291.4 L251.5 289.6 L252.2 290.2 L252.8 288.2 L253.4 288.3 L254.0 285.9 L254.6 287.3 L255.2 288.9 L255.8 285.9 L256.4 285.3 L257.1 283.2 L257.7 286.4 L258.3 285.8 L258.9 286.3 L259.5 286.5 L260.1 282.8 L260.7 284.6 L261.3 285.9 L262.0 283.3 L262.6 281.0 L263.2 281.3 L263.8 282.1 L264.4 281.1 L265.0 279.0 L265.6 280.9 L266.2 279.9 L266.8 278.4 L267.5 275.0 L268.1 273.1 L268.7 277.2 L269.3 275.8 L269.9 274.3 L270.5 276.2 L271.1 273.4 L271.7 273.7 L272.4 269.8 L273.0 273.6 L273.6 276.7 L274.2 273.1 L274.8 272.8 L275.4 274.2 L276.0 272.7 L276.6 274.3 L277.3 277.8 L277.9 277.6 L278.5 282.0 L279.1 278.1 L279.7 277.5 L280.3 279.0 L280.9 279.7 L281.5 278.5 L282.1 278.5 L282.8 284.5 L283.4 283.4 L284.0 288.8 L284.6 287.1 L285.2 288.5 L285.8 282.7 L286.4 281.4 L287.0 283.8 L287.7 281.5 L288.3 285.7 L288.9 285.0 L289.5 283.5 L290.1 283.5 L290.7 279.9 L291.3 279.2 L291.9 286.4 L292.6 284.3 L293.2 285.7 L293.8 281.8 L294.4 281.4 L295.0 278.0 L295.6 278.5 L296.2 280.4 L296.8 284.5 L297.4 280.6 L298.1 286.1 L298.7 283.9 L299.3 281.5 L299.9 283.8 L300.5 281.8 L301.1 280.3 L301.7 281.9 L302.3 283.0 L303.0 288.0 L303.6 284.5 L304.2 285.0 L304.8 285.8 L305.4 287.8 L306.0 286.7 L306.6 287.6 L307.2 288.0 L307.9 286.1 L308.5 289.3 L309.1 288.5 L309.7 284.3 L310.3 286.1 L310.9 289.4 L311.5 286.6 L312.1 285.4 L312.7 283.3 L313.4 284.5 L314.0 285.1 L314.6 286.4 L315.2 284.1 L315.8 285.1 L316.4 286.2 L317.0 287.6 L317.6 287.7 L318.3 284.6 L318.9 285.4 L319.5 283.3 L320.1 283.5 L320.7 285.2 L321.3 287.3 L321.9 284.1 L322.5 287.3 L323.2 284.4 L323.8 285.2 L324.4 285.6 L325.0 282.4 L325.6 283.4 L326.2 284.1 L326.8 283.8 L327.4 283.6 L328.0 283.1 L328.7 280.7 L329.3 277.8 L329.9 281.1 L330.5 283.0 L331.1 279.9 L331.7 281.3 L332.3 281.7 L332.9 279.3 L333.6 281.3 L334.2 282.1 L334.8 281.8 L335.4 280.1 L336.0 280.3 L336.6 278.0 L337.2 281.1 L337.8 279.1 L338.5 281.2 L339.1 280.6 L339.7 280.3 L340.3 279.5 L340.9 283.5 L341.5 279.5 L342.1 283.2 L342.7 281.5 L343.3 281.6 L344.0 281.9 L344.6 284.0 L345.2 283.8 L345.8 284.6 L346.4 283.0 L347.0 285.4 L347.6 283.5 L348.2 283.0 L348.9 285.2 L349.5 279.3 L350.1 286.2 L350.7 289.5 L351.3 283.8 L351.9 286.8 L352.5 284.5 L353.1 283.3 L353.8 287.1 L354.4 287.1 L355.0 287.9 L355.6 284.6 L356.2 286.0 L356.8 286.1 L357.4 285.3 L358.0 283.2 L358.6 282.5 L359.3 281.3 L359.9 284.0 L360.5 286.6 L361.1 285.3 L361.7 286.8 L362.3 283.0 L362.9 282.0 L363.5 279.1 L364.2 279.8 L364.8 283.6 L365.4 284.7 L366.0 286.4 L366.6 283.6 L367.2 282.3 L367.8 282.2 L368.4 285.1 L369.1 282.3 L369.7 284.1 L370.3 286.1 L370.9 286.9 L371.5 285.1 L372.1 283.3 L372.7 282.4 L373.3 282.4 L373.9 282.9 L374.6 282.0 L375.2 280.2 L375.8 282.5 L376.4 280.6 L377.0 282.5 L377.6 280.9 L378.2 276.7 L378.8 280.4 L379.5 276.7 L380.1 279.8 L380.7 277.9 L381.3 276.1 L381.9 278.5 L382.5 278.4 L383.1 277.6 L383.7 276.1 L384.4 274.7 L385.0 276.2 L385.6 273.5 L386.2 276.3 L386.8 271.7 L387.4 278.5 L388.0 273.4 L388.6 271.8 L389.2 270.9 L389.9 268.5 L390.5 268.2 L391.1 270.3 L391.7 267.7 L392.3 263.1 L392.9 264.5 L393.5 260.6 L394.1 260.5 L394.8 259.0 L395.4 261.8 L396.0 259.8 L396.6 253.8 L397.2 256.4 L397.8 253.9 L398.4 251.4 L399.0 247.6 L399.7 250.3 L400.3 246.4 L400.9 247.0 L401.5 246.5 L402.1 243.1 L402.7 249.5 L403.3 243.9 L403.9 239.3 L404.5 236.6 L405.2 232.5 L405.8 231.9 L406.4 229.0 L407.0 220.2 L407.6 219.4 L408.2 217.1 L408.8 209.8 L409.4 207.2 L410.1 200.8 L410.7 198.6 L411.3 194.5 L411.9 198.5 L412.5 196.5 L413.1 201.3 L413.7 208.7 L414.3 209.8 L415.0 217.8 L415.6 218.1 L416.2 225.7 L416.8 230.8 L417.4 238.0 L418.0 239.8 L418.6 248.9 L419.2 248.3 L419.8 254.1 L420.5 255.3 L421.1 259.2 L421.7 258.7 L422.3 262.7 L422.9 259.6 L423.5 262.3 L424.1 268.7 L424.7 269.2 L425.4 268.0 L426.0 268.0 L426.6 269.0 L427.2 276.4 L427.8 275.6 L428.4 277.6 L429.0 278.3 L429.6 278.8 L430.3 275.9 L430.9 278.9 L431.5 274.7 L432.1 274.4 L432.7 278.5 L433.3 278.0 L433.9 277.9 L434.5 275.1 L435.1 280.2 L435.8 282.7 L436.4 279.4 L437.0 280.5 L437.6 281.1 L438.2 278.5 L438.8 279.4 L439.4 279.3 L440.0 281.1 L440.7 280.6 L441.3 280.8 L441.9 286.1 L442.5 281.7 L443.1 285.9 L443.7 281.4 L444.3 283.8 L444.9 275.8 L445.6 279.1 L446.2 278.4 L446.8 280.9 L447.4 283.9 L448.0 287.7 L448.6 283.4 L449.2 283.1 L449.8 284.7 L450.4 285.6 L451.1 285.2 L451.7 287.7 L452.3 284.1 L452.9 280.7 L453.5 285.3 L454.1 287.9 L454.7 286.9 L455.3 287.1 L456.0 284.9 L456.6 286.0 L457.2 286.1 L457.8 291.7 L458.4 285.1 L459.0 283.0 L459.6 283.1 L460.2 291.1 L460.9 287.2 L461.5 292.8 L462.1 287.3 L462.7 289.5 L463.3 290.7" fill="none" stroke="#000" stroke-width="0.65"/>
</g>
<g clip-path="url(#ce2)">
<path d="M499.9 287.1 L500.5 286.8 L501.1 286.5 L501.7 286.1 L502.3 285.6 L502.9 285.0 L503.6 284.3 L504.2 283.5 L504.8 282.7 L505.4 282.3 L506.0 282.3 L506.6 282.7 L507.2 283.4 L507.9 284.1 L508.5 284.8 L509.1 285.4 L509.7 285.8 L510.3 286.2 L510.9 286.5 L511.5 286.7 L512.2 286.9 L512.8 287.0 L513.4 287.1 L514.0 287.2 L514.6 287.3 L515.2 287.3 L515.8 287.4 L516.5 287.4 L517.1 287.4 L517.7 287.4 L518.3 287.5 L518.9 287.5 L519.5 287.5 L520.1 287.5 L520.8 287.5 L521.4 287.5 L522.0 287.5 L522.6 287.5 L523.2 287.5 L523.2 287.6 L499.9 288.4Z" fill="#f08088" fill-opacity="0.42" stroke="#e02030" stroke-width="0.45" stroke-opacity="0.85"/>
<path d="M499.9 287.9 L500.5 287.9 L501.1 287.8 L501.7 287.7 L502.3 287.7 L502.9 287.6 L503.6 287.5 L504.2 287.4 L504.8 287.3 L505.4 287.2 L506.0 287.0 L506.6 286.8 L507.2 286.6 L507.9 286.4 L508.5 286.1 L509.1 285.8 L509.7 285.3 L510.3 284.8 L510.9 284.1 L511.5 283.2 L512.2 282.0 L512.8 280.4 L513.4 278.4 L514.0 275.9 L514.6 273.2 L515.2 270.8 L515.8 269.9 L516.5 270.8 L517.1 273.1 L517.7 275.8 L518.3 278.3 L518.9 280.2 L519.5 281.7 L520.1 282.9 L520.8 283.8 L521.4 284.4 L522.0 284.9 L522.6 285.3 L523.2 285.6 L523.8 285.9 L524.4 286.1 L524.4 287.6 L499.9 288.4Z" fill="#f08088" fill-opacity="0.42" stroke="#e02030" stroke-width="0.45" stroke-opacity="0.85"/>
<path d="M559.4 284.2 L560.0 284.0 L560.7 283.8 L561.3 283.6 L561.9 283.3 L562.5 283.0 L563.1 282.5 L563.7 282.0 L564.3 281.4 L565.0 280.6 L565.6 279.5 L566.2 278.1 L566.8 276.4 L567.4 274.1 L568.0 271.3 L568.6 268.0 L569.3 264.9 L569.9 262.9 L570.5 262.9 L571.1 264.9 L571.7 268.0 L572.3 271.3 L572.9 274.1 L573.6 276.4 L574.2 278.1 L574.8 279.5 L575.4 280.6 L576.0 281.4 L576.6 282.0 L577.2 282.5 L577.9 283.0 L578.5 283.3 L579.1 283.6 L579.7 283.8 L580.3 284.0 L580.9 284.2 L581.5 284.3 L582.2 284.4 L582.8 284.5 L583.4 284.6 L584.0 284.7 L584.6 284.8 L585.2 284.8 L585.8 284.9 L586.5 285.0 L587.1 285.0 L587.7 285.0 L588.3 285.1 L588.9 285.1 L589.5 285.1 L590.1 285.2 L590.7 285.2 L591.4 285.2 L591.4 285.6 L559.4 285.6Z" fill="#f08088" fill-opacity="0.42" stroke="#e02030" stroke-width="0.45" stroke-opacity="0.85"/>
<path d="M559.4 285.3 L560.0 285.3 L560.7 285.3 L561.3 285.3 L561.9 285.2 L562.5 285.2 L563.1 285.2 L563.7 285.1 L564.3 285.1 L565.0 285.1 L565.6 285.0 L566.2 284.9 L566.8 284.9 L567.4 284.8 L568.0 284.7 L568.6 284.5 L569.3 284.4 L569.9 284.2 L570.5 284.0 L571.1 283.8 L571.7 283.4 L572.3 283.1 L572.9 282.6 L573.6 282.1 L574.2 281.4 L574.8 280.8 L575.4 280.2 L576.0 279.8 L576.6 279.6 L577.2 279.8 L577.9 280.2 L578.5 280.8 L579.1 281.4 L579.7 282.1 L580.3 282.6 L580.9 283.1 L581.5 283.4 L582.2 283.8 L582.8 284.0 L583.4 284.2 L584.0 284.4 L584.6 284.5 L585.2 284.7 L585.8 284.8 L586.5 284.9 L587.1 284.9 L587.7 285.0 L588.3 285.1 L588.9 285.1 L589.5 285.1 L590.1 285.2 L590.7 285.2 L591.4 285.2 L591.4 285.6 L559.4 285.6Z" fill="#f08088" fill-opacity="0.42" stroke="#e02030" stroke-width="0.45" stroke-opacity="0.85"/>
<path d="M595.0 284.6 L595.7 284.5 L596.3 284.3 L596.9 284.1 L597.5 283.8 L598.1 283.5 L598.7 283.2 L599.3 282.7 L600.0 282.2 L600.6 281.6 L601.2 280.7 L601.8 279.7 L602.4 278.4 L603.0 276.7 L603.6 274.7 L604.3 272.2 L604.9 269.6 L605.5 267.2 L606.1 265.7 L606.7 265.7 L607.3 267.2 L607.9 269.6 L608.6 272.2 L609.2 274.7 L609.8 276.7 L610.4 278.4 L611.0 279.7 L611.6 280.7 L612.2 281.6 L612.9 282.2 L613.5 282.7 L614.1 283.2 L614.7 283.5 L615.3 283.8 L615.9 284.1 L616.5 284.3 L617.1 284.5 L617.8 284.6 L618.4 284.7 L619.0 284.8 L619.6 284.9 L620.2 285.0 L620.8 285.1 L621.4 285.2 L622.1 285.2 L622.7 285.3 L623.3 285.3 L623.9 285.4 L624.5 285.4 L625.1 285.5 L625.7 285.5 L626.4 285.5 L627.0 285.6 L627.6 285.6 L628.2 285.6 L628.8 285.6 L629.4 285.6 L630.0 285.7 L630.7 285.7 L631.3 285.7 L631.9 285.7 L632.5 285.7 L633.1 285.7 L633.7 285.7 L634.3 285.8 L635.0 285.8 L635.6 285.8 L636.2 285.8 L636.8 285.8 L637.4 285.8 L638.0 285.8 L638.6 285.8 L639.3 285.8 L639.9 285.8 L640.5 285.8 L641.1 285.8 L641.7 285.8 L642.3 285.9 L642.9 285.9 L643.6 285.9 L644.2 285.9 L644.8 285.9 L645.4 285.9 L646.0 285.9 L646.6 285.9 L647.2 285.9 L647.9 285.9 L648.5 285.9 L649.1 285.9 L649.7 285.9 L650.3 285.9 L650.9 285.9 L651.5 285.9 L652.1 285.9 L652.8 285.9 L653.4 285.9 L654.0 285.9 L654.6 285.9 L655.2 285.9 L655.8 285.9 L656.4 285.9 L657.1 285.9 L657.7 285.9 L658.3 285.9 L658.9 285.9 L659.5 285.9 L660.1 285.9 L660.7 285.9 L661.4 285.9 L662.0 285.9 L662.6 285.9 L663.2 285.9 L663.2 286.0 L595.0 286.0Z" fill="#f08088" fill-opacity="0.42" stroke="#e02030" stroke-width="0.45" stroke-opacity="0.85"/>
<path d="M595.0 283.2 L595.7 283.0 L596.3 282.9 L596.9 282.7 L597.5 282.5 L598.1 282.3 L598.7 282.1 L599.3 281.9 L600.0 281.6 L600.6 281.3 L601.2 281.0 L601.8 280.6 L602.4 280.2 L603.0 279.8 L603.6 279.4 L604.3 278.8 L604.9 278.3 L605.5 277.6 L606.1 276.9 L606.7 276.2 L607.3 275.3 L607.9 274.3 L608.6 273.2 L609.2 272.0 L609.8 270.7 L610.4 269.3 L611.0 267.7 L611.6 266.0 L612.2 264.2 L612.9 262.3 L613.5 260.4 L614.1 258.6 L614.7 256.9 L615.3 255.6 L615.9 254.6 L616.5 254.1 L617.1 254.1 L617.8 254.6 L618.4 255.6 L619.0 256.9 L619.6 258.6 L620.2 260.4 L620.8 262.3 L621.4 264.2 L622.1 266.0 L622.7 267.7 L623.3 269.3 L623.9 270.7 L624.5 272.0 L625.1 273.2 L625.7 274.3 L626.4 275.3 L627.0 276.2 L627.6 276.9 L628.2 277.6 L628.8 278.3 L629.4 278.8 L630.0 279.4 L630.7 279.8 L631.3 280.2 L631.9 280.6 L632.5 281.0 L633.1 281.3 L633.7 281.6 L634.3 281.9 L635.0 282.1 L635.6 282.3 L636.2 282.5 L636.8 282.7 L637.4 282.9 L638.0 283.0 L638.6 283.2 L639.3 283.3 L639.9 283.5 L640.5 283.6 L641.1 283.7 L641.7 283.8 L642.3 283.9 L642.9 284.0 L643.6 284.1 L644.2 284.2 L644.8 284.2 L645.4 284.3 L646.0 284.4 L646.6 284.4 L647.2 284.5 L647.9 284.6 L648.5 284.6 L649.1 284.7 L649.7 284.7 L650.3 284.7 L650.9 284.8 L651.5 284.8 L652.1 284.9 L652.8 284.9 L653.4 284.9 L654.0 285.0 L654.6 285.0 L655.2 285.0 L655.8 285.1 L656.4 285.1 L657.1 285.1 L657.7 285.1 L658.3 285.2 L658.9 285.2 L659.5 285.2 L660.1 285.2 L660.7 285.3 L661.4 285.3 L662.0 285.3 L662.6 285.3 L663.2 285.3 L663.2 286.0 L595.0 286.0Z" fill="#f08088" fill-opacity="0.42" stroke="#e02030" stroke-width="0.45" stroke-opacity="0.85"/>
<path d="M595.0 285.0 L595.7 285.0 L596.3 285.0 L596.9 284.9 L597.5 284.9 L598.1 284.8 L598.7 284.8 L599.3 284.7 L600.0 284.7 L600.6 284.6 L601.2 284.5 L601.8 284.5 L602.4 284.4 L603.0 284.3 L603.6 284.2 L604.3 284.1 L604.9 284.0 L605.5 283.9 L606.1 283.8 L606.7 283.7 L607.3 283.5 L607.9 283.4 L608.6 283.2 L609.2 283.0 L609.8 282.8 L610.4 282.6 L611.0 282.3 L611.6 282.1 L612.2 281.7 L612.9 281.4 L613.5 281.0 L614.1 280.6 L614.7 280.0 L615.3 279.5 L615.9 278.8 L616.5 278.1 L617.1 277.2 L617.8 276.2 L618.4 275.0 L619.0 273.7 L619.6 272.1 L620.2 270.2 L620.8 268.0 L621.4 265.4 L622.1 262.3 L622.7 258.8 L623.3 254.9 L623.9 250.6 L624.5 246.3 L625.1 242.2 L625.7 239.0 L626.4 237.2 L627.0 237.2 L627.6 239.0 L628.2 242.2 L628.8 246.3 L629.4 250.6 L630.0 254.9 L630.7 258.8 L631.3 262.3 L631.9 265.4 L632.5 268.0 L633.1 270.2 L633.7 272.1 L634.3 273.7 L635.0 275.0 L635.6 276.2 L636.2 277.2 L636.8 278.1 L637.4 278.8 L638.0 279.5 L638.6 280.0 L639.3 280.6 L639.9 281.0 L640.5 281.4 L641.1 281.7 L641.7 282.1 L642.3 282.3 L642.9 282.6 L643.6 282.8 L644.2 283.0 L644.8 283.2 L645.4 283.4 L646.0 283.5 L646.6 283.7 L647.2 283.8 L647.9 283.9 L648.5 284.0 L649.1 284.1 L649.7 284.2 L650.3 284.3 L650.9 284.4 L651.5 284.5 L652.1 284.5 L652.8 284.6 L653.4 284.7 L654.0 284.7 L654.6 284.8 L655.2 284.8 L655.8 284.9 L656.4 284.9 L657.1 285.0 L657.7 285.0 L658.3 285.0 L658.9 285.1 L659.5 285.1 L660.1 285.1 L660.7 285.2 L661.4 285.2 L662.0 285.2 L662.6 285.3 L663.2 285.3 L663.8 285.3 L664.4 285.3 L665.0 285.3 L665.7 285.4 L666.3 285.4 L666.9 285.4 L666.9 286.0 L595.0 286.0Z" fill="#7a7af0" fill-opacity="0.34" stroke="#3030e0" stroke-width="0.45" stroke-opacity="0.85"/>
<path d="M499.9 286.6 L500.5 286.3 L501.1 286.0 L501.7 285.5 L502.3 285.0 L502.9 284.3 L503.6 283.5 L504.2 282.6 L504.8 281.8 L505.4 281.2 L506.0 281.1 L506.6 281.3 L507.2 281.8 L507.9 282.4 L508.5 282.8 L509.1 283.0 L509.7 283.1 L510.3 282.9 L510.9 282.5 L511.5 281.9 L512.2 280.9 L512.8 279.5 L513.4 277.6 L514.0 275.2 L514.6 272.5 L515.2 270.3 L515.8 269.4 L516.5 270.4 L517.1 272.7 L517.7 275.4 L518.3 277.9 L518.9 279.9 L519.5 281.5 L520.1 282.6 L520.8 283.5 L521.4 284.2 L522.0 284.7 L522.6 285.1 L523.2 285.5 L523.8 285.7 L524.4 285.9" fill="none" stroke="#30dce8" stroke-width="1.15" stroke-opacity="0.9"/>
<path d="M547.8 285.2 L548.4 285.1 L549.0 285.1 L549.6 285.1 L550.2 285.1 L550.8 285.0 L551.5 285.0 L552.1 284.9 L552.7 284.9 L553.3 284.9 L553.9 284.8 L554.5 284.7 L555.1 284.7 L555.8 284.6 L556.4 284.5 L557.0 284.4 L557.6 284.3 L558.2 284.2 L558.8 284.1 L559.4 283.9 L560.0 283.7 L560.7 283.5 L561.3 283.3 L561.9 282.9 L562.5 282.6 L563.1 282.1 L563.7 281.6 L564.3 280.9 L565.0 280.0 L565.6 278.9 L566.2 277.5 L566.8 275.6 L567.4 273.3 L568.0 270.3 L568.6 267.0 L569.3 263.7 L569.9 261.5 L570.5 261.3 L571.1 263.1 L571.7 265.9 L572.3 268.7 L572.9 271.1 L573.6 272.8 L574.2 274.0 L574.8 274.7 L575.4 275.2 L576.0 275.5 L576.6 276.0 L577.2 276.7 L577.9 277.6 L578.5 278.5 L579.1 279.4 L579.7 280.3 L580.3 281.0 L580.9 281.6 L581.5 282.2 L582.2 282.6 L582.8 283.0 L583.4 283.3 L584.0 283.5 L584.6 283.7 L585.2 283.9 L585.8 284.1 L586.5 284.2 L587.1 284.3 L587.7 284.4 L588.3 284.5 L588.9 284.6 L589.5 284.7 L590.1 284.8 L590.7 284.8 L591.4 284.9 L592.0 284.9 L592.6 285.0 L593.2 285.0 L593.8 285.0 L594.4 285.1 L595.0 285.1 L595.7 285.1 L596.3 285.1 L596.9 285.2 L597.5 285.2 L598.1 285.2 L598.7 285.2" fill="none" stroke="#30dce8" stroke-width="1.15" stroke-opacity="0.9"/>
<path d="M595.0 280.8 L595.7 280.5 L596.3 280.1 L596.9 279.7 L597.5 279.2 L598.1 278.7 L598.7 278.1 L599.3 277.3 L600.0 276.5 L600.6 275.5 L601.2 274.3 L601.8 272.8 L602.4 271.0 L603.0 268.9 L603.6 266.3 L604.3 263.2 L604.9 259.9 L605.5 256.8 L606.1 254.4 L606.7 253.5 L607.3 254.0 L607.9 255.3 L608.6 256.7 L609.2 257.7 L609.8 258.3 L610.4 258.2 L611.0 257.7 L611.6 256.7 L612.2 255.4 L612.9 253.9 L613.5 252.1 L614.1 250.3 L614.7 248.5 L615.3 246.9 L615.9 245.5 L616.5 244.4 L617.1 243.7 L617.8 243.4 L618.4 243.3 L619.0 243.5 L619.6 243.6 L620.2 243.6 L620.8 243.4 L621.4 242.7 L622.1 241.5 L622.7 239.8 L623.3 237.5 L623.9 234.7 L624.5 231.7 L625.1 228.9 L625.7 226.8 L626.4 226.0 L627.0 226.9 L627.6 229.5 L628.2 233.5 L628.8 238.2 L629.4 243.1 L630.0 247.9 L630.7 252.3 L631.3 256.3 L631.9 259.7 L632.5 262.7 L633.1 265.2 L633.7 267.4 L634.3 269.3 L635.0 270.9 L635.6 272.3 L636.2 273.5 L636.8 274.6 L637.4 275.5 L638.0 276.3 L638.6 277.1 L639.3 277.7 L639.9 278.3 L640.5 278.8 L641.1 279.3 L641.7 279.7 L642.3 280.1 L642.9 280.4 L643.6 280.8 L644.2 281.0 L644.8 281.3 L645.4 281.6 L646.0 281.8 L646.6 282.0 L647.2 282.2 L647.9 282.4 L648.5 282.5 L649.1 282.7 L649.7 282.8 L650.3 283.0 L650.9 283.1 L651.5 283.2 L652.1 283.3 L652.8 283.4 L653.4 283.5 L654.0 283.6 L654.6 283.7 L655.2 283.8 L655.8 283.9 L656.4 283.9 L657.1 284.0 L657.7 284.1 L658.3 284.1 L658.9 284.2 L659.5 284.3 L660.1 284.3 L660.7 284.4 L661.4 284.4 L662.0 284.5 L662.6 284.5 L663.2 284.6 L663.8 284.6 L664.4 284.6 L665.0 284.7 L665.7 284.7 L666.3 284.7 L666.9 284.8 L667.5 284.8 L668.1 284.8 L668.7 284.9 L669.3 284.9 L670.0 284.9 L670.6 285.0 L671.2 285.0 L671.8 285.0 L672.4 285.0 L673.0 285.1 L673.6 285.1" fill="none" stroke="#30dce8" stroke-width="1.15" stroke-opacity="0.9"/>
<path d="M463.6 281.5 L464.3 284.3 L464.9 280.4 L465.5 285.9 L466.1 285.0 L466.7 282.7 L467.3 288.5 L467.9 287.6 L468.6 286.6 L469.2 288.0 L469.8 289.6 L470.4 287.4 L471.0 284.8 L471.6 283.4 L472.2 288.1 L472.9 288.3 L473.5 283.7 L474.1 281.9 L474.7 288.8 L475.3 283.1 L475.9 286.5 L476.5 283.8 L477.2 284.8 L477.8 283.5 L478.4 280.3 L479.0 280.9 L479.6 281.9 L480.2 283.8 L480.8 281.6 L481.5 280.2 L482.1 277.5 L482.7 279.7 L483.3 278.7 L483.9 279.0 L484.5 280.3 L485.1 280.9 L485.8 281.4 L486.4 277.5 L487.0 280.5 L487.6 276.0 L488.2 280.8 L488.8 280.6 L489.4 280.5 L490.1 278.9 L490.7 279.0 L491.3 276.5 L491.9 277.5 L492.5 279.3 L493.1 280.7 L493.7 280.9 L494.4 277.8 L495.0 280.3 L495.6 284.3 L496.2 283.3 L496.8 284.9 L497.4 281.0 L498.0 283.6 L498.6 278.5 L499.3 283.1 L499.9 285.1 L500.5 286.5 L501.1 282.2 L501.7 284.1 L502.3 283.2 L502.9 280.3 L503.6 280.1 L504.2 279.3 L504.8 279.9 L505.4 286.4 L506.0 277.7 L506.6 283.6 L507.2 276.4 L507.9 277.4 L508.5 283.7 L509.1 284.6 L509.7 283.5 L510.3 278.3 L510.9 281.7 L511.5 283.5 L512.2 282.1 L512.8 276.3 L513.4 277.5 L514.0 272.7 L514.6 269.8 L515.2 265.9 L515.8 267.5 L516.5 271.4 L517.1 273.7 L517.7 277.9 L518.3 280.0 L518.9 277.1 L519.5 280.0 L520.1 279.5 L520.8 283.1 L521.4 284.0 L522.0 282.0 L522.6 283.5 L523.2 282.5 L523.8 281.6 L524.4 280.9 L525.0 281.7 L525.7 282.4 L526.3 288.7 L526.9 283.8 L527.5 284.1 L528.1 283.0 L528.7 286.4 L529.3 278.4 L530.0 284.9 L530.6 280.1 L531.2 283.4 L531.8 284.5 L532.4 283.2 L533.0 284.4 L533.6 290.8 L534.3 288.2 L534.9 285.3 L535.5 279.4 L536.1 287.9 L536.7 283.8 L537.3 282.5 L537.9 282.2 L538.6 284.8 L539.2 286.6 L539.8 286.6 L540.4 285.9 L541.0 284.7 L541.6 290.0 L542.2 287.5 L542.9 283.2 L543.5 284.1 L544.1 284.8 L544.7 284.3 L545.3 286.4 L545.9 283.6 L546.5 281.4 L547.2 280.7 L547.8 283.0 L548.4 285.3 L549.0 283.5 L549.6 284.3 L550.2 282.1 L550.8 283.5 L551.5 286.0 L552.1 288.3 L552.7 281.4 L553.3 282.4 L553.9 282.0 L554.5 283.7 L555.1 284.4 L555.8 279.8 L556.4 282.0 L557.0 287.1 L557.6 283.9 L558.2 282.8 L558.8 281.4 L559.4 278.9 L560.0 284.2 L560.7 285.0 L561.3 280.1 L561.9 282.5 L562.5 280.2 L563.1 281.9 L563.7 279.7 L564.3 283.0 L565.0 278.9 L565.6 280.1 L566.2 274.6 L566.8 275.3 L567.4 275.0 L568.0 268.6 L568.6 267.8 L569.3 260.0 L569.9 259.6 L570.5 259.0 L571.1 261.5 L571.7 264.4 L572.3 272.3 L572.9 266.9 L573.6 272.8 L574.2 269.1 L574.8 272.0 L575.4 270.7 L576.0 271.9 L576.6 275.6 L577.2 274.5 L577.9 272.9 L578.5 275.2 L579.1 278.5 L579.7 279.4 L580.3 279.4 L580.9 277.9 L581.5 278.4 L582.2 278.5 L582.8 280.9 L583.4 276.4 L584.0 279.0 L584.6 281.9 L585.2 282.4 L585.8 282.5 L586.5 282.2 L587.1 283.7 L587.7 282.6 L588.3 284.9 L588.9 281.7 L589.5 283.3 L590.1 279.8 L590.7 281.3 L591.4 280.6 L592.0 277.2 L592.6 283.3 L593.2 284.8 L593.8 283.9 L594.4 282.1 L595.0 281.2 L595.7 279.9 L596.3 279.2 L596.9 275.4 L597.5 279.6 L598.1 279.4 L598.7 276.5 L599.3 276.2 L600.0 277.1 L600.6 273.1 L601.2 275.1 L601.8 270.8 L602.4 270.0 L603.0 267.2 L603.6 262.6 L604.3 259.6 L604.9 258.1 L605.5 255.6 L606.1 253.2 L606.7 250.9 L607.3 254.5 L607.9 256.6 L608.6 261.4 L609.2 257.6 L609.8 261.9 L610.4 263.7 L611.0 260.8 L611.6 259.0 L612.2 255.7 L612.9 255.4 L613.5 253.1 L614.1 252.6 L614.7 251.5 L615.3 246.4 L615.9 245.2 L616.5 241.7 L617.1 243.2 L617.8 242.2 L618.4 245.0 L619.0 243.7 L619.6 242.4 L620.2 242.7 L620.8 243.9 L621.4 240.6 L622.1 243.8 L622.7 241.4 L623.3 235.5 L623.9 234.9 L624.5 227.0 L625.1 227.1 L625.7 224.9 L626.4 223.4 L627.0 224.5 L627.6 226.6 L628.2 234.5 L628.8 237.7 L629.4 240.2 L630.0 244.5 L630.7 253.6 L631.3 257.7 L631.9 255.9 L632.5 263.0 L633.1 262.1 L633.7 267.5 L634.3 268.0 L635.0 272.3 L635.6 271.1 L636.2 275.2 L636.8 272.7 L637.4 272.8 L638.0 279.3 L638.6 273.9 L639.3 277.9 L639.9 277.4 L640.5 283.6 L641.1 275.4 L641.7 279.8 L642.3 279.5 L642.9 281.9 L643.6 282.5 L644.2 278.4 L644.8 282.1 L645.4 277.9 L646.0 281.9 L646.6 281.7 L647.2 284.3 L647.9 283.1 L648.5 278.5 L649.1 283.3 L649.7 282.7 L650.3 285.0 L650.9 283.7 L651.5 282.8 L652.1 288.9 L652.8 285.8 L653.4 277.9 L654.0 281.2 L654.6 282.1 L655.2 284.5 L655.8 283.5 L656.4 284.1 L657.1 283.7 L657.7 279.5 L658.3 284.9 L658.9 287.8 L659.5 287.5 L660.1 286.2 L660.7 286.0 L661.4 285.8 L662.0 286.3 L662.6 292.5 L663.2 288.0 L663.8 284.9 L664.4 284.3 L665.0 284.3 L665.7 283.0 L666.3 281.7 L666.9 285.9 L667.5 287.5 L668.1 283.5 L668.7 289.3 L669.3 287.1 L670.0 289.4 L670.6 288.1 L671.2 288.8 L671.8 288.4 L672.4 284.0 L673.0 291.4 L673.6 289.0 L674.3 291.9 L674.9 287.5 L675.5 285.5 L676.1 288.3 L676.7 284.9 L677.3 288.7 L677.9 288.9 L678.5 292.0" fill="none" stroke="#000" stroke-width="0.65"/>
</g>
<text transform="translate(276.0,265.0) rotate(-90)" font-family="'DejaVu Sans','Liberation Sans',sans-serif" font-size="7.5" font-weight="bold" fill="#1f3a5f">225</text>
<text transform="translate(301.5,274.0) rotate(-90)" font-family="'DejaVu Sans','Liberation Sans',sans-serif" font-size="7.5" font-weight="bold" fill="#1f3a5f">306</text>
<text transform="translate(340.0,271.5) rotate(-90)" font-family="'DejaVu Sans','Liberation Sans',sans-serif" font-size="7.5" font-weight="bold" fill="#1f3a5f">431</text>
<text transform="translate(395.0,254.0) rotate(-90)" font-family="'DejaVu Sans','Liberation Sans',sans-serif" font-size="7.5" font-weight="bold" fill="#1f3a5f">641</text>
<text transform="translate(423.0,213.6) rotate(-90)" font-family="'DejaVu Sans','Liberation Sans',sans-serif" font-size="7.5" font-weight="bold" fill="#1f3a5f">682</text>
<text transform="translate(504.4,282.0) rotate(-90)" font-family="'DejaVu Sans','Liberation Sans',sans-serif" font-size="7.5" font-weight="bold" fill="#c8242c">287</text>
<text transform="translate(517.8,269.0) rotate(-90)" font-family="'DejaVu Sans','Liberation Sans',sans-serif" font-size="7.5" font-weight="bold" fill="#c8242c">320</text>
<text transform="translate(572.0,254.0) rotate(-90)" font-family="'DejaVu Sans','Liberation Sans',sans-serif" font-size="7.5" font-weight="bold" fill="#c8242c">498</text>
<text transform="translate(581.2,265.0) rotate(-90)" font-family="'DejaVu Sans','Liberation Sans',sans-serif" font-size="7.5" font-weight="bold" fill="#c8242c">518</text>
<text transform="translate(605.4,249.5) rotate(-90)" font-family="'DejaVu Sans','Liberation Sans',sans-serif" font-size="7.5" font-weight="bold" fill="#c8242c">616</text>
<text transform="translate(617.0,234.5) rotate(-90)" font-family="'DejaVu Sans','Liberation Sans',sans-serif" font-size="7.5" font-weight="bold" fill="#c8242c">649</text>
<text transform="translate(638.6,244.3) rotate(-90)" font-family="'DejaVu Sans','Liberation Sans',sans-serif" font-size="7.5" font-weight="bold" fill="#1f3a5f">682</text>
<rect x="250.5" y="189.5" width="67.5" height="17.5" fill="#fff" stroke="#eee" stroke-width="0.5"/>
<rect x="253" y="198" width="14" height="6.6" fill="#9c9cf4"/>
<text x="269.6" y="203.6" font-family="'Liberation Sans','DejaVu Sans',sans-serif" font-size="6.3" font-weight="bold" fill="#222">h-ErMnO<tspan font-size="4" dy="1">3</tspan><tspan dy="-1"> mode</tspan></text>
<polygon points="260.10,186.50 261.16,191.34 266.00,192.40 261.16,193.46 260.10,198.30 259.04,193.46 254.20,192.40 259.04,191.34" fill="#1010f0"/>
<rect x="465.8" y="189.5" width="63.8" height="25.8" fill="#fff" stroke="#eee" stroke-width="0.5"/>
<rect x="467.4" y="197.4" width="13.6" height="6.6" fill="#f0909c"/>
<rect x="467.4" y="206.2" width="13.6" height="6.8" fill="#9c9cf4"/>
<text x="483" y="203" font-family="'Liberation Sans','DejaVu Sans',sans-serif" font-size="6.0" font-weight="bold" fill="#222">o-ErMnO<tspan font-size="3.8" dy="1">3</tspan><tspan dy="-1"> mode</tspan></text>
<text x="483" y="211.8" font-family="'Liberation Sans','DejaVu Sans',sans-serif" font-size="6.0" font-weight="bold" fill="#222">h-ErMnO<tspan font-size="3.8" dy="1">3</tspan><tspan dy="-1"> mode</tspan></text>
<polygon points="473.60,186.70 474.66,191.54 479.50,192.60 474.66,193.66 473.60,198.50 472.54,193.66 467.70,192.60 472.54,191.54" fill="#ff1010"/>
<text transform="translate(239.6,238.6) rotate(-90)" font-family="'DejaVu Sans','Liberation Sans',sans-serif" font-size="7.2" font-weight="bold" text-anchor="middle" fill="#111">Intensity (a.u.)</text>
<text x="356.4" y="314.8" font-family="'DejaVu Sans','Liberation Sans',sans-serif" font-size="6.3" font-weight="bold" text-anchor="middle" fill="#222">Raman shift (cm<tspan font-size="4.2" dy="-2.2">-1</tspan><tspan dy="2.2">)</tspan></text>
<text x="571" y="314.8" font-family="'DejaVu Sans','Liberation Sans',sans-serif" font-size="6.3" font-weight="bold" text-anchor="middle" fill="#222">Raman shift (1/cm)</text>
<text x="231" y="191" font-family="'Liberation Sans','DejaVu Sans',sans-serif" font-size="12" font-weight="bold" fill="#111">e)</text>
<rect x="119" y="344.4" width="151" height="150" fill="#110805"/>
<g clip-path="url(#cf)" fill="#e6e05c">
<rect x="219.2" y="423.9" width="1.1" height="0.7" fill="#f0f07a"/>
<rect x="218.8" y="423.2" width="1.1" height="0.9" fill="#c8b840"/>
<rect x="219.4" y="417.6" width="1.2" height="1.1" fill="#e6e05c"/>
<rect x="211.0" y="415.5" width="1.1" height="0.8" fill="#e6e05c"/>
<rect x="220.1" y="432.9" width="0.8" height="0.8" fill="#f0f07a"/>
<rect x="216.6" y="414.2" width="1.0" height="0.8" fill="#e6e05c"/>
<rect x="216.6" y="428.1" width="1.1" height="1.0" fill="#f0f07a"/>
<rect x="227.4" y="422.6" width="1.1" height="1.1" fill="#e6e05c"/>
<rect x="221.7" y="426.8" width="1.2" height="1.0" fill="#c8b840"/>
<rect x="217.7" y="425.8" width="0.9" height="0.8" fill="#e6e05c"/>
<rect x="226.0" y="421.4" width="1.2" height="1.0" fill="#f0f07a"/>
<rect x="218.7" y="431.4" width="1.1" height="0.9" fill="#e6e05c"/>
<rect x="217.1" y="422.4" width="1.2" height="0.9" fill="#f0f07a"/>
<rect x="220.2" y="422.4" width="1.2" height="1.1" fill="#f0f07a"/>
<rect x="217.9" y="426.0" width="0.9" height="0.9" fill="#e6e05c"/>
<rect x="232.0" y="437.6" width="1.3" height="0.8" fill="#f0f07a"/>
<rect x="215.9" y="429.3" width="1.1" height="1.2" fill="#f0f07a"/>
<rect x="201.7" y="426.7" width="1.1" height="1.1" fill="#f0f07a"/>
<rect x="220.6" y="420.8" width="1.1" height="0.8" fill="#c8b840"/>
<rect x="221.9" y="424.3" width="1.2" height="1.0" fill="#e6e05c"/>
<rect x="224.6" y="433.8" width="1.0" height="0.9" fill="#f0f07a"/>
<rect x="225.4" y="420.6" width="1.1" height="0.8" fill="#e6e05c"/>
<rect x="214.2" y="428.4" width="0.9" height="0.8" fill="#e6e05c"/>
<rect x="213.3" y="426.2" width="0.8" height="0.9" fill="#f0f07a"/>
<rect x="208.8" y="424.9" width="0.8" height="0.8" fill="#f0f07a"/>
<rect x="211.7" y="430.2" width="1.0" height="0.9" fill="#f0f07a"/>
<rect x="218.2" y="422.7" width="0.8" height="0.7" fill="#e6e05c"/>
<rect x="224.7" y="421.3" width="0.9" height="0.8" fill="#f0f07a"/>
<rect x="212.0" y="429.5" width="0.9" height="1.1" fill="#e6e05c"/>
<rect x="217.7" y="427.2" width="1.0" height="0.8" fill="#e6e05c"/>
<rect x="212.4" y="427.5" width="1.3" height="0.7" fill="#e6e05c"/>
<rect x="226.2" y="420.8" width="1.3" height="1.1" fill="#f0f07a"/>
<rect x="219.0" y="426.5" width="1.3" height="0.8" fill="#e6e05c"/>
<rect x="220.3" y="422.6" width="0.8" height="1.0" fill="#c8b840"/>
<rect x="208.9" y="432.7" width="1.1" height="0.9" fill="#e6e05c"/>
<rect x="220.3" y="423.9" width="0.9" height="0.8" fill="#f0f07a"/>
<rect x="212.8" y="423.8" width="1.1" height="0.7" fill="#f0f07a"/>
<rect x="224.3" y="426.7" width="1.2" height="0.8" fill="#e6e05c"/>
<rect x="213.8" y="417.1" width="0.9" height="0.7" fill="#e6e05c"/>
<rect x="224.8" y="421.0" width="1.0" height="0.9" fill="#f0f07a"/>
<rect x="225.5" y="425.9" width="1.3" height="0.7" fill="#c8b840"/>
<rect x="222.1" y="429.8" width="0.9" height="0.9" fill="#f0f07a"/>
<rect x="222.0" y="425.9" width="1.2" height="1.2" fill="#e6e05c"/>
<rect x="219.3" y="421.5" width="1.0" height="0.8" fill="#e6e05c"/>
<rect x="214.2" y="424.0" width="0.8" height="1.0" fill="#c8b840"/>
<rect x="224.9" y="426.2" width="1.2" height="1.0" fill="#c8b840"/>
<rect x="229.0" y="429.3" width="0.7" height="0.7" fill="#f0f07a"/>
<rect x="217.5" y="431.3" width="1.2" height="0.8" fill="#f0f07a"/>
<rect x="217.7" y="429.2" width="1.0" height="1.1" fill="#f0f07a"/>
<rect x="215.6" y="413.8" width="0.9" height="1.0" fill="#e6e05c"/>
<rect x="211.4" y="420.9" width="1.0" height="1.1" fill="#c8b840"/>
<rect x="218.4" y="421.1" width="1.1" height="1.0" fill="#e6e05c"/>
<rect x="226.4" y="416.6" width="1.2" height="1.0" fill="#f0f07a"/>
<rect x="216.3" y="414.2" width="0.9" height="0.8" fill="#c8b840"/>
<rect x="216.4" y="424.4" width="0.9" height="1.2" fill="#e6e05c"/>
<rect x="218.6" y="427.2" width="0.7" height="0.8" fill="#c8b840"/>
<rect x="209.2" y="421.6" width="0.8" height="0.7" fill="#f0f07a"/>
<rect x="221.8" y="418.5" width="0.9" height="1.1" fill="#e6e05c"/>
<rect x="215.8" y="421.1" width="1.3" height="1.2" fill="#e6e05c"/>
<rect x="213.1" y="424.9" width="1.1" height="1.2" fill="#e6e05c"/>
<rect x="217.6" y="420.8" width="0.8" height="1.2" fill="#e6e05c"/>
<rect x="221.9" y="434.2" width="0.9" height="0.8" fill="#c8b840"/>
<rect x="217.7" y="429.2" width="0.9" height="1.1" fill="#e6e05c"/>
<rect x="225.8" y="424.9" width="1.0" height="1.2" fill="#f0f07a"/>
<rect x="217.8" y="425.9" width="1.1" height="0.9" fill="#f0f07a"/>
<rect x="222.4" y="427.9" width="0.9" height="0.7" fill="#f0f07a"/>
<rect x="221.7" y="432.1" width="1.2" height="1.2" fill="#e6e05c"/>
<rect x="223.5" y="420.7" width="1.0" height="1.1" fill="#e6e05c"/>
<rect x="210.6" y="428.2" width="1.2" height="1.2" fill="#e6e05c"/>
<rect x="228.8" y="427.7" width="0.9" height="0.8" fill="#f0f07a"/>
<rect x="215.4" y="434.2" width="1.1" height="1.1" fill="#c8b840"/>
<rect x="215.5" y="420.8" width="0.8" height="0.9" fill="#e6e05c"/>
<rect x="225.0" y="421.4" width="1.2" height="0.9" fill="#f0f07a"/>
<rect x="227.2" y="426.5" width="1.1" height="0.7" fill="#f0f07a"/>
<rect x="215.2" y="429.6" width="0.8" height="0.8" fill="#e6e05c"/>
<rect x="211.9" y="431.5" width="1.0" height="0.9" fill="#f0f07a"/>
<rect x="224.9" y="417.1" width="0.9" height="0.9" fill="#f0f07a"/>
<rect x="219.0" y="427.1" width="0.9" height="0.9" fill="#c8b840"/>
<rect x="216.8" y="426.9" width="1.1" height="0.8" fill="#f0f07a"/>
<rect x="218.3" y="426.0" width="1.0" height="0.8" fill="#c8b840"/>
<rect x="222.7" y="428.6" width="1.3" height="1.1" fill="#f0f07a"/>
<rect x="229.0" y="427.3" width="1.3" height="1.0" fill="#f0f07a"/>
<rect x="232.7" y="429.2" width="0.9" height="0.9" fill="#e6e05c"/>
<rect x="218.6" y="410.7" width="1.1" height="1.0" fill="#e6e05c"/>
<rect x="213.9" y="417.9" width="1.3" height="1.0" fill="#c8b840"/>
<rect x="220.0" y="428.2" width="0.9" height="1.1" fill="#f0f07a"/>
<rect x="221.1" y="439.6" width="0.7" height="1.1" fill="#f0f07a"/>
<rect x="219.0" y="423.6" width="1.0" height="1.0" fill="#c8b840"/>
<rect x="214.0" y="426.0" width="0.7" height="1.2" fill="#f0f07a"/>
<rect x="214.0" y="419.6" width="0.9" height="1.1" fill="#e6e05c"/>
<rect x="208.4" y="421.2" width="1.3" height="0.9" fill="#f0f07a"/>
<rect x="222.2" y="423.2" width="1.2" height="1.0" fill="#c8b840"/>
<rect x="222.1" y="425.3" width="0.8" height="0.8" fill="#e6e05c"/>
<rect x="217.4" y="416.6" width="1.1" height="1.0" fill="#e6e05c"/>
<rect x="226.0" y="426.6" width="0.9" height="1.0" fill="#c8b840"/>
<rect x="216.5" y="421.3" width="0.7" height="0.7" fill="#e6e05c"/>
<rect x="223.9" y="426.9" width="0.7" height="1.1" fill="#c8b840"/>
<rect x="208.5" y="421.1" width="1.1" height="0.8" fill="#f0f07a"/>
<rect x="221.6" y="424.5" width="0.9" height="0.8" fill="#c8b840"/>
<rect x="234.5" y="433.6" width="1.0" height="1.0" fill="#f0f07a"/>
<rect x="217.4" y="420.4" width="1.3" height="1.0" fill="#f0f07a"/>
<rect x="221.6" y="420.3" width="1.0" height="1.2" fill="#e6e05c"/>
<rect x="216.4" y="425.0" width="0.7" height="0.8" fill="#e6e05c"/>
<rect x="218.2" y="422.7" width="0.8" height="1.0" fill="#c8b840"/>
<rect x="214.2" y="430.2" width="1.1" height="1.2" fill="#f0f07a"/>
<rect x="220.8" y="420.7" width="1.3" height="0.8" fill="#f0f07a"/>
<rect x="211.9" y="416.3" width="0.8" height="1.0" fill="#f0f07a"/>
<rect x="216.8" y="423.4" width="0.9" height="1.0" fill="#f0f07a"/>
<rect x="233.9" y="419.6" width="1.0" height="0.8" fill="#e6e05c"/>
<rect x="227.0" y="423.0" width="0.8" height="0.7" fill="#f0f07a"/>
<rect x="217.0" y="439.1" width="0.8" height="0.9" fill="#c8b840"/>
<rect x="222.2" y="419.0" width="0.7" height="1.1" fill="#f0f07a"/>
<rect x="214.5" y="417.1" width="1.3" height="0.9" fill="#f0f07a"/>
<rect x="219.5" y="425.6" width="1.0" height="0.9" fill="#e6e05c"/>
<rect x="224.4" y="425.8" width="1.0" height="0.7" fill="#f0f07a"/>
<rect x="218.5" y="428.2" width="0.8" height="1.1" fill="#c8b840"/>
<rect x="218.2" y="421.6" width="1.0" height="1.1" fill="#e6e05c"/>
<rect x="235.8" y="418.9" width="0.7" height="0.9" fill="#f0f07a"/>
<rect x="217.2" y="433.1" width="1.0" height="1.0" fill="#f0f07a"/>
<rect x="214.3" y="430.7" width="1.3" height="0.8" fill="#c8b840"/>
<rect x="210.1" y="423.1" width="0.9" height="0.8" fill="#c8b840"/>
<rect x="214.4" y="421.2" width="0.8" height="0.8" fill="#e6e05c"/>
<rect x="219.8" y="418.2" width="0.7" height="0.9" fill="#e6e05c"/>
<rect x="219.4" y="419.8" width="1.2" height="0.8" fill="#f0f07a"/>
<rect x="208.9" y="426.7" width="1.3" height="0.9" fill="#c8b840"/>
<rect x="224.6" y="426.1" width="1.2" height="0.9" fill="#e6e05c"/>
<rect x="216.4" y="417.9" width="0.9" height="1.0" fill="#f0f07a"/>
<rect x="225.5" y="421.2" width="1.0" height="1.0" fill="#e6e05c"/>
<rect x="211.1" y="418.8" width="0.8" height="0.9" fill="#c8b840"/>
<rect x="208.9" y="422.8" width="1.1" height="0.8" fill="#c8b840"/>
<rect x="224.9" y="414.5" width="1.2" height="0.8" fill="#e6e05c"/>
<rect x="219.6" y="420.4" width="1.0" height="1.0" fill="#e6e05c"/>
<rect x="210.1" y="416.2" width="1.0" height="0.8" fill="#f0f07a"/>
<rect x="213.4" y="433.1" width="1.1" height="0.7" fill="#c8b840"/>
<rect x="214.5" y="419.9" width="1.0" height="0.8" fill="#e6e05c"/>
<rect x="217.3" y="427.4" width="1.1" height="1.2" fill="#c8b840"/>
<rect x="224.7" y="422.7" width="1.0" height="1.0" fill="#f0f07a"/>
<rect x="222.6" y="421.3" width="1.2" height="1.1" fill="#f0f07a"/>
<rect x="223.5" y="424.2" width="0.8" height="0.8" fill="#f0f07a"/>
<rect x="218.6" y="421.1" width="1.3" height="0.9" fill="#e6e05c"/>
<rect x="224.5" y="424.8" width="0.8" height="0.9" fill="#e6e05c"/>
<rect x="221.1" y="426.4" width="1.1" height="0.8" fill="#f0f07a"/>
<rect x="209.8" y="420.5" width="0.9" height="0.7" fill="#f0f07a"/>
<rect x="223.1" y="426.2" width="1.2" height="0.9" fill="#f0f07a"/>
<rect x="216.5" y="421.6" width="1.0" height="0.7" fill="#f0f07a"/>
<rect x="227.8" y="423.6" width="0.7" height="1.1" fill="#e6e05c"/>
<rect x="205.8" y="427.5" width="0.7" height="1.0" fill="#e6e05c"/>
<rect x="230.3" y="423.0" width="1.1" height="1.0" fill="#f0f07a"/>
<rect x="221.3" y="427.5" width="1.2" height="0.8" fill="#f0f07a"/>
<rect x="211.3" y="418.9" width="0.7" height="1.0" fill="#c8b840"/>
<rect x="218.8" y="427.1" width="1.0" height="1.0" fill="#e6e05c"/>
<rect x="222.5" y="424.0" width="0.9" height="1.1" fill="#f0f07a"/>
<rect x="232.6" y="417.7" width="0.8" height="1.1" fill="#c8b840"/>
<rect x="222.1" y="433.3" width="1.1" height="1.0" fill="#f0f07a"/>
<rect x="214.3" y="420.8" width="0.8" height="1.1" fill="#e6e05c"/>
<rect x="209.6" y="431.3" width="1.3" height="1.0" fill="#e6e05c"/>
<rect x="222.6" y="429.8" width="1.2" height="0.8" fill="#f0f07a"/>
<rect x="210.1" y="427.6" width="0.8" height="1.1" fill="#c8b840"/>
<rect x="207.1" y="430.9" width="1.3" height="1.1" fill="#e6e05c"/>
<rect x="224.5" y="427.7" width="1.2" height="0.9" fill="#e6e05c"/>
<rect x="207.7" y="420.4" width="0.9" height="1.1" fill="#f0f07a"/>
<rect x="221.4" y="424.3" width="0.8" height="1.0" fill="#f0f07a"/>
<rect x="214.9" y="424.6" width="0.7" height="1.0" fill="#e6e05c"/>
<rect x="227.3" y="422.5" width="0.8" height="0.8" fill="#e6e05c"/>
<rect x="228.0" y="425.2" width="1.0" height="1.1" fill="#f0f07a"/>
<rect x="217.8" y="419.9" width="1.0" height="0.9" fill="#e6e05c"/>
<rect x="226.6" y="426.2" width="0.8" height="0.9" fill="#c8b840"/>
<rect x="209.0" y="417.7" width="1.2" height="0.9" fill="#e6e05c"/>
<rect x="217.6" y="418.5" width="1.2" height="0.8" fill="#c8b840"/>
<rect x="220.7" y="434.4" width="1.2" height="0.8" fill="#f0f07a"/>
<rect x="241.9" y="466.1" width="0.8" height="1.2" fill="#f0f07a"/>
<rect x="236.3" y="466.0" width="1.0" height="0.9" fill="#e6e05c"/>
<rect x="233.5" y="458.9" width="1.3" height="0.9" fill="#f0f07a"/>
<rect x="230.7" y="457.9" width="1.0" height="1.1" fill="#f0f07a"/>
<rect x="235.6" y="466.1" width="1.1" height="0.7" fill="#c8b840"/>
<rect x="228.0" y="458.7" width="1.2" height="1.2" fill="#e6e05c"/>
<rect x="235.2" y="455.1" width="0.8" height="1.1" fill="#c8b840"/>
<rect x="229.6" y="448.0" width="1.0" height="1.1" fill="#c8b840"/>
<rect x="239.5" y="461.5" width="1.0" height="1.1" fill="#f0f07a"/>
<rect x="233.1" y="455.0" width="1.2" height="1.0" fill="#f0f07a"/>
<rect x="235.6" y="459.7" width="1.1" height="0.7" fill="#f0f07a"/>
<rect x="236.2" y="463.7" width="1.1" height="1.1" fill="#e6e05c"/>
<rect x="225.2" y="468.0" width="0.7" height="1.0" fill="#f0f07a"/>
<rect x="215.7" y="457.0" width="0.8" height="0.8" fill="#f0f07a"/>
<rect x="241.2" y="458.5" width="1.2" height="1.1" fill="#e6e05c"/>
<rect x="233.1" y="472.1" width="0.8" height="1.2" fill="#c8b840"/>
<rect x="238.8" y="460.7" width="0.7" height="0.9" fill="#f0f07a"/>
<rect x="235.5" y="459.1" width="0.8" height="1.1" fill="#c8b840"/>
<rect x="236.4" y="459.9" width="0.9" height="1.1" fill="#f0f07a"/>
<rect x="232.2" y="456.4" width="1.0" height="1.1" fill="#e6e05c"/>
<rect x="229.6" y="464.0" width="1.3" height="1.0" fill="#c8b840"/>
<rect x="230.2" y="459.0" width="1.1" height="1.1" fill="#f0f07a"/>
<rect x="236.8" y="466.1" width="1.2" height="0.8" fill="#e6e05c"/>
<rect x="230.7" y="464.2" width="0.8" height="1.0" fill="#e6e05c"/>
<rect x="235.7" y="465.0" width="0.9" height="0.9" fill="#c8b840"/>
<rect x="233.6" y="463.5" width="1.1" height="0.9" fill="#f0f07a"/>
<rect x="234.4" y="455.0" width="1.1" height="1.1" fill="#f0f07a"/>
<rect x="231.5" y="458.8" width="1.1" height="1.2" fill="#f0f07a"/>
<rect x="230.1" y="461.9" width="1.2" height="0.7" fill="#e6e05c"/>
<rect x="232.5" y="462.9" width="0.9" height="1.0" fill="#f0f07a"/>
<rect x="226.6" y="459.3" width="1.3" height="1.0" fill="#c8b840"/>
<rect x="231.5" y="459.3" width="0.8" height="0.9" fill="#f0f07a"/>
<rect x="234.1" y="459.8" width="1.0" height="0.9" fill="#f0f07a"/>
<rect x="229.1" y="463.8" width="0.9" height="1.1" fill="#c8b840"/>
<rect x="233.4" y="453.1" width="0.8" height="1.2" fill="#f0f07a"/>
<rect x="233.8" y="465.6" width="0.7" height="1.0" fill="#e6e05c"/>
<rect x="231.3" y="456.9" width="0.8" height="1.2" fill="#e6e05c"/>
<rect x="234.0" y="462.9" width="0.7" height="0.8" fill="#e6e05c"/>
<rect x="230.6" y="457.5" width="0.8" height="0.8" fill="#f0f07a"/>
<rect x="236.4" y="459.0" width="1.3" height="1.0" fill="#c8b840"/>
<rect x="230.7" y="453.4" width="1.2" height="0.7" fill="#c8b840"/>
<rect x="240.5" y="461.4" width="0.8" height="1.0" fill="#f0f07a"/>
<rect x="241.7" y="463.3" width="1.2" height="1.0" fill="#c8b840"/>
<rect x="233.8" y="462.9" width="0.7" height="1.1" fill="#f0f07a"/>
<rect x="238.1" y="455.2" width="1.1" height="1.0" fill="#f0f07a"/>
<rect x="228.6" y="459.9" width="1.2" height="0.9" fill="#c8b840"/>
<rect x="231.7" y="465.1" width="0.9" height="0.8" fill="#e6e05c"/>
<rect x="223.1" y="454.7" width="1.1" height="1.0" fill="#e6e05c"/>
<rect x="244.2" y="465.7" width="0.8" height="1.0" fill="#c8b840"/>
<rect x="234.8" y="469.7" width="0.9" height="0.8" fill="#c8b840"/>
<rect x="232.7" y="454.4" width="1.1" height="1.0" fill="#e6e05c"/>
<rect x="232.1" y="463.3" width="1.1" height="1.1" fill="#f0f07a"/>
<rect x="229.5" y="460.4" width="1.1" height="1.1" fill="#f0f07a"/>
<rect x="236.0" y="459.4" width="0.9" height="1.0" fill="#f0f07a"/>
<rect x="237.0" y="463.3" width="0.8" height="1.0" fill="#e6e05c"/>
<rect x="238.2" y="460.8" width="0.8" height="0.8" fill="#f0f07a"/>
<rect x="228.1" y="451.2" width="1.0" height="1.0" fill="#f0f07a"/>
<rect x="237.4" y="469.9" width="0.8" height="0.7" fill="#e6e05c"/>
<rect x="242.9" y="459.1" width="1.1" height="1.0" fill="#f0f07a"/>
<rect x="226.4" y="452.1" width="1.3" height="1.1" fill="#f0f07a"/>
<rect x="237.6" y="461.8" width="1.1" height="1.2" fill="#f0f07a"/>
<rect x="243.6" y="461.0" width="1.2" height="0.8" fill="#e6e05c"/>
<rect x="234.2" y="468.4" width="1.1" height="1.0" fill="#f0f07a"/>
<rect x="226.9" y="463.8" width="1.0" height="1.1" fill="#c8b840"/>
<rect x="230.0" y="458.7" width="0.9" height="0.7" fill="#c8b840"/>
<rect x="234.6" y="465.5" width="1.2" height="1.2" fill="#e6e05c"/>
<rect x="236.0" y="465.8" width="0.7" height="0.9" fill="#f0f07a"/>
<rect x="242.8" y="459.8" width="1.0" height="1.0" fill="#f0f07a"/>
<rect x="234.2" y="454.8" width="0.7" height="0.7" fill="#e6e05c"/>
<rect x="235.7" y="459.7" width="0.7" height="0.8" fill="#e6e05c"/>
<rect x="240.2" y="461.5" width="1.1" height="0.7" fill="#e6e05c"/>
<rect x="233.0" y="460.5" width="1.3" height="0.8" fill="#f0f07a"/>
<rect x="233.3" y="466.6" width="0.9" height="1.1" fill="#c8b840"/>
<rect x="232.1" y="454.6" width="1.2" height="1.0" fill="#e6e05c"/>
<rect x="235.1" y="455.5" width="1.1" height="1.2" fill="#e6e05c"/>
<rect x="238.0" y="465.4" width="1.3" height="0.7" fill="#f0f07a"/>
<rect x="229.4" y="462.9" width="1.2" height="0.8" fill="#e6e05c"/>
<rect x="234.8" y="458.6" width="1.1" height="1.2" fill="#c8b840"/>
<rect x="233.0" y="458.9" width="1.3" height="1.1" fill="#f0f07a"/>
<rect x="234.8" y="464.8" width="0.8" height="1.0" fill="#e6e05c"/>
<rect x="239.2" y="454.8" width="1.2" height="0.9" fill="#f0f07a"/>
<rect x="236.1" y="459.2" width="0.9" height="1.0" fill="#e6e05c"/>
<rect x="225.2" y="463.8" width="0.9" height="0.8" fill="#f0f07a"/>
<rect x="230.5" y="463.5" width="1.2" height="1.0" fill="#f0f07a"/>
<rect x="233.5" y="461.0" width="1.0" height="0.9" fill="#c8b840"/>
<rect x="235.4" y="459.0" width="1.1" height="1.0" fill="#f0f07a"/>
<rect x="230.2" y="463.8" width="1.1" height="0.8" fill="#e6e05c"/>
<rect x="228.2" y="458.1" width="0.9" height="0.7" fill="#f0f07a"/>
<rect x="234.1" y="458.3" width="1.2" height="1.2" fill="#e6e05c"/>
<rect x="234.4" y="462.1" width="1.1" height="0.8" fill="#e6e05c"/>
<rect x="237.1" y="462.4" width="1.0" height="0.9" fill="#e6e05c"/>
<rect x="228.0" y="452.2" width="0.9" height="0.9" fill="#f0f07a"/>
<rect x="231.1" y="468.0" width="1.0" height="1.2" fill="#f0f07a"/>
<rect x="229.1" y="467.2" width="1.2" height="0.8" fill="#e6e05c"/>
<rect x="232.0" y="463.2" width="1.1" height="1.1" fill="#f0f07a"/>
<rect x="230.9" y="455.0" width="0.9" height="0.8" fill="#f0f07a"/>
<rect x="231.0" y="468.0" width="0.8" height="1.0" fill="#e6e05c"/>
<rect x="234.9" y="463.5" width="1.2" height="1.1" fill="#f0f07a"/>
<rect x="234.6" y="460.3" width="1.1" height="0.8" fill="#f0f07a"/>
<rect x="236.2" y="465.1" width="1.0" height="1.0" fill="#e6e05c"/>
<rect x="229.1" y="467.4" width="1.3" height="0.8" fill="#e6e05c"/>
<rect x="239.8" y="459.0" width="0.7" height="0.7" fill="#e6e05c"/>
<rect x="230.9" y="459.6" width="0.9" height="0.8" fill="#c8b840"/>
<rect x="229.0" y="456.0" width="1.1" height="1.2" fill="#e6e05c"/>
<rect x="231.2" y="462.9" width="1.0" height="1.1" fill="#e6e05c"/>
<rect x="246.5" y="464.8" width="1.1" height="0.9" fill="#e6e05c"/>
<rect x="229.9" y="453.8" width="0.9" height="0.8" fill="#e6e05c"/>
<rect x="234.7" y="453.7" width="1.0" height="0.8" fill="#f0f07a"/>
<rect x="232.5" y="466.3" width="0.7" height="0.8" fill="#e6e05c"/>
<rect x="227.5" y="462.8" width="0.8" height="1.1" fill="#e6e05c"/>
<rect x="243.9" y="462.2" width="0.8" height="0.8" fill="#f0f07a"/>
<rect x="238.2" y="462.3" width="1.3" height="0.8" fill="#e6e05c"/>
<rect x="238.3" y="458.2" width="1.0" height="0.9" fill="#f0f07a"/>
<rect x="232.1" y="454.5" width="1.1" height="1.1" fill="#f0f07a"/>
<rect x="233.2" y="457.4" width="1.0" height="1.0" fill="#e6e05c"/>
<rect x="240.1" y="456.4" width="1.2" height="1.1" fill="#f0f07a"/>
<rect x="233.2" y="465.1" width="0.8" height="1.1" fill="#f0f07a"/>
<rect x="231.4" y="459.6" width="1.1" height="1.0" fill="#e6e05c"/>
<rect x="227.3" y="457.6" width="1.1" height="1.1" fill="#e6e05c"/>
<rect x="233.1" y="466.1" width="0.9" height="0.9" fill="#c8b840"/>
<rect x="232.8" y="461.2" width="1.2" height="1.1" fill="#c8b840"/>
<rect x="238.9" y="461.7" width="1.1" height="1.0" fill="#c8b840"/>
<rect x="231.7" y="462.5" width="0.7" height="1.2" fill="#f0f07a"/>
<rect x="233.3" y="462.6" width="0.7" height="1.1" fill="#f0f07a"/>
<rect x="236.4" y="467.6" width="0.8" height="1.1" fill="#f0f07a"/>
<rect x="239.2" y="454.2" width="1.3" height="1.1" fill="#f0f07a"/>
<rect x="229.9" y="460.1" width="0.9" height="0.9" fill="#e6e05c"/>
<rect x="236.9" y="459.7" width="1.0" height="0.8" fill="#e6e05c"/>
<rect x="230.0" y="454.6" width="0.7" height="0.9" fill="#f0f07a"/>
<rect x="231.9" y="463.3" width="1.2" height="1.0" fill="#e6e05c"/>
<rect x="235.8" y="453.6" width="1.2" height="1.0" fill="#e6e05c"/>
<rect x="234.3" y="456.5" width="1.0" height="1.0" fill="#e6e05c"/>
<rect x="236.1" y="467.9" width="1.2" height="1.0" fill="#e6e05c"/>
<rect x="236.3" y="463.5" width="0.8" height="1.1" fill="#e6e05c"/>
<rect x="229.3" y="452.2" width="1.1" height="1.0" fill="#f0f07a"/>
<rect x="237.8" y="458.7" width="0.7" height="0.9" fill="#f0f07a"/>
<rect x="232.3" y="458.9" width="0.8" height="0.8" fill="#c8b840"/>
<rect x="231.3" y="465.5" width="0.9" height="1.0" fill="#f0f07a"/>
<rect x="235.6" y="459.5" width="1.3" height="1.1" fill="#e6e05c"/>
<rect x="227.2" y="457.8" width="0.9" height="1.1" fill="#f0f07a"/>
<rect x="211.3" y="483.0" width="1.1" height="1.1" fill="#f0f07a"/>
<rect x="197.0" y="489.1" width="1.0" height="0.9" fill="#f0f07a"/>
<rect x="230.9" y="487.1" width="1.2" height="0.7" fill="#c8b840"/>
<rect x="203.9" y="488.2" width="0.9" height="0.8" fill="#e6e05c"/>
<rect x="208.1" y="489.2" width="0.9" height="1.0" fill="#e6e05c"/>
<rect x="207.9" y="495.1" width="0.8" height="1.2" fill="#e6e05c"/>
<rect x="207.9" y="485.4" width="0.9" height="0.8" fill="#c8b840"/>
<rect x="201.2" y="486.9" width="1.2" height="0.8" fill="#f0f07a"/>
<rect x="218.4" y="489.3" width="1.2" height="0.8" fill="#c8b840"/>
<rect x="217.2" y="489.3" width="0.8" height="0.9" fill="#f0f07a"/>
<rect x="203.4" y="490.3" width="0.9" height="1.0" fill="#c8b840"/>
<rect x="219.7" y="488.1" width="1.1" height="1.2" fill="#e6e05c"/>
<rect x="197.1" y="482.5" width="1.1" height="0.9" fill="#e6e05c"/>
<rect x="212.1" y="488.2" width="0.9" height="1.0" fill="#c8b840"/>
<rect x="217.2" y="491.0" width="0.9" height="0.7" fill="#e6e05c"/>
<rect x="204.5" y="491.1" width="1.0" height="0.8" fill="#c8b840"/>
<rect x="206.5" y="483.5" width="0.9" height="0.8" fill="#f0f07a"/>
<rect x="217.8" y="485.9" width="0.8" height="1.0" fill="#f0f07a"/>
<rect x="215.5" y="487.1" width="1.1" height="1.1" fill="#f0f07a"/>
<rect x="212.6" y="491.3" width="1.1" height="0.8" fill="#f0f07a"/>
<rect x="219.2" y="489.1" width="1.0" height="0.9" fill="#e6e05c"/>
<rect x="222.3" y="489.0" width="1.0" height="0.8" fill="#e6e05c"/>
<rect x="190.9" y="489.6" width="0.8" height="0.8" fill="#f0f07a"/>
<rect x="213.4" y="489.6" width="0.7" height="0.9" fill="#e6e05c"/>
<rect x="215.5" y="487.3" width="0.9" height="0.9" fill="#c8b840"/>
<rect x="214.1" y="488.3" width="1.2" height="0.8" fill="#e6e05c"/>
<rect x="206.7" y="487.9" width="1.2" height="1.1" fill="#f0f07a"/>
<rect x="189.6" y="487.8" width="0.8" height="1.1" fill="#e6e05c"/>
<rect x="210.8" y="488.3" width="0.8" height="1.1" fill="#f0f07a"/>
<rect x="203.2" y="489.9" width="0.8" height="0.9" fill="#e6e05c"/>
<rect x="209.4" y="488.2" width="0.9" height="0.8" fill="#f0f07a"/>
<rect x="211.5" y="488.3" width="0.8" height="1.2" fill="#f0f07a"/>
<rect x="206.7" y="485.3" width="1.2" height="1.1" fill="#f0f07a"/>
<rect x="218.2" y="486.9" width="1.2" height="0.8" fill="#e6e05c"/>
<rect x="200.8" y="486.3" width="0.7" height="1.0" fill="#c8b840"/>
<rect x="197.6" y="484.1" width="0.8" height="1.2" fill="#e6e05c"/>
<rect x="221.6" y="488.3" width="1.2" height="0.9" fill="#f0f07a"/>
<rect x="199.3" y="487.5" width="1.1" height="0.9" fill="#e6e05c"/>
<rect x="216.6" y="484.4" width="0.9" height="1.2" fill="#e6e05c"/>
<rect x="220.3" y="487.6" width="0.7" height="0.9" fill="#e6e05c"/>
<rect x="204.7" y="486.2" width="1.0" height="1.0" fill="#e6e05c"/>
<rect x="198.4" y="490.3" width="0.7" height="0.9" fill="#f0f07a"/>
<rect x="189.1" y="491.6" width="1.1" height="1.2" fill="#f0f07a"/>
<rect x="196.7" y="483.1" width="1.2" height="0.9" fill="#c8b840"/>
<rect x="218.4" y="486.3" width="0.9" height="1.0" fill="#f0f07a"/>
<rect x="212.2" y="483.7" width="1.0" height="0.9" fill="#c8b840"/>
<rect x="210.0" y="486.2" width="0.7" height="1.1" fill="#e6e05c"/>
<rect x="215.2" y="486.3" width="1.2" height="0.9" fill="#c8b840"/>
<rect x="192.5" y="485.6" width="0.9" height="1.0" fill="#c8b840"/>
<rect x="206.4" y="487.2" width="1.1" height="0.9" fill="#e6e05c"/>
<rect x="213.7" y="488.5" width="0.8" height="1.1" fill="#e6e05c"/>
<rect x="200.1" y="493.3" width="1.0" height="0.9" fill="#c8b840"/>
<rect x="219.0" y="488.4" width="0.9" height="1.0" fill="#f0f07a"/>
<rect x="210.8" y="493.2" width="1.0" height="1.0" fill="#c8b840"/>
<rect x="205.6" y="484.4" width="0.7" height="0.9" fill="#f0f07a"/>
<rect x="212.5" y="488.1" width="1.1" height="1.0" fill="#c8b840"/>
<rect x="216.5" y="494.8" width="1.1" height="1.1" fill="#c8b840"/>
<rect x="215.3" y="489.2" width="1.2" height="0.8" fill="#e6e05c"/>
<rect x="208.8" y="490.7" width="0.9" height="0.8" fill="#f0f07a"/>
<rect x="213.4" y="483.6" width="1.1" height="0.9" fill="#f0f07a"/>
<rect x="221.6" y="489.4" width="0.8" height="0.8" fill="#f0f07a"/>
<rect x="219.4" y="487.6" width="1.0" height="1.1" fill="#f0f07a"/>
<rect x="205.9" y="490.6" width="0.9" height="0.9" fill="#f0f07a"/>
<rect x="205.5" y="492.5" width="1.1" height="1.2" fill="#c8b840"/>
<rect x="196.1" y="486.3" width="1.0" height="1.1" fill="#f0f07a"/>
<rect x="231.3" y="492.0" width="1.2" height="0.7" fill="#f0f07a"/>
<rect x="205.9" y="494.8" width="1.3" height="0.9" fill="#e6e05c"/>
<rect x="197.8" y="485.5" width="0.8" height="1.1" fill="#e6e05c"/>
<rect x="212.8" y="490.1" width="1.2" height="0.8" fill="#f0f07a"/>
<rect x="219.3" y="484.9" width="0.8" height="0.9" fill="#c8b840"/>
<rect x="206.1" y="487.0" width="0.7" height="0.9" fill="#f0f07a"/>
<rect x="226.8" y="491.7" width="1.1" height="1.2" fill="#c8b840"/>
<rect x="207.7" y="491.6" width="1.1" height="1.0" fill="#f0f07a"/>
<rect x="220.5" y="485.6" width="1.2" height="1.1" fill="#c8b840"/>
<rect x="195.4" y="492.3" width="0.9" height="0.8" fill="#f0f07a"/>
<rect x="202.9" y="486.6" width="1.2" height="1.0" fill="#e6e05c"/>
<rect x="216.1" y="489.2" width="1.0" height="0.8" fill="#f0f07a"/>
<rect x="197.4" y="486.4" width="1.3" height="1.1" fill="#f0f07a"/>
<rect x="208.2" y="487.0" width="0.8" height="0.9" fill="#c8b840"/>
<rect x="214.9" y="488.6" width="0.9" height="0.8" fill="#c8b840"/>
<rect x="225.1" y="489.1" width="0.7" height="0.8" fill="#c8b840"/>
<rect x="208.6" y="487.5" width="1.0" height="0.9" fill="#f0f07a"/>
<rect x="220.1" y="486.7" width="0.8" height="0.8" fill="#c8b840"/>
<rect x="218.3" y="485.1" width="1.0" height="0.9" fill="#f0f07a"/>
<rect x="216.8" y="483.5" width="1.2" height="0.9" fill="#c8b840"/>
<rect x="221.8" y="490.7" width="1.3" height="0.9" fill="#e6e05c"/>
<rect x="197.9" y="484.4" width="1.0" height="1.1" fill="#e6e05c"/>
<rect x="216.4" y="490.6" width="1.1" height="0.9" fill="#f0f07a"/>
<rect x="210.1" y="485.4" width="1.0" height="0.9" fill="#f0f07a"/>
<rect x="189.3" y="484.4" width="0.7" height="0.8" fill="#f0f07a"/>
<rect x="210.5" y="486.8" width="1.2" height="1.0" fill="#f0f07a"/>
<rect x="209.9" y="486.6" width="1.0" height="1.1" fill="#c8b840"/>
<rect x="211.7" y="485.8" width="0.8" height="1.2" fill="#f0f07a"/>
<rect x="216.0" y="489.6" width="0.8" height="1.2" fill="#f0f07a"/>
<rect x="217.0" y="491.7" width="0.9" height="0.9" fill="#f0f07a"/>
<rect x="210.7" y="491.6" width="1.2" height="1.1" fill="#f0f07a"/>
<rect x="217.6" y="487.8" width="1.0" height="1.1" fill="#c8b840"/>
<rect x="202.6" y="492.0" width="1.0" height="0.8" fill="#c8b840"/>
<rect x="206.2" y="485.5" width="0.8" height="0.8" fill="#e6e05c"/>
<rect x="217.5" y="484.2" width="0.7" height="1.1" fill="#f0f07a"/>
<rect x="222.4" y="490.8" width="1.1" height="1.1" fill="#e6e05c"/>
<rect x="210.2" y="488.1" width="1.2" height="1.2" fill="#e6e05c"/>
<rect x="220.3" y="488.7" width="0.8" height="1.1" fill="#e6e05c"/>
<rect x="213.8" y="483.8" width="1.2" height="1.1" fill="#f0f07a"/>
<rect x="215.6" y="488.7" width="0.7" height="0.9" fill="#f0f07a"/>
<rect x="218.8" y="489.6" width="1.0" height="0.7" fill="#e6e05c"/>
<rect x="200.1" y="490.9" width="0.8" height="0.8" fill="#c8b840"/>
<rect x="213.6" y="487.9" width="1.2" height="1.1" fill="#e6e05c"/>
<rect x="209.5" y="488.1" width="0.9" height="0.8" fill="#f0f07a"/>
<rect x="215.3" y="487.1" width="1.0" height="0.9" fill="#f0f07a"/>
<rect x="194.0" y="489.5" width="1.2" height="1.0" fill="#c8b840"/>
<rect x="235.6" y="492.1" width="0.8" height="1.2" fill="#e6e05c"/>
<rect x="212.5" y="487.4" width="1.2" height="1.1" fill="#c8b840"/>
<rect x="203.5" y="495.6" width="1.2" height="0.8" fill="#f0f07a"/>
<rect x="220.8" y="490.7" width="1.2" height="0.8" fill="#f0f07a"/>
<rect x="219.9" y="486.6" width="1.2" height="0.9" fill="#f0f07a"/>
<rect x="208.9" y="493.0" width="1.0" height="0.7" fill="#c8b840"/>
<rect x="205.3" y="489.7" width="1.3" height="1.0" fill="#c8b840"/>
<rect x="216.3" y="484.9" width="1.1" height="0.9" fill="#c8b840"/>
<rect x="218.6" y="483.5" width="1.0" height="1.0" fill="#c8b840"/>
<rect x="216.5" y="485.2" width="1.1" height="1.1" fill="#f0f07a"/>
<rect x="187.1" y="488.2" width="0.8" height="1.0" fill="#e6e05c"/>
<rect x="205.1" y="489.8" width="1.0" height="1.0" fill="#f0f07a"/>
<rect x="193.6" y="487.5" width="0.9" height="1.2" fill="#c8b840"/>
<rect x="217.2" y="483.8" width="0.9" height="0.8" fill="#e6e05c"/>
<rect x="208.3" y="487.3" width="0.7" height="0.9" fill="#e6e05c"/>
<rect x="207.5" y="488.0" width="1.2" height="0.7" fill="#e6e05c"/>
<rect x="210.1" y="490.4" width="1.2" height="0.9" fill="#e6e05c"/>
<rect x="208.8" y="487.1" width="1.0" height="1.1" fill="#f0f07a"/>
<rect x="223.9" y="492.4" width="1.1" height="0.8" fill="#c8b840"/>
<rect x="225.2" y="486.8" width="1.2" height="1.0" fill="#e6e05c"/>
<rect x="203.5" y="491.3" width="0.7" height="0.8" fill="#e6e05c"/>
<rect x="215.9" y="485.3" width="1.1" height="1.2" fill="#e6e05c"/>
<rect x="204.2" y="481.5" width="0.7" height="1.1" fill="#c8b840"/>
<rect x="198.9" y="482.7" width="1.2" height="0.9" fill="#f0f07a"/>
<rect x="227.9" y="489.5" width="1.3" height="0.7" fill="#e6e05c"/>
<rect x="211.0" y="486.2" width="1.1" height="1.1" fill="#c8b840"/>
<rect x="225.4" y="489.6" width="1.2" height="0.7" fill="#c8b840"/>
<rect x="210.0" y="487.0" width="0.8" height="0.8" fill="#c8b840"/>
<rect x="210.9" y="484.3" width="1.2" height="0.9" fill="#f0f07a"/>
<rect x="237.6" y="490.2" width="1.1" height="0.9" fill="#e6e05c"/>
<rect x="205.0" y="495.0" width="1.3" height="1.2" fill="#c8b840"/>
<rect x="223.7" y="489.9" width="0.9" height="0.7" fill="#e6e05c"/>
<rect x="207.4" y="485.6" width="0.9" height="0.8" fill="#c8b840"/>
<rect x="201.9" y="490.2" width="0.9" height="0.8" fill="#e6e05c"/>
<rect x="208.7" y="495.4" width="1.0" height="0.9" fill="#e6e05c"/>
<rect x="217.9" y="488.7" width="0.8" height="1.2" fill="#f0f07a"/>
<rect x="184.1" y="488.2" width="1.3" height="0.8" fill="#e6e05c"/>
<rect x="198.0" y="489.5" width="1.2" height="1.0" fill="#e6e05c"/>
<rect x="201.6" y="491.1" width="0.8" height="0.9" fill="#c8b840"/>
<rect x="223.9" y="486.8" width="1.2" height="1.1" fill="#e6e05c"/>
<rect x="226.7" y="484.6" width="1.2" height="1.0" fill="#e6e05c"/>
<rect x="227.2" y="486.7" width="0.8" height="0.9" fill="#c8b840"/>
<rect x="225.3" y="482.6" width="0.8" height="0.8" fill="#e6e05c"/>
<rect x="225.5" y="485.1" width="1.0" height="1.2" fill="#e6e05c"/>
<rect x="230.8" y="485.6" width="0.9" height="1.1" fill="#e6e05c"/>
<rect x="230.6" y="488.4" width="0.7" height="1.1" fill="#c8b840"/>
<rect x="225.9" y="486.8" width="0.8" height="0.9" fill="#f0f07a"/>
<rect x="223.3" y="494.5" width="1.2" height="1.0" fill="#f0f07a"/>
<rect x="228.5" y="488.3" width="1.0" height="0.9" fill="#c8b840"/>
<rect x="226.8" y="487.2" width="1.0" height="1.0" fill="#f0f07a"/>
<rect x="226.5" y="490.4" width="1.2" height="0.9" fill="#e6e05c"/>
<rect x="225.8" y="486.7" width="0.9" height="1.0" fill="#e6e05c"/>
<rect x="225.1" y="485.2" width="0.8" height="0.8" fill="#e6e05c"/>
<rect x="224.7" y="487.7" width="0.8" height="1.1" fill="#f0f07a"/>
<rect x="221.1" y="481.5" width="1.1" height="1.2" fill="#e6e05c"/>
<rect x="237.2" y="414.3" width="1.2" height="0.8" fill="#f0f07a"/>
<rect x="246.3" y="413.6" width="1.2" height="0.8" fill="#e6e05c"/>
<rect x="237.5" y="417.7" width="1.2" height="1.0" fill="#c8b840"/>
<rect x="239.2" y="412.5" width="1.0" height="0.8" fill="#e6e05c"/>
<rect x="238.8" y="415.5" width="1.2" height="0.9" fill="#f0f07a"/>
<rect x="240.0" y="417.7" width="1.0" height="0.8" fill="#f0f07a"/>
<rect x="233.1" y="419.7" width="1.3" height="1.1" fill="#f0f07a"/>
<rect x="240.2" y="416.6" width="0.7" height="1.0" fill="#e6e05c"/>
<rect x="232.8" y="413.4" width="0.9" height="1.1" fill="#e6e05c"/>
<rect x="237.3" y="413.2" width="1.2" height="0.7" fill="#c8b840"/>
<rect x="238.2" y="417.7" width="0.8" height="0.8" fill="#e6e05c"/>
<rect x="238.3" y="419.1" width="1.2" height="0.8" fill="#f0f07a"/>
<rect x="236.4" y="415.8" width="1.0" height="0.8" fill="#e6e05c"/>
<rect x="241.6" y="419.5" width="1.2" height="1.1" fill="#f0f07a"/>
<rect x="238.9" y="413.8" width="1.2" height="1.0" fill="#e6e05c"/>
<rect x="245.2" y="412.3" width="1.1" height="0.9" fill="#e6e05c"/>
<rect x="237.9" y="417.6" width="1.2" height="1.2" fill="#f0f07a"/>
<rect x="239.4" y="414.0" width="1.3" height="1.2" fill="#f0f07a"/>
<rect x="235.7" y="418.8" width="0.8" height="0.8" fill="#e6e05c"/>
<rect x="235.8" y="415.3" width="0.9" height="0.8" fill="#e6e05c"/>
<rect x="240.6" y="417.5" width="0.8" height="1.0" fill="#f0f07a"/>
<rect x="239.7" y="421.2" width="1.3" height="0.8" fill="#e6e05c"/>
<rect x="236.2" y="415.2" width="1.0" height="0.8" fill="#c8b840"/>
<rect x="245.3" y="412.5" width="1.1" height="1.1" fill="#f0f07a"/>
<rect x="239.6" y="415.2" width="1.2" height="1.1" fill="#f0f07a"/>
<rect x="235.0" y="412.2" width="1.3" height="0.8" fill="#c8b840"/>
<rect x="123.5" y="420.2" width="0.8" height="1.1" fill="#e6e05c"/>
<rect x="125.4" y="418.4" width="0.9" height="1.0" fill="#f0f07a"/>
<rect x="124.1" y="418.9" width="1.1" height="1.0" fill="#e6e05c"/>
<rect x="124.7" y="420.9" width="1.3" height="0.9" fill="#f0f07a"/>
<rect x="123.0" y="421.6" width="1.2" height="1.0" fill="#e6e05c"/>
<rect x="124.8" y="419.4" width="1.1" height="1.2" fill="#f0f07a"/>
<rect x="125.1" y="420.0" width="1.2" height="0.8" fill="#f0f07a"/>
<rect x="123.9" y="419.3" width="1.0" height="0.9" fill="#c8b840"/>
<rect x="122.7" y="485.4" width="1.2" height="1.1" fill="#e6e05c"/>
<rect x="125.3" y="485.5" width="0.8" height="1.1" fill="#c8b840"/>
<rect x="121.6" y="482.5" width="0.9" height="0.9" fill="#c8b840"/>
<rect x="127.1" y="487.0" width="0.7" height="0.8" fill="#f0f07a"/>
<rect x="126.9" y="483.7" width="1.2" height="1.0" fill="#f0f07a"/>
<rect x="124.6" y="482.3" width="1.1" height="1.0" fill="#e6e05c"/>
<rect x="126.1" y="483.2" width="1.2" height="0.7" fill="#e6e05c"/>
<rect x="125.1" y="486.7" width="1.0" height="1.1" fill="#e6e05c"/>
<rect x="119.0" y="484.6" width="1.0" height="0.7" fill="#f0f07a"/>
<rect x="129.3" y="482.7" width="0.9" height="1.2" fill="#e6e05c"/>
<rect x="127.3" y="483.4" width="1.1" height="0.9" fill="#f0f07a"/>
<rect x="126.1" y="483.7" width="1.1" height="0.8" fill="#c8b840"/>
<rect x="125.1" y="484.1" width="1.2" height="0.7" fill="#c8b840"/>
<rect x="124.3" y="486.4" width="1.1" height="0.8" fill="#c8b840"/>
<rect x="123.1" y="485.1" width="1.1" height="1.1" fill="#f0f07a"/>
<rect x="125.6" y="480.2" width="1.1" height="1.1" fill="#e6e05c"/>
<rect x="122.4" y="483.5" width="1.2" height="1.2" fill="#f0f07a"/>
<rect x="125.1" y="483.8" width="1.0" height="0.8" fill="#c8b840"/>
<rect x="126.2" y="485.4" width="0.9" height="1.1" fill="#c8b840"/>
<rect x="119.7" y="482.7" width="0.9" height="1.0" fill="#e6e05c"/>
<rect x="122.7" y="483.3" width="1.0" height="1.1" fill="#f0f07a"/>
<rect x="124.0" y="482.8" width="0.8" height="1.1" fill="#c8b840"/>
<rect x="124.3" y="485.5" width="0.8" height="0.9" fill="#c8b840"/>
<rect x="125.2" y="480.8" width="0.9" height="1.1" fill="#c8b840"/>
<rect x="124.3" y="485.7" width="1.0" height="1.0" fill="#e6e05c"/>
<rect x="122.9" y="485.6" width="1.1" height="1.0" fill="#f0f07a"/>
<rect x="123.0" y="486.6" width="1.2" height="0.8" fill="#e6e05c"/>
<rect x="126.2" y="484.6" width="1.0" height="0.8" fill="#e6e05c"/>
<rect x="123.0" y="484.3" width="0.9" height="1.0" fill="#f0f07a"/>
<rect x="122.3" y="480.9" width="0.9" height="0.9" fill="#f0f07a"/>
<rect x="169.0" y="482.6" width="1.1" height="1.0" fill="#c8b840"/>
<rect x="171.3" y="483.5" width="1.1" height="1.0" fill="#c8b840"/>
<rect x="171.6" y="485.6" width="1.2" height="0.7" fill="#f0f07a"/>
<rect x="169.8" y="486.2" width="1.2" height="0.8" fill="#f0f07a"/>
<rect x="170.5" y="482.8" width="0.9" height="0.8" fill="#c8b840"/>
<rect x="174.5" y="479.1" width="1.1" height="1.1" fill="#f0f07a"/>
<rect x="171.0" y="482.9" width="0.9" height="0.8" fill="#f0f07a"/>
<rect x="178.8" y="489.7" width="1.1" height="1.1" fill="#c8b840"/>
<rect x="172.4" y="482.9" width="1.3" height="0.8" fill="#e6e05c"/>
<rect x="166.7" y="479.8" width="1.1" height="1.2" fill="#e6e05c"/>
<rect x="168.3" y="482.2" width="0.7" height="0.8" fill="#f0f07a"/>
<rect x="170.5" y="482.0" width="0.9" height="0.8" fill="#c8b840"/>
<rect x="172.6" y="480.7" width="1.2" height="0.7" fill="#f0f07a"/>
<rect x="167.7" y="485.3" width="1.3" height="0.8" fill="#c8b840"/>
<rect x="168.5" y="483.2" width="0.7" height="1.1" fill="#e6e05c"/>
<rect x="173.1" y="486.2" width="1.0" height="1.0" fill="#f0f07a"/>
<rect x="177.4" y="490.4" width="1.2" height="1.2" fill="#f0f07a"/>
<rect x="166.6" y="481.1" width="1.1" height="0.9" fill="#f0f07a"/>
<rect x="172.7" y="478.9" width="0.7" height="1.0" fill="#e6e05c"/>
<rect x="178.9" y="486.1" width="0.7" height="0.7" fill="#c8b840"/>
<rect x="166.5" y="481.9" width="1.1" height="1.1" fill="#f0f07a"/>
<rect x="172.2" y="484.9" width="1.3" height="0.7" fill="#c8b840"/>
<rect x="173.9" y="477.2" width="0.9" height="0.8" fill="#f0f07a"/>
<rect x="168.8" y="486.9" width="1.2" height="0.8" fill="#f0f07a"/>
<rect x="167.7" y="478.9" width="1.2" height="1.0" fill="#e6e05c"/>
<rect x="170.0" y="482.2" width="0.9" height="0.9" fill="#f0f07a"/>
<rect x="164.2" y="491.3" width="1.1" height="0.9" fill="#e6e05c"/>
<rect x="171.0" y="482.5" width="1.1" height="1.0" fill="#e6e05c"/>
<rect x="172.4" y="486.8" width="0.8" height="0.8" fill="#c8b840"/>
<rect x="164.4" y="485.1" width="1.0" height="0.9" fill="#e6e05c"/>
<rect x="172.2" y="481.4" width="1.1" height="0.7" fill="#e6e05c"/>
<rect x="165.4" y="482.8" width="1.2" height="0.8" fill="#f0f07a"/>
<rect x="168.0" y="480.9" width="1.0" height="1.0" fill="#e6e05c"/>
<rect x="170.2" y="486.7" width="0.8" height="0.9" fill="#f0f07a"/>
<rect x="172.4" y="486.5" width="1.0" height="0.9" fill="#f0f07a"/>
<rect x="176.6" y="476.3" width="1.3" height="1.1" fill="#f0f07a"/>
<rect x="167.1" y="485.5" width="0.9" height="1.0" fill="#f0f07a"/>
<rect x="171.6" y="491.0" width="1.3" height="1.1" fill="#c8b840"/>
<rect x="174.7" y="479.3" width="0.8" height="1.0" fill="#e6e05c"/>
<rect x="168.2" y="483.3" width="1.0" height="0.9" fill="#f0f07a"/>
<rect x="170.6" y="486.3" width="0.9" height="1.2" fill="#e6e05c"/>
<rect x="169.9" y="478.9" width="1.2" height="0.7" fill="#e6e05c"/>
<rect x="165.4" y="478.4" width="1.1" height="1.0" fill="#e6e05c"/>
<rect x="170.2" y="484.1" width="1.1" height="0.9" fill="#e6e05c"/>
<rect x="170.6" y="483.7" width="0.8" height="0.8" fill="#c8b840"/>
<rect x="173.6" y="482.1" width="1.3" height="0.9" fill="#e6e05c"/>
<rect x="165.8" y="484.7" width="1.2" height="0.8" fill="#f0f07a"/>
<rect x="172.4" y="485.7" width="1.1" height="0.8" fill="#f0f07a"/>
<rect x="171.2" y="484.9" width="0.7" height="1.1" fill="#e6e05c"/>
<rect x="179.1" y="482.9" width="1.0" height="1.2" fill="#e6e05c"/>
<rect x="168.9" y="482.2" width="1.0" height="1.1" fill="#f0f07a"/>
<rect x="163.3" y="480.6" width="1.0" height="0.9" fill="#e6e05c"/>
<rect x="169.6" y="489.6" width="1.2" height="1.0" fill="#c8b840"/>
<rect x="164.4" y="479.8" width="0.7" height="0.7" fill="#e6e05c"/>
<rect x="168.2" y="482.6" width="0.8" height="1.0" fill="#c8b840"/>
<rect x="179.0" y="487.8" width="0.8" height="1.2" fill="#c8b840"/>
<rect x="172.3" y="486.3" width="1.2" height="0.8" fill="#f0f07a"/>
<rect x="168.5" y="487.4" width="1.0" height="1.0" fill="#f0f07a"/>
<rect x="172.2" y="488.4" width="1.2" height="0.9" fill="#e6e05c"/>
<rect x="174.1" y="481.6" width="1.3" height="1.0" fill="#f0f07a"/>
<rect x="171.9" y="481.5" width="0.8" height="1.1" fill="#c8b840"/>
<rect x="169.8" y="490.5" width="1.2" height="0.7" fill="#e6e05c"/>
<rect x="172.4" y="487.8" width="0.8" height="0.7" fill="#c8b840"/>
<rect x="169.8" y="482.4" width="1.3" height="1.1" fill="#c8b840"/>
<rect x="172.7" y="479.6" width="0.8" height="0.8" fill="#e6e05c"/>
<rect x="173.5" y="483.1" width="0.8" height="0.8" fill="#f0f07a"/>
<rect x="174.0" y="491.1" width="0.9" height="1.0" fill="#c8b840"/>
<rect x="169.9" y="493.1" width="1.0" height="0.7" fill="#e6e05c"/>
<rect x="168.4" y="487.5" width="1.2" height="1.2" fill="#e6e05c"/>
<rect x="175.1" y="486.8" width="1.2" height="1.0" fill="#f0f07a"/>
<rect x="165.7" y="478.9" width="1.1" height="0.9" fill="#e6e05c"/>
<rect x="172.2" y="480.9" width="1.0" height="0.8" fill="#e6e05c"/>
<rect x="164.3" y="491.3" width="1.1" height="1.0" fill="#e6e05c"/>
<rect x="170.8" y="478.7" width="0.9" height="0.9" fill="#c8b840"/>
<rect x="164.7" y="486.6" width="0.8" height="0.9" fill="#f0f07a"/>
<rect x="165.9" y="478.3" width="0.8" height="0.8" fill="#c8b840"/>
<rect x="170.9" y="482.8" width="1.2" height="1.1" fill="#e6e05c"/>
<rect x="172.4" y="483.2" width="1.2" height="0.9" fill="#e6e05c"/>
<rect x="171.7" y="486.5" width="0.7" height="1.0" fill="#f0f07a"/>
<rect x="168.3" y="482.9" width="0.8" height="0.8" fill="#f0f07a"/>
<rect x="168.4" y="481.5" width="0.8" height="1.1" fill="#c8b840"/>
<rect x="169.2" y="483.9" width="1.0" height="1.1" fill="#f0f07a"/>
<rect x="175.1" y="489.3" width="1.2" height="0.9" fill="#e6e05c"/>
<rect x="172.5" y="483.1" width="0.9" height="1.1" fill="#e6e05c"/>
<rect x="169.2" y="483.9" width="0.8" height="0.7" fill="#f0f07a"/>
<rect x="182.5" y="492.1" width="1.3" height="0.9" fill="#e6e05c"/>
<rect x="182.9" y="491.7" width="0.9" height="0.7" fill="#c8b840"/>
<rect x="184.1" y="491.7" width="1.2" height="1.0" fill="#e6e05c"/>
<rect x="183.5" y="490.4" width="1.1" height="1.1" fill="#e6e05c"/>
<rect x="185.7" y="489.6" width="1.2" height="1.2" fill="#f0f07a"/>
<rect x="184.0" y="491.0" width="1.2" height="1.1" fill="#c8b840"/>
<rect x="180.0" y="491.4" width="0.9" height="1.0" fill="#e6e05c"/>
<rect x="183.0" y="491.7" width="0.8" height="0.7" fill="#c8b840"/>
<rect x="184.5" y="489.9" width="1.3" height="0.8" fill="#f0f07a"/>
<rect x="184.3" y="490.2" width="1.1" height="1.0" fill="#e6e05c"/>
<rect x="182.4" y="494.1" width="1.3" height="1.0" fill="#e6e05c"/>
<rect x="188.5" y="491.5" width="0.7" height="0.9" fill="#e6e05c"/>
<rect x="187.7" y="493.6" width="1.1" height="0.7" fill="#c8b840"/>
<rect x="185.2" y="488.5" width="1.1" height="1.0" fill="#f0f07a"/>
<rect x="183.7" y="491.9" width="0.8" height="0.7" fill="#f0f07a"/>
<rect x="185.1" y="491.7" width="1.1" height="1.1" fill="#e6e05c"/>
<rect x="119.5" y="493.3" width="0.7" height="0.7" fill="#e6e05c"/>
<rect x="119.8" y="491.5" width="1.0" height="1.0" fill="#e6e05c"/>
<rect x="120.6" y="491.1" width="1.0" height="1.1" fill="#f0f07a"/>
<rect x="120.3" y="492.9" width="1.3" height="1.1" fill="#f0f07a"/>
</g>
<text x="154.6" y="472" font-family="'DejaVu Sans','Liberation Sans',sans-serif" font-size="12.2" text-anchor="middle" fill="#eee">5 µm</text>
<rect x="129.4" y="476.1" width="51.2" height="1.3" fill="#ddd"/>
<rect x="278.4" y="344.8" width="14" height="149.4" fill="url(#gold)" stroke="#111" stroke-width="0.9"/>
<text x="294.6" y="355" font-family="'DejaVu Sans','Liberation Sans',sans-serif" font-size="11.4" fill="#111">1.0 nA</text>
<text x="294.6" y="385" font-family="'DejaVu Sans','Liberation Sans',sans-serif" font-size="11.4" fill="#111">0.8</text>
<text x="294.6" y="414.6" font-family="'DejaVu Sans','Liberation Sans',sans-serif" font-size="11.4" fill="#111">0.6</text>
<text x="294.6" y="444.6" font-family="'DejaVu Sans','Liberation Sans',sans-serif" font-size="11.4" fill="#111">0.4</text>
<text x="294.6" y="490.4" font-family="'DejaVu Sans','Liberation Sans',sans-serif" font-size="11.4" fill="#111">0.0</text>
<text x="108" y="356.4" font-family="'Liberation Sans','DejaVu Sans',sans-serif" font-size="12" font-weight="bold" fill="#111">f)</text>
<rect x="361.4" y="344.4" width="151" height="150" filter="url(#afm)"/>
<clipPath id="cg"><rect x="361.4" y="344.4" width="151" height="150"/></clipPath>
<g clip-path="url(#cg)" filter="url(#bl3)">
<ellipse cx="460" cy="422" rx="30" ry="18" fill="#2a0e02" opacity="0.32"/>
<ellipse cx="382" cy="420" rx="22" ry="12" fill="#2a0e02" opacity="0.22"/>
<ellipse cx="425" cy="384" rx="26" ry="12" fill="#2a0e02" opacity="0.18"/>
<ellipse cx="488" cy="398" rx="18" ry="12" fill="#2a0e02" opacity="0.18"/>
<ellipse cx="378" cy="356" rx="18" ry="12" fill="#f6d858" opacity="0.22"/>
<ellipse cx="379" cy="392" rx="12" ry="10" fill="#f6d858" opacity="0.15"/>
<ellipse cx="391" cy="455" rx="18" ry="12" fill="#f6d858" opacity="0.2"/>
<ellipse cx="372" cy="483" rx="12" ry="10" fill="#f6d858" opacity="0.2"/>
<ellipse cx="455" cy="481" rx="40" ry="12" fill="#f6d858" opacity="0.22"/>
<ellipse cx="494" cy="360" rx="14" ry="12" fill="#f6d858" opacity="0.16"/>
<ellipse cx="500" cy="446" rx="10" ry="12" fill="#f6d858" opacity="0.14"/>
</g>
<rect x="361.8" y="344.8" width="150.2" height="149.2" fill="none" stroke="#1a0c04" stroke-width="0.9"/>
<text x="397.4" y="472" font-family="'DejaVu Sans','Liberation Sans',sans-serif" font-size="11.4" text-anchor="middle" fill="#fbf8ee">5 µm</text>
<rect x="372" y="476.3" width="50.6" height="1.3" fill="#fbf8ee"/>
<rect x="520.8" y="344.8" width="14.6" height="149.4" fill="url(#gold)" stroke="#111" stroke-width="0.9"/>
<text x="537.4" y="355.6" font-family="'DejaVu Sans','Liberation Sans',sans-serif" font-size="11.5" fill="#111" word-spacing="0.2">65 nm</text>
<text x="537.4" y="390" font-family="'DejaVu Sans','Liberation Sans',sans-serif" font-size="11.5" fill="#111" word-spacing="0.2">50</text>
<text x="537.4" y="412.8" font-family="'DejaVu Sans','Liberation Sans',sans-serif" font-size="11.5" fill="#111" word-spacing="0.2">40</text>
<text x="537.4" y="436" font-family="'DejaVu Sans','Liberation Sans',sans-serif" font-size="11.5" fill="#111" word-spacing="0.2">30</text>
<text x="537.4" y="459.2" font-family="'DejaVu Sans','Liberation Sans',sans-serif" font-size="11.5" fill="#111" word-spacing="0.2">20</text>
<text x="545" y="491" font-family="'DejaVu Sans','Liberation Sans',sans-serif" font-size="11.5" fill="#111" word-spacing="0.2">0</text>
<text x="346.6" y="356.4" font-family="'Liberation Sans','DejaVu Sans',sans-serif" font-size="12" font-weight="bold" fill="#111">g)</text>
</svg>
</body></html>
